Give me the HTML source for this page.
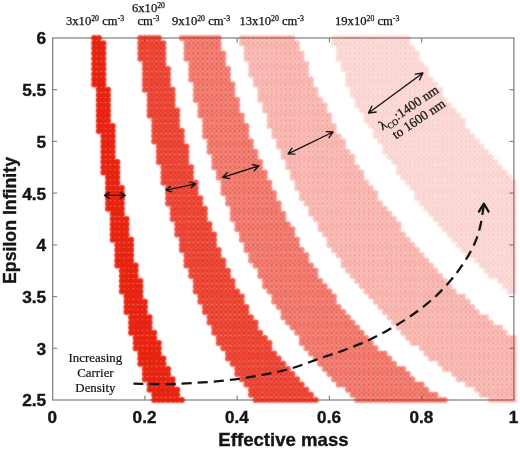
<!DOCTYPE html>
<html><head><meta charset="utf-8"><title>Effective mass vs Epsilon Infinity</title>
<style>html,body{margin:0;padding:0;background:#fff}svg{display:block}</style></head>
<body>
<svg width="520" height="449" viewBox="0 0 520 449">
<rect width="520" height="449" fill="#fff"/>
<rect x="52.7" y="38.0" width="461.2" height="362.0" fill="none" stroke="#7d7d7d" stroke-width="1.2"/>
<g stroke="#7d7d7d" stroke-width="1.1"><line x1="144.9" y1="400.0" x2="144.9" y2="395.5"/><line x1="144.9" y1="38.0" x2="144.9" y2="42.5"/><line x1="237.2" y1="400.0" x2="237.2" y2="395.5"/><line x1="237.2" y1="38.0" x2="237.2" y2="42.5"/><line x1="329.4" y1="400.0" x2="329.4" y2="395.5"/><line x1="329.4" y1="38.0" x2="329.4" y2="42.5"/><line x1="421.7" y1="400.0" x2="421.7" y2="395.5"/><line x1="421.7" y1="38.0" x2="421.7" y2="42.5"/><line x1="52.7" y1="348.3" x2="57.2" y2="348.3"/><line x1="513.9" y1="348.3" x2="509.4" y2="348.3"/><line x1="52.7" y1="296.6" x2="57.2" y2="296.6"/><line x1="513.9" y1="296.6" x2="509.4" y2="296.6"/><line x1="52.7" y1="244.9" x2="57.2" y2="244.9"/><line x1="513.9" y1="244.9" x2="509.4" y2="244.9"/><line x1="52.7" y1="193.1" x2="57.2" y2="193.1"/><line x1="513.9" y1="193.1" x2="509.4" y2="193.1"/><line x1="52.7" y1="141.4" x2="57.2" y2="141.4"/><line x1="513.9" y1="141.4" x2="509.4" y2="141.4"/><line x1="52.7" y1="89.7" x2="57.2" y2="89.7"/><line x1="513.9" y1="89.7" x2="509.4" y2="89.7"/></g>
<defs><filter id="bl" color-interpolation-filters="sRGB" x="-5%" y="-5%" width="110%" height="110%"><feGaussianBlur stdDeviation="0.9" result="b"/><feComposite in="SourceGraphic" in2="b" operator="arithmetic" k1="0" k2="0.45" k3="0.55" k4="0"/></filter></defs><g filter="url(#bl)"><g fill="#e61c08" fill-opacity="0.97"><circle cx="94.2" cy="84.5" r="3.0"/><circle cx="94.2" cy="79.4" r="3.0"/><circle cx="94.2" cy="74.2" r="3.0"/><circle cx="94.2" cy="69.0" r="3.0"/><circle cx="94.2" cy="63.9" r="3.0"/><circle cx="94.2" cy="58.7" r="3.0"/><circle cx="94.2" cy="53.5" r="3.0"/><circle cx="94.2" cy="48.3" r="3.0"/><circle cx="94.2" cy="43.2" r="3.0"/><circle cx="94.2" cy="38.0" r="3.0"/><circle cx="98.8" cy="131.1" r="3.0"/><circle cx="98.8" cy="125.9" r="3.0"/><circle cx="98.8" cy="120.7" r="3.0"/><circle cx="98.8" cy="115.6" r="3.0"/><circle cx="98.8" cy="110.4" r="3.0"/><circle cx="98.8" cy="105.2" r="3.0"/><circle cx="98.8" cy="100.1" r="3.0"/><circle cx="98.8" cy="94.9" r="3.0"/><circle cx="98.8" cy="89.7" r="3.0"/><circle cx="98.8" cy="84.5" r="3.0"/><circle cx="98.8" cy="79.4" r="3.0"/><circle cx="98.8" cy="74.2" r="3.0"/><circle cx="98.8" cy="69.0" r="3.0"/><circle cx="98.8" cy="63.9" r="3.0"/><circle cx="98.8" cy="58.7" r="3.0"/><circle cx="98.8" cy="53.5" r="3.0"/><circle cx="98.8" cy="48.3" r="3.0"/><circle cx="98.8" cy="43.2" r="3.0"/><circle cx="98.8" cy="38.0" r="3.0"/><circle cx="103.4" cy="172.5" r="3.0"/><circle cx="103.4" cy="167.3" r="3.0"/><circle cx="103.4" cy="162.1" r="3.0"/><circle cx="103.4" cy="156.9" r="3.0"/><circle cx="103.4" cy="151.8" r="3.0"/><circle cx="103.4" cy="146.6" r="3.0"/><circle cx="103.4" cy="141.4" r="3.0"/><circle cx="103.4" cy="136.3" r="3.0"/><circle cx="103.4" cy="131.1" r="3.0"/><circle cx="103.4" cy="125.9" r="3.0"/><circle cx="103.4" cy="120.7" r="3.0"/><circle cx="103.4" cy="115.6" r="3.0"/><circle cx="103.4" cy="110.4" r="3.0"/><circle cx="103.4" cy="105.2" r="3.0"/><circle cx="103.4" cy="100.1" r="3.0"/><circle cx="103.4" cy="94.9" r="3.0"/><circle cx="103.4" cy="89.7" r="3.0"/><circle cx="103.4" cy="84.5" r="3.0"/><circle cx="103.4" cy="79.4" r="3.0"/><circle cx="103.4" cy="74.2" r="3.0"/><circle cx="103.4" cy="69.0" r="3.0"/><circle cx="103.4" cy="63.9" r="3.0"/><circle cx="103.4" cy="58.7" r="3.0"/><circle cx="103.4" cy="53.5" r="3.0"/><circle cx="103.4" cy="48.3" r="3.0"/><circle cx="103.4" cy="43.2" r="3.0"/><circle cx="108.0" cy="208.7" r="3.0"/><circle cx="108.0" cy="203.5" r="3.0"/><circle cx="108.0" cy="198.3" r="3.0"/><circle cx="108.0" cy="193.1" r="3.0"/><circle cx="108.0" cy="188.0" r="3.0"/><circle cx="108.0" cy="182.8" r="3.0"/><circle cx="108.0" cy="177.6" r="3.0"/><circle cx="108.0" cy="172.5" r="3.0"/><circle cx="108.0" cy="167.3" r="3.0"/><circle cx="108.0" cy="162.1" r="3.0"/><circle cx="108.0" cy="156.9" r="3.0"/><circle cx="108.0" cy="151.8" r="3.0"/><circle cx="108.0" cy="146.6" r="3.0"/><circle cx="108.0" cy="141.4" r="3.0"/><circle cx="108.0" cy="136.3" r="3.0"/><circle cx="108.0" cy="131.1" r="3.0"/><circle cx="108.0" cy="125.9" r="3.0"/><circle cx="108.0" cy="120.7" r="3.0"/><circle cx="108.0" cy="115.6" r="3.0"/><circle cx="108.0" cy="110.4" r="3.0"/><circle cx="108.0" cy="105.2" r="3.0"/><circle cx="108.0" cy="100.1" r="3.0"/><circle cx="108.0" cy="94.9" r="3.0"/><circle cx="108.0" cy="89.7" r="3.0"/><circle cx="112.7" cy="239.7" r="3.0"/><circle cx="112.7" cy="234.5" r="3.0"/><circle cx="112.7" cy="229.3" r="3.0"/><circle cx="112.7" cy="224.2" r="3.0"/><circle cx="112.7" cy="219.0" r="3.0"/><circle cx="112.7" cy="213.8" r="3.0"/><circle cx="112.7" cy="208.7" r="3.0"/><circle cx="112.7" cy="203.5" r="3.0"/><circle cx="112.7" cy="198.3" r="3.0"/><circle cx="112.7" cy="193.1" r="3.0"/><circle cx="112.7" cy="188.0" r="3.0"/><circle cx="112.7" cy="182.8" r="3.0"/><circle cx="112.7" cy="177.6" r="3.0"/><circle cx="112.7" cy="172.5" r="3.0"/><circle cx="112.7" cy="167.3" r="3.0"/><circle cx="112.7" cy="162.1" r="3.0"/><circle cx="112.7" cy="156.9" r="3.0"/><circle cx="112.7" cy="151.8" r="3.0"/><circle cx="112.7" cy="146.6" r="3.0"/><circle cx="112.7" cy="141.4" r="3.0"/><circle cx="112.7" cy="136.3" r="3.0"/><circle cx="112.7" cy="131.1" r="3.0"/><circle cx="112.7" cy="125.9" r="3.0"/><circle cx="117.3" cy="265.5" r="3.0"/><circle cx="117.3" cy="260.4" r="3.0"/><circle cx="117.3" cy="255.2" r="3.0"/><circle cx="117.3" cy="250.0" r="3.0"/><circle cx="117.3" cy="244.9" r="3.0"/><circle cx="117.3" cy="239.7" r="3.0"/><circle cx="117.3" cy="234.5" r="3.0"/><circle cx="117.3" cy="229.3" r="3.0"/><circle cx="117.3" cy="224.2" r="3.0"/><circle cx="117.3" cy="219.0" r="3.0"/><circle cx="117.3" cy="213.8" r="3.0"/><circle cx="117.3" cy="208.7" r="3.0"/><circle cx="117.3" cy="203.5" r="3.0"/><circle cx="117.3" cy="198.3" r="3.0"/><circle cx="117.3" cy="193.1" r="3.0"/><circle cx="117.3" cy="188.0" r="3.0"/><circle cx="117.3" cy="182.8" r="3.0"/><circle cx="117.3" cy="177.6" r="3.0"/><circle cx="117.3" cy="172.5" r="3.0"/><circle cx="117.3" cy="167.3" r="3.0"/><circle cx="117.3" cy="162.1" r="3.0"/><circle cx="121.9" cy="291.4" r="3.0"/><circle cx="121.9" cy="286.2" r="3.0"/><circle cx="121.9" cy="281.1" r="3.0"/><circle cx="121.9" cy="275.9" r="3.0"/><circle cx="121.9" cy="270.7" r="3.0"/><circle cx="121.9" cy="265.5" r="3.0"/><circle cx="121.9" cy="260.4" r="3.0"/><circle cx="121.9" cy="255.2" r="3.0"/><circle cx="121.9" cy="250.0" r="3.0"/><circle cx="121.9" cy="244.9" r="3.0"/><circle cx="121.9" cy="239.7" r="3.0"/><circle cx="121.9" cy="234.5" r="3.0"/><circle cx="121.9" cy="229.3" r="3.0"/><circle cx="121.9" cy="224.2" r="3.0"/><circle cx="121.9" cy="219.0" r="3.0"/><circle cx="121.9" cy="213.8" r="3.0"/><circle cx="121.9" cy="208.7" r="3.0"/><circle cx="121.9" cy="203.5" r="3.0"/><circle cx="121.9" cy="198.3" r="3.0"/><circle cx="121.9" cy="193.1" r="3.0"/><circle cx="121.9" cy="188.0" r="3.0"/><circle cx="126.5" cy="312.1" r="3.0"/><circle cx="126.5" cy="306.9" r="3.0"/><circle cx="126.5" cy="301.7" r="3.0"/><circle cx="126.5" cy="296.6" r="3.0"/><circle cx="126.5" cy="291.4" r="3.0"/><circle cx="126.5" cy="286.2" r="3.0"/><circle cx="126.5" cy="281.1" r="3.0"/><circle cx="126.5" cy="275.9" r="3.0"/><circle cx="126.5" cy="270.7" r="3.0"/><circle cx="126.5" cy="265.5" r="3.0"/><circle cx="126.5" cy="260.4" r="3.0"/><circle cx="126.5" cy="255.2" r="3.0"/><circle cx="126.5" cy="250.0" r="3.0"/><circle cx="126.5" cy="244.9" r="3.0"/><circle cx="126.5" cy="239.7" r="3.0"/><circle cx="126.5" cy="234.5" r="3.0"/><circle cx="126.5" cy="229.3" r="3.0"/><circle cx="126.5" cy="224.2" r="3.0"/><circle cx="126.5" cy="219.0" r="3.0"/><circle cx="131.1" cy="332.8" r="3.0"/><circle cx="131.1" cy="327.6" r="3.0"/><circle cx="131.1" cy="322.4" r="3.0"/><circle cx="131.1" cy="317.3" r="3.0"/><circle cx="131.1" cy="312.1" r="3.0"/><circle cx="131.1" cy="306.9" r="3.0"/><circle cx="131.1" cy="301.7" r="3.0"/><circle cx="131.1" cy="296.6" r="3.0"/><circle cx="131.1" cy="291.4" r="3.0"/><circle cx="131.1" cy="286.2" r="3.0"/><circle cx="131.1" cy="281.1" r="3.0"/><circle cx="131.1" cy="275.9" r="3.0"/><circle cx="131.1" cy="270.7" r="3.0"/><circle cx="131.1" cy="265.5" r="3.0"/><circle cx="131.1" cy="260.4" r="3.0"/><circle cx="131.1" cy="255.2" r="3.0"/><circle cx="131.1" cy="250.0" r="3.0"/><circle cx="131.1" cy="244.9" r="3.0"/><circle cx="131.1" cy="239.7" r="3.0"/><circle cx="135.7" cy="348.3" r="3.0"/><circle cx="135.7" cy="343.1" r="3.0"/><circle cx="135.7" cy="337.9" r="3.0"/><circle cx="135.7" cy="332.8" r="3.0"/><circle cx="135.7" cy="327.6" r="3.0"/><circle cx="135.7" cy="322.4" r="3.0"/><circle cx="135.7" cy="317.3" r="3.0"/><circle cx="135.7" cy="312.1" r="3.0"/><circle cx="135.7" cy="306.9" r="3.0"/><circle cx="135.7" cy="301.7" r="3.0"/><circle cx="135.7" cy="296.6" r="3.0"/><circle cx="135.7" cy="291.4" r="3.0"/><circle cx="135.7" cy="286.2" r="3.0"/><circle cx="135.7" cy="281.1" r="3.0"/><circle cx="135.7" cy="275.9" r="3.0"/><circle cx="135.7" cy="270.7" r="3.0"/><circle cx="135.7" cy="265.5" r="3.0"/><circle cx="140.3" cy="363.8" r="3.0"/><circle cx="140.3" cy="358.6" r="3.0"/><circle cx="140.3" cy="353.5" r="3.0"/><circle cx="140.3" cy="348.3" r="3.0"/><circle cx="140.3" cy="343.1" r="3.0"/><circle cx="140.3" cy="337.9" r="3.0"/><circle cx="140.3" cy="332.8" r="3.0"/><circle cx="140.3" cy="327.6" r="3.0"/><circle cx="140.3" cy="322.4" r="3.0"/><circle cx="140.3" cy="317.3" r="3.0"/><circle cx="140.3" cy="312.1" r="3.0"/><circle cx="140.3" cy="306.9" r="3.0"/><circle cx="140.3" cy="301.7" r="3.0"/><circle cx="140.3" cy="296.6" r="3.0"/><circle cx="140.3" cy="291.4" r="3.0"/><circle cx="140.3" cy="286.2" r="3.0"/><circle cx="140.3" cy="281.1" r="3.0"/><circle cx="144.9" cy="379.3" r="3.0"/><circle cx="144.9" cy="374.1" r="3.0"/><circle cx="144.9" cy="369.0" r="3.0"/><circle cx="144.9" cy="363.8" r="3.0"/><circle cx="144.9" cy="358.6" r="3.0"/><circle cx="144.9" cy="353.5" r="3.0"/><circle cx="144.9" cy="348.3" r="3.0"/><circle cx="144.9" cy="343.1" r="3.0"/><circle cx="144.9" cy="337.9" r="3.0"/><circle cx="144.9" cy="332.8" r="3.0"/><circle cx="144.9" cy="327.6" r="3.0"/><circle cx="144.9" cy="322.4" r="3.0"/><circle cx="144.9" cy="317.3" r="3.0"/><circle cx="144.9" cy="312.1" r="3.0"/><circle cx="144.9" cy="306.9" r="3.0"/><circle cx="144.9" cy="301.7" r="3.0"/><circle cx="149.6" cy="389.7" r="3.0"/><circle cx="149.6" cy="384.5" r="3.0"/><circle cx="149.6" cy="379.3" r="3.0"/><circle cx="149.6" cy="374.1" r="3.0"/><circle cx="149.6" cy="369.0" r="3.0"/><circle cx="149.6" cy="363.8" r="3.0"/><circle cx="149.6" cy="358.6" r="3.0"/><circle cx="149.6" cy="353.5" r="3.0"/><circle cx="149.6" cy="348.3" r="3.0"/><circle cx="149.6" cy="343.1" r="3.0"/><circle cx="149.6" cy="337.9" r="3.0"/><circle cx="149.6" cy="332.8" r="3.0"/><circle cx="149.6" cy="327.6" r="3.0"/><circle cx="149.6" cy="322.4" r="3.0"/><circle cx="149.6" cy="317.3" r="3.0"/><circle cx="154.2" cy="400.0" r="3.0"/><circle cx="154.2" cy="394.8" r="3.0"/><circle cx="154.2" cy="389.7" r="3.0"/><circle cx="154.2" cy="384.5" r="3.0"/><circle cx="154.2" cy="379.3" r="3.0"/><circle cx="154.2" cy="374.1" r="3.0"/><circle cx="154.2" cy="369.0" r="3.0"/><circle cx="154.2" cy="363.8" r="3.0"/><circle cx="154.2" cy="358.6" r="3.0"/><circle cx="154.2" cy="353.5" r="3.0"/><circle cx="154.2" cy="348.3" r="3.0"/><circle cx="154.2" cy="343.1" r="3.0"/><circle cx="154.2" cy="337.9" r="3.0"/><circle cx="154.2" cy="332.8" r="3.0"/><circle cx="158.8" cy="400.0" r="3.0"/><circle cx="158.8" cy="394.8" r="3.0"/><circle cx="158.8" cy="389.7" r="3.0"/><circle cx="158.8" cy="384.5" r="3.0"/><circle cx="158.8" cy="379.3" r="3.0"/><circle cx="158.8" cy="374.1" r="3.0"/><circle cx="158.8" cy="369.0" r="3.0"/><circle cx="158.8" cy="363.8" r="3.0"/><circle cx="158.8" cy="358.6" r="3.0"/><circle cx="158.8" cy="353.5" r="3.0"/><circle cx="158.8" cy="348.3" r="3.0"/><circle cx="158.8" cy="343.1" r="3.0"/><circle cx="163.4" cy="400.0" r="3.0"/><circle cx="163.4" cy="394.8" r="3.0"/><circle cx="163.4" cy="389.7" r="3.0"/><circle cx="163.4" cy="384.5" r="3.0"/><circle cx="163.4" cy="379.3" r="3.0"/><circle cx="163.4" cy="374.1" r="3.0"/><circle cx="163.4" cy="369.0" r="3.0"/><circle cx="163.4" cy="363.8" r="3.0"/><circle cx="163.4" cy="358.6" r="3.0"/><circle cx="168.0" cy="400.0" r="3.0"/><circle cx="168.0" cy="394.8" r="3.0"/><circle cx="168.0" cy="389.7" r="3.0"/><circle cx="168.0" cy="384.5" r="3.0"/><circle cx="168.0" cy="379.3" r="3.0"/><circle cx="168.0" cy="374.1" r="3.0"/><circle cx="168.0" cy="369.0" r="3.0"/><circle cx="172.6" cy="400.0" r="3.0"/><circle cx="172.6" cy="394.8" r="3.0"/><circle cx="172.6" cy="389.7" r="3.0"/><circle cx="172.6" cy="384.5" r="3.0"/><circle cx="172.6" cy="379.3" r="3.0"/><circle cx="177.2" cy="400.0" r="3.0"/><circle cx="177.2" cy="394.8" r="3.0"/><circle cx="177.2" cy="389.7" r="3.0"/><circle cx="181.8" cy="400.0" r="3.0"/></g>
<g fill="#e61c08" fill-opacity="0.79"><circle cx="140.3" cy="58.7" r="3.0"/><circle cx="140.3" cy="53.5" r="3.0"/><circle cx="140.3" cy="48.3" r="3.0"/><circle cx="140.3" cy="43.2" r="3.0"/><circle cx="140.3" cy="38.0" r="3.0"/><circle cx="144.9" cy="89.7" r="3.0"/><circle cx="144.9" cy="84.5" r="3.0"/><circle cx="144.9" cy="79.4" r="3.0"/><circle cx="144.9" cy="74.2" r="3.0"/><circle cx="144.9" cy="69.0" r="3.0"/><circle cx="144.9" cy="63.9" r="3.0"/><circle cx="144.9" cy="58.7" r="3.0"/><circle cx="144.9" cy="53.5" r="3.0"/><circle cx="144.9" cy="48.3" r="3.0"/><circle cx="144.9" cy="43.2" r="3.0"/><circle cx="144.9" cy="38.0" r="3.0"/><circle cx="149.6" cy="115.6" r="3.0"/><circle cx="149.6" cy="110.4" r="3.0"/><circle cx="149.6" cy="105.2" r="3.0"/><circle cx="149.6" cy="100.1" r="3.0"/><circle cx="149.6" cy="94.9" r="3.0"/><circle cx="149.6" cy="89.7" r="3.0"/><circle cx="149.6" cy="84.5" r="3.0"/><circle cx="149.6" cy="79.4" r="3.0"/><circle cx="149.6" cy="74.2" r="3.0"/><circle cx="149.6" cy="69.0" r="3.0"/><circle cx="149.6" cy="63.9" r="3.0"/><circle cx="149.6" cy="58.7" r="3.0"/><circle cx="149.6" cy="53.5" r="3.0"/><circle cx="149.6" cy="48.3" r="3.0"/><circle cx="149.6" cy="43.2" r="3.0"/><circle cx="149.6" cy="38.0" r="3.0"/><circle cx="154.2" cy="141.4" r="3.0"/><circle cx="154.2" cy="136.3" r="3.0"/><circle cx="154.2" cy="131.1" r="3.0"/><circle cx="154.2" cy="125.9" r="3.0"/><circle cx="154.2" cy="120.7" r="3.0"/><circle cx="154.2" cy="115.6" r="3.0"/><circle cx="154.2" cy="110.4" r="3.0"/><circle cx="154.2" cy="105.2" r="3.0"/><circle cx="154.2" cy="100.1" r="3.0"/><circle cx="154.2" cy="94.9" r="3.0"/><circle cx="154.2" cy="89.7" r="3.0"/><circle cx="154.2" cy="84.5" r="3.0"/><circle cx="154.2" cy="79.4" r="3.0"/><circle cx="154.2" cy="74.2" r="3.0"/><circle cx="154.2" cy="69.0" r="3.0"/><circle cx="154.2" cy="63.9" r="3.0"/><circle cx="154.2" cy="58.7" r="3.0"/><circle cx="154.2" cy="53.5" r="3.0"/><circle cx="154.2" cy="48.3" r="3.0"/><circle cx="154.2" cy="43.2" r="3.0"/><circle cx="154.2" cy="38.0" r="3.0"/><circle cx="158.8" cy="162.1" r="3.0"/><circle cx="158.8" cy="156.9" r="3.0"/><circle cx="158.8" cy="151.8" r="3.0"/><circle cx="158.8" cy="146.6" r="3.0"/><circle cx="158.8" cy="141.4" r="3.0"/><circle cx="158.8" cy="136.3" r="3.0"/><circle cx="158.8" cy="131.1" r="3.0"/><circle cx="158.8" cy="125.9" r="3.0"/><circle cx="158.8" cy="120.7" r="3.0"/><circle cx="158.8" cy="115.6" r="3.0"/><circle cx="158.8" cy="110.4" r="3.0"/><circle cx="158.8" cy="105.2" r="3.0"/><circle cx="158.8" cy="100.1" r="3.0"/><circle cx="158.8" cy="94.9" r="3.0"/><circle cx="158.8" cy="89.7" r="3.0"/><circle cx="158.8" cy="84.5" r="3.0"/><circle cx="158.8" cy="79.4" r="3.0"/><circle cx="158.8" cy="74.2" r="3.0"/><circle cx="158.8" cy="69.0" r="3.0"/><circle cx="158.8" cy="63.9" r="3.0"/><circle cx="158.8" cy="58.7" r="3.0"/><circle cx="158.8" cy="53.5" r="3.0"/><circle cx="158.8" cy="48.3" r="3.0"/><circle cx="158.8" cy="43.2" r="3.0"/><circle cx="158.8" cy="38.0" r="3.0"/><circle cx="163.4" cy="182.8" r="3.0"/><circle cx="163.4" cy="177.6" r="3.0"/><circle cx="163.4" cy="172.5" r="3.0"/><circle cx="163.4" cy="167.3" r="3.0"/><circle cx="163.4" cy="162.1" r="3.0"/><circle cx="163.4" cy="156.9" r="3.0"/><circle cx="163.4" cy="151.8" r="3.0"/><circle cx="163.4" cy="146.6" r="3.0"/><circle cx="163.4" cy="141.4" r="3.0"/><circle cx="163.4" cy="136.3" r="3.0"/><circle cx="163.4" cy="131.1" r="3.0"/><circle cx="163.4" cy="125.9" r="3.0"/><circle cx="163.4" cy="120.7" r="3.0"/><circle cx="163.4" cy="115.6" r="3.0"/><circle cx="163.4" cy="110.4" r="3.0"/><circle cx="163.4" cy="105.2" r="3.0"/><circle cx="163.4" cy="100.1" r="3.0"/><circle cx="163.4" cy="94.9" r="3.0"/><circle cx="163.4" cy="89.7" r="3.0"/><circle cx="163.4" cy="84.5" r="3.0"/><circle cx="163.4" cy="79.4" r="3.0"/><circle cx="163.4" cy="74.2" r="3.0"/><circle cx="163.4" cy="69.0" r="3.0"/><circle cx="163.4" cy="63.9" r="3.0"/><circle cx="163.4" cy="58.7" r="3.0"/><circle cx="163.4" cy="53.5" r="3.0"/><circle cx="163.4" cy="48.3" r="3.0"/><circle cx="163.4" cy="43.2" r="3.0"/><circle cx="168.0" cy="203.5" r="3.0"/><circle cx="168.0" cy="198.3" r="3.0"/><circle cx="168.0" cy="193.1" r="3.0"/><circle cx="168.0" cy="188.0" r="3.0"/><circle cx="168.0" cy="182.8" r="3.0"/><circle cx="168.0" cy="177.6" r="3.0"/><circle cx="168.0" cy="172.5" r="3.0"/><circle cx="168.0" cy="167.3" r="3.0"/><circle cx="168.0" cy="162.1" r="3.0"/><circle cx="168.0" cy="156.9" r="3.0"/><circle cx="168.0" cy="151.8" r="3.0"/><circle cx="168.0" cy="146.6" r="3.0"/><circle cx="168.0" cy="141.4" r="3.0"/><circle cx="168.0" cy="136.3" r="3.0"/><circle cx="168.0" cy="131.1" r="3.0"/><circle cx="168.0" cy="125.9" r="3.0"/><circle cx="168.0" cy="120.7" r="3.0"/><circle cx="168.0" cy="115.6" r="3.0"/><circle cx="168.0" cy="110.4" r="3.0"/><circle cx="168.0" cy="105.2" r="3.0"/><circle cx="168.0" cy="100.1" r="3.0"/><circle cx="168.0" cy="94.9" r="3.0"/><circle cx="168.0" cy="89.7" r="3.0"/><circle cx="168.0" cy="84.5" r="3.0"/><circle cx="168.0" cy="79.4" r="3.0"/><circle cx="168.0" cy="74.2" r="3.0"/><circle cx="168.0" cy="69.0" r="3.0"/><circle cx="172.6" cy="219.0" r="3.0"/><circle cx="172.6" cy="213.8" r="3.0"/><circle cx="172.6" cy="208.7" r="3.0"/><circle cx="172.6" cy="203.5" r="3.0"/><circle cx="172.6" cy="198.3" r="3.0"/><circle cx="172.6" cy="193.1" r="3.0"/><circle cx="172.6" cy="188.0" r="3.0"/><circle cx="172.6" cy="182.8" r="3.0"/><circle cx="172.6" cy="177.6" r="3.0"/><circle cx="172.6" cy="172.5" r="3.0"/><circle cx="172.6" cy="167.3" r="3.0"/><circle cx="172.6" cy="162.1" r="3.0"/><circle cx="172.6" cy="156.9" r="3.0"/><circle cx="172.6" cy="151.8" r="3.0"/><circle cx="172.6" cy="146.6" r="3.0"/><circle cx="172.6" cy="141.4" r="3.0"/><circle cx="172.6" cy="136.3" r="3.0"/><circle cx="172.6" cy="131.1" r="3.0"/><circle cx="172.6" cy="125.9" r="3.0"/><circle cx="172.6" cy="120.7" r="3.0"/><circle cx="172.6" cy="115.6" r="3.0"/><circle cx="172.6" cy="110.4" r="3.0"/><circle cx="172.6" cy="105.2" r="3.0"/><circle cx="172.6" cy="100.1" r="3.0"/><circle cx="172.6" cy="94.9" r="3.0"/><circle cx="172.6" cy="89.7" r="3.0"/><circle cx="177.2" cy="234.5" r="3.0"/><circle cx="177.2" cy="229.3" r="3.0"/><circle cx="177.2" cy="224.2" r="3.0"/><circle cx="177.2" cy="219.0" r="3.0"/><circle cx="177.2" cy="213.8" r="3.0"/><circle cx="177.2" cy="208.7" r="3.0"/><circle cx="177.2" cy="203.5" r="3.0"/><circle cx="177.2" cy="198.3" r="3.0"/><circle cx="177.2" cy="193.1" r="3.0"/><circle cx="177.2" cy="188.0" r="3.0"/><circle cx="177.2" cy="182.8" r="3.0"/><circle cx="177.2" cy="177.6" r="3.0"/><circle cx="177.2" cy="172.5" r="3.0"/><circle cx="177.2" cy="167.3" r="3.0"/><circle cx="177.2" cy="162.1" r="3.0"/><circle cx="177.2" cy="156.9" r="3.0"/><circle cx="177.2" cy="151.8" r="3.0"/><circle cx="177.2" cy="146.6" r="3.0"/><circle cx="177.2" cy="141.4" r="3.0"/><circle cx="177.2" cy="136.3" r="3.0"/><circle cx="177.2" cy="131.1" r="3.0"/><circle cx="177.2" cy="125.9" r="3.0"/><circle cx="177.2" cy="120.7" r="3.0"/><circle cx="177.2" cy="115.6" r="3.0"/><circle cx="177.2" cy="110.4" r="3.0"/><circle cx="181.8" cy="250.0" r="3.0"/><circle cx="181.8" cy="244.9" r="3.0"/><circle cx="181.8" cy="239.7" r="3.0"/><circle cx="181.8" cy="234.5" r="3.0"/><circle cx="181.8" cy="229.3" r="3.0"/><circle cx="181.8" cy="224.2" r="3.0"/><circle cx="181.8" cy="219.0" r="3.0"/><circle cx="181.8" cy="213.8" r="3.0"/><circle cx="181.8" cy="208.7" r="3.0"/><circle cx="181.8" cy="203.5" r="3.0"/><circle cx="181.8" cy="198.3" r="3.0"/><circle cx="181.8" cy="193.1" r="3.0"/><circle cx="181.8" cy="188.0" r="3.0"/><circle cx="181.8" cy="182.8" r="3.0"/><circle cx="181.8" cy="177.6" r="3.0"/><circle cx="181.8" cy="172.5" r="3.0"/><circle cx="181.8" cy="167.3" r="3.0"/><circle cx="181.8" cy="162.1" r="3.0"/><circle cx="181.8" cy="156.9" r="3.0"/><circle cx="181.8" cy="151.8" r="3.0"/><circle cx="181.8" cy="146.6" r="3.0"/><circle cx="181.8" cy="141.4" r="3.0"/><circle cx="181.8" cy="136.3" r="3.0"/><circle cx="181.8" cy="131.1" r="3.0"/><circle cx="186.4" cy="265.5" r="3.0"/><circle cx="186.4" cy="260.4" r="3.0"/><circle cx="186.4" cy="255.2" r="3.0"/><circle cx="186.4" cy="250.0" r="3.0"/><circle cx="186.4" cy="244.9" r="3.0"/><circle cx="186.4" cy="239.7" r="3.0"/><circle cx="186.4" cy="234.5" r="3.0"/><circle cx="186.4" cy="229.3" r="3.0"/><circle cx="186.4" cy="224.2" r="3.0"/><circle cx="186.4" cy="219.0" r="3.0"/><circle cx="186.4" cy="213.8" r="3.0"/><circle cx="186.4" cy="208.7" r="3.0"/><circle cx="186.4" cy="203.5" r="3.0"/><circle cx="186.4" cy="198.3" r="3.0"/><circle cx="186.4" cy="193.1" r="3.0"/><circle cx="186.4" cy="188.0" r="3.0"/><circle cx="186.4" cy="182.8" r="3.0"/><circle cx="186.4" cy="177.6" r="3.0"/><circle cx="186.4" cy="172.5" r="3.0"/><circle cx="186.4" cy="167.3" r="3.0"/><circle cx="186.4" cy="162.1" r="3.0"/><circle cx="186.4" cy="156.9" r="3.0"/><circle cx="186.4" cy="151.8" r="3.0"/><circle cx="186.4" cy="146.6" r="3.0"/><circle cx="191.1" cy="275.9" r="3.0"/><circle cx="191.1" cy="270.7" r="3.0"/><circle cx="191.1" cy="265.5" r="3.0"/><circle cx="191.1" cy="260.4" r="3.0"/><circle cx="191.1" cy="255.2" r="3.0"/><circle cx="191.1" cy="250.0" r="3.0"/><circle cx="191.1" cy="244.9" r="3.0"/><circle cx="191.1" cy="239.7" r="3.0"/><circle cx="191.1" cy="234.5" r="3.0"/><circle cx="191.1" cy="229.3" r="3.0"/><circle cx="191.1" cy="224.2" r="3.0"/><circle cx="191.1" cy="219.0" r="3.0"/><circle cx="191.1" cy="213.8" r="3.0"/><circle cx="191.1" cy="208.7" r="3.0"/><circle cx="191.1" cy="203.5" r="3.0"/><circle cx="191.1" cy="198.3" r="3.0"/><circle cx="191.1" cy="193.1" r="3.0"/><circle cx="191.1" cy="188.0" r="3.0"/><circle cx="191.1" cy="182.8" r="3.0"/><circle cx="191.1" cy="177.6" r="3.0"/><circle cx="191.1" cy="172.5" r="3.0"/><circle cx="191.1" cy="167.3" r="3.0"/><circle cx="195.7" cy="291.4" r="3.0"/><circle cx="195.7" cy="286.2" r="3.0"/><circle cx="195.7" cy="281.1" r="3.0"/><circle cx="195.7" cy="275.9" r="3.0"/><circle cx="195.7" cy="270.7" r="3.0"/><circle cx="195.7" cy="265.5" r="3.0"/><circle cx="195.7" cy="260.4" r="3.0"/><circle cx="195.7" cy="255.2" r="3.0"/><circle cx="195.7" cy="250.0" r="3.0"/><circle cx="195.7" cy="244.9" r="3.0"/><circle cx="195.7" cy="239.7" r="3.0"/><circle cx="195.7" cy="234.5" r="3.0"/><circle cx="195.7" cy="229.3" r="3.0"/><circle cx="195.7" cy="224.2" r="3.0"/><circle cx="195.7" cy="219.0" r="3.0"/><circle cx="195.7" cy="213.8" r="3.0"/><circle cx="195.7" cy="208.7" r="3.0"/><circle cx="195.7" cy="203.5" r="3.0"/><circle cx="195.7" cy="198.3" r="3.0"/><circle cx="195.7" cy="193.1" r="3.0"/><circle cx="195.7" cy="188.0" r="3.0"/><circle cx="195.7" cy="182.8" r="3.0"/><circle cx="200.3" cy="301.7" r="3.0"/><circle cx="200.3" cy="296.6" r="3.0"/><circle cx="200.3" cy="291.4" r="3.0"/><circle cx="200.3" cy="286.2" r="3.0"/><circle cx="200.3" cy="281.1" r="3.0"/><circle cx="200.3" cy="275.9" r="3.0"/><circle cx="200.3" cy="270.7" r="3.0"/><circle cx="200.3" cy="265.5" r="3.0"/><circle cx="200.3" cy="260.4" r="3.0"/><circle cx="200.3" cy="255.2" r="3.0"/><circle cx="200.3" cy="250.0" r="3.0"/><circle cx="200.3" cy="244.9" r="3.0"/><circle cx="200.3" cy="239.7" r="3.0"/><circle cx="200.3" cy="234.5" r="3.0"/><circle cx="200.3" cy="229.3" r="3.0"/><circle cx="200.3" cy="224.2" r="3.0"/><circle cx="200.3" cy="219.0" r="3.0"/><circle cx="200.3" cy="213.8" r="3.0"/><circle cx="200.3" cy="208.7" r="3.0"/><circle cx="200.3" cy="203.5" r="3.0"/><circle cx="200.3" cy="198.3" r="3.0"/><circle cx="204.9" cy="312.1" r="3.0"/><circle cx="204.9" cy="306.9" r="3.0"/><circle cx="204.9" cy="301.7" r="3.0"/><circle cx="204.9" cy="296.6" r="3.0"/><circle cx="204.9" cy="291.4" r="3.0"/><circle cx="204.9" cy="286.2" r="3.0"/><circle cx="204.9" cy="281.1" r="3.0"/><circle cx="204.9" cy="275.9" r="3.0"/><circle cx="204.9" cy="270.7" r="3.0"/><circle cx="204.9" cy="265.5" r="3.0"/><circle cx="204.9" cy="260.4" r="3.0"/><circle cx="204.9" cy="255.2" r="3.0"/><circle cx="204.9" cy="250.0" r="3.0"/><circle cx="204.9" cy="244.9" r="3.0"/><circle cx="204.9" cy="239.7" r="3.0"/><circle cx="204.9" cy="234.5" r="3.0"/><circle cx="204.9" cy="229.3" r="3.0"/><circle cx="204.9" cy="224.2" r="3.0"/><circle cx="204.9" cy="219.0" r="3.0"/><circle cx="204.9" cy="213.8" r="3.0"/><circle cx="204.9" cy="208.7" r="3.0"/><circle cx="209.5" cy="322.4" r="3.0"/><circle cx="209.5" cy="317.3" r="3.0"/><circle cx="209.5" cy="312.1" r="3.0"/><circle cx="209.5" cy="306.9" r="3.0"/><circle cx="209.5" cy="301.7" r="3.0"/><circle cx="209.5" cy="296.6" r="3.0"/><circle cx="209.5" cy="291.4" r="3.0"/><circle cx="209.5" cy="286.2" r="3.0"/><circle cx="209.5" cy="281.1" r="3.0"/><circle cx="209.5" cy="275.9" r="3.0"/><circle cx="209.5" cy="270.7" r="3.0"/><circle cx="209.5" cy="265.5" r="3.0"/><circle cx="209.5" cy="260.4" r="3.0"/><circle cx="209.5" cy="255.2" r="3.0"/><circle cx="209.5" cy="250.0" r="3.0"/><circle cx="209.5" cy="244.9" r="3.0"/><circle cx="209.5" cy="239.7" r="3.0"/><circle cx="209.5" cy="234.5" r="3.0"/><circle cx="209.5" cy="229.3" r="3.0"/><circle cx="209.5" cy="224.2" r="3.0"/><circle cx="214.1" cy="332.8" r="3.0"/><circle cx="214.1" cy="327.6" r="3.0"/><circle cx="214.1" cy="322.4" r="3.0"/><circle cx="214.1" cy="317.3" r="3.0"/><circle cx="214.1" cy="312.1" r="3.0"/><circle cx="214.1" cy="306.9" r="3.0"/><circle cx="214.1" cy="301.7" r="3.0"/><circle cx="214.1" cy="296.6" r="3.0"/><circle cx="214.1" cy="291.4" r="3.0"/><circle cx="214.1" cy="286.2" r="3.0"/><circle cx="214.1" cy="281.1" r="3.0"/><circle cx="214.1" cy="275.9" r="3.0"/><circle cx="214.1" cy="270.7" r="3.0"/><circle cx="214.1" cy="265.5" r="3.0"/><circle cx="214.1" cy="260.4" r="3.0"/><circle cx="214.1" cy="255.2" r="3.0"/><circle cx="214.1" cy="250.0" r="3.0"/><circle cx="214.1" cy="244.9" r="3.0"/><circle cx="214.1" cy="239.7" r="3.0"/><circle cx="214.1" cy="234.5" r="3.0"/><circle cx="218.7" cy="343.1" r="3.0"/><circle cx="218.7" cy="337.9" r="3.0"/><circle cx="218.7" cy="332.8" r="3.0"/><circle cx="218.7" cy="327.6" r="3.0"/><circle cx="218.7" cy="322.4" r="3.0"/><circle cx="218.7" cy="317.3" r="3.0"/><circle cx="218.7" cy="312.1" r="3.0"/><circle cx="218.7" cy="306.9" r="3.0"/><circle cx="218.7" cy="301.7" r="3.0"/><circle cx="218.7" cy="296.6" r="3.0"/><circle cx="218.7" cy="291.4" r="3.0"/><circle cx="218.7" cy="286.2" r="3.0"/><circle cx="218.7" cy="281.1" r="3.0"/><circle cx="218.7" cy="275.9" r="3.0"/><circle cx="218.7" cy="270.7" r="3.0"/><circle cx="218.7" cy="265.5" r="3.0"/><circle cx="218.7" cy="260.4" r="3.0"/><circle cx="218.7" cy="255.2" r="3.0"/><circle cx="218.7" cy="250.0" r="3.0"/><circle cx="223.3" cy="348.3" r="3.0"/><circle cx="223.3" cy="343.1" r="3.0"/><circle cx="223.3" cy="337.9" r="3.0"/><circle cx="223.3" cy="332.8" r="3.0"/><circle cx="223.3" cy="327.6" r="3.0"/><circle cx="223.3" cy="322.4" r="3.0"/><circle cx="223.3" cy="317.3" r="3.0"/><circle cx="223.3" cy="312.1" r="3.0"/><circle cx="223.3" cy="306.9" r="3.0"/><circle cx="223.3" cy="301.7" r="3.0"/><circle cx="223.3" cy="296.6" r="3.0"/><circle cx="223.3" cy="291.4" r="3.0"/><circle cx="223.3" cy="286.2" r="3.0"/><circle cx="223.3" cy="281.1" r="3.0"/><circle cx="223.3" cy="275.9" r="3.0"/><circle cx="223.3" cy="270.7" r="3.0"/><circle cx="223.3" cy="265.5" r="3.0"/><circle cx="223.3" cy="260.4" r="3.0"/><circle cx="228.0" cy="358.6" r="3.0"/><circle cx="228.0" cy="353.5" r="3.0"/><circle cx="228.0" cy="348.3" r="3.0"/><circle cx="228.0" cy="343.1" r="3.0"/><circle cx="228.0" cy="337.9" r="3.0"/><circle cx="228.0" cy="332.8" r="3.0"/><circle cx="228.0" cy="327.6" r="3.0"/><circle cx="228.0" cy="322.4" r="3.0"/><circle cx="228.0" cy="317.3" r="3.0"/><circle cx="228.0" cy="312.1" r="3.0"/><circle cx="228.0" cy="306.9" r="3.0"/><circle cx="228.0" cy="301.7" r="3.0"/><circle cx="228.0" cy="296.6" r="3.0"/><circle cx="228.0" cy="291.4" r="3.0"/><circle cx="228.0" cy="286.2" r="3.0"/><circle cx="228.0" cy="281.1" r="3.0"/><circle cx="228.0" cy="275.9" r="3.0"/><circle cx="228.0" cy="270.7" r="3.0"/><circle cx="232.6" cy="363.8" r="3.0"/><circle cx="232.6" cy="358.6" r="3.0"/><circle cx="232.6" cy="353.5" r="3.0"/><circle cx="232.6" cy="348.3" r="3.0"/><circle cx="232.6" cy="343.1" r="3.0"/><circle cx="232.6" cy="337.9" r="3.0"/><circle cx="232.6" cy="332.8" r="3.0"/><circle cx="232.6" cy="327.6" r="3.0"/><circle cx="232.6" cy="322.4" r="3.0"/><circle cx="232.6" cy="317.3" r="3.0"/><circle cx="232.6" cy="312.1" r="3.0"/><circle cx="232.6" cy="306.9" r="3.0"/><circle cx="232.6" cy="301.7" r="3.0"/><circle cx="232.6" cy="296.6" r="3.0"/><circle cx="232.6" cy="291.4" r="3.0"/><circle cx="232.6" cy="286.2" r="3.0"/><circle cx="232.6" cy="281.1" r="3.0"/><circle cx="237.2" cy="374.1" r="3.0"/><circle cx="237.2" cy="369.0" r="3.0"/><circle cx="237.2" cy="363.8" r="3.0"/><circle cx="237.2" cy="358.6" r="3.0"/><circle cx="237.2" cy="353.5" r="3.0"/><circle cx="237.2" cy="348.3" r="3.0"/><circle cx="237.2" cy="343.1" r="3.0"/><circle cx="237.2" cy="337.9" r="3.0"/><circle cx="237.2" cy="332.8" r="3.0"/><circle cx="237.2" cy="327.6" r="3.0"/><circle cx="237.2" cy="322.4" r="3.0"/><circle cx="237.2" cy="317.3" r="3.0"/><circle cx="237.2" cy="312.1" r="3.0"/><circle cx="237.2" cy="306.9" r="3.0"/><circle cx="237.2" cy="301.7" r="3.0"/><circle cx="237.2" cy="296.6" r="3.0"/><circle cx="237.2" cy="291.4" r="3.0"/><circle cx="241.8" cy="379.3" r="3.0"/><circle cx="241.8" cy="374.1" r="3.0"/><circle cx="241.8" cy="369.0" r="3.0"/><circle cx="241.8" cy="363.8" r="3.0"/><circle cx="241.8" cy="358.6" r="3.0"/><circle cx="241.8" cy="353.5" r="3.0"/><circle cx="241.8" cy="348.3" r="3.0"/><circle cx="241.8" cy="343.1" r="3.0"/><circle cx="241.8" cy="337.9" r="3.0"/><circle cx="241.8" cy="332.8" r="3.0"/><circle cx="241.8" cy="327.6" r="3.0"/><circle cx="241.8" cy="322.4" r="3.0"/><circle cx="241.8" cy="317.3" r="3.0"/><circle cx="241.8" cy="312.1" r="3.0"/><circle cx="241.8" cy="306.9" r="3.0"/><circle cx="241.8" cy="301.7" r="3.0"/><circle cx="241.8" cy="296.6" r="3.0"/><circle cx="246.4" cy="384.5" r="3.0"/><circle cx="246.4" cy="379.3" r="3.0"/><circle cx="246.4" cy="374.1" r="3.0"/><circle cx="246.4" cy="369.0" r="3.0"/><circle cx="246.4" cy="363.8" r="3.0"/><circle cx="246.4" cy="358.6" r="3.0"/><circle cx="246.4" cy="353.5" r="3.0"/><circle cx="246.4" cy="348.3" r="3.0"/><circle cx="246.4" cy="343.1" r="3.0"/><circle cx="246.4" cy="337.9" r="3.0"/><circle cx="246.4" cy="332.8" r="3.0"/><circle cx="246.4" cy="327.6" r="3.0"/><circle cx="246.4" cy="322.4" r="3.0"/><circle cx="246.4" cy="317.3" r="3.0"/><circle cx="246.4" cy="312.1" r="3.0"/><circle cx="246.4" cy="306.9" r="3.0"/><circle cx="251.0" cy="394.8" r="3.0"/><circle cx="251.0" cy="389.7" r="3.0"/><circle cx="251.0" cy="384.5" r="3.0"/><circle cx="251.0" cy="379.3" r="3.0"/><circle cx="251.0" cy="374.1" r="3.0"/><circle cx="251.0" cy="369.0" r="3.0"/><circle cx="251.0" cy="363.8" r="3.0"/><circle cx="251.0" cy="358.6" r="3.0"/><circle cx="251.0" cy="353.5" r="3.0"/><circle cx="251.0" cy="348.3" r="3.0"/><circle cx="251.0" cy="343.1" r="3.0"/><circle cx="251.0" cy="337.9" r="3.0"/><circle cx="251.0" cy="332.8" r="3.0"/><circle cx="251.0" cy="327.6" r="3.0"/><circle cx="251.0" cy="322.4" r="3.0"/><circle cx="251.0" cy="317.3" r="3.0"/><circle cx="255.6" cy="400.0" r="3.0"/><circle cx="255.6" cy="394.8" r="3.0"/><circle cx="255.6" cy="389.7" r="3.0"/><circle cx="255.6" cy="384.5" r="3.0"/><circle cx="255.6" cy="379.3" r="3.0"/><circle cx="255.6" cy="374.1" r="3.0"/><circle cx="255.6" cy="369.0" r="3.0"/><circle cx="255.6" cy="363.8" r="3.0"/><circle cx="255.6" cy="358.6" r="3.0"/><circle cx="255.6" cy="353.5" r="3.0"/><circle cx="255.6" cy="348.3" r="3.0"/><circle cx="255.6" cy="343.1" r="3.0"/><circle cx="255.6" cy="337.9" r="3.0"/><circle cx="255.6" cy="332.8" r="3.0"/><circle cx="255.6" cy="327.6" r="3.0"/><circle cx="255.6" cy="322.4" r="3.0"/><circle cx="260.2" cy="400.0" r="3.0"/><circle cx="260.2" cy="394.8" r="3.0"/><circle cx="260.2" cy="389.7" r="3.0"/><circle cx="260.2" cy="384.5" r="3.0"/><circle cx="260.2" cy="379.3" r="3.0"/><circle cx="260.2" cy="374.1" r="3.0"/><circle cx="260.2" cy="369.0" r="3.0"/><circle cx="260.2" cy="363.8" r="3.0"/><circle cx="260.2" cy="358.6" r="3.0"/><circle cx="260.2" cy="353.5" r="3.0"/><circle cx="260.2" cy="348.3" r="3.0"/><circle cx="260.2" cy="343.1" r="3.0"/><circle cx="260.2" cy="337.9" r="3.0"/><circle cx="260.2" cy="332.8" r="3.0"/><circle cx="264.9" cy="400.0" r="3.0"/><circle cx="264.9" cy="394.8" r="3.0"/><circle cx="264.9" cy="389.7" r="3.0"/><circle cx="264.9" cy="384.5" r="3.0"/><circle cx="264.9" cy="379.3" r="3.0"/><circle cx="264.9" cy="374.1" r="3.0"/><circle cx="264.9" cy="369.0" r="3.0"/><circle cx="264.9" cy="363.8" r="3.0"/><circle cx="264.9" cy="358.6" r="3.0"/><circle cx="264.9" cy="353.5" r="3.0"/><circle cx="264.9" cy="348.3" r="3.0"/><circle cx="264.9" cy="343.1" r="3.0"/><circle cx="264.9" cy="337.9" r="3.0"/><circle cx="269.5" cy="400.0" r="3.0"/><circle cx="269.5" cy="394.8" r="3.0"/><circle cx="269.5" cy="389.7" r="3.0"/><circle cx="269.5" cy="384.5" r="3.0"/><circle cx="269.5" cy="379.3" r="3.0"/><circle cx="269.5" cy="374.1" r="3.0"/><circle cx="269.5" cy="369.0" r="3.0"/><circle cx="269.5" cy="363.8" r="3.0"/><circle cx="269.5" cy="358.6" r="3.0"/><circle cx="269.5" cy="353.5" r="3.0"/><circle cx="269.5" cy="348.3" r="3.0"/><circle cx="269.5" cy="343.1" r="3.0"/><circle cx="274.1" cy="400.0" r="3.0"/><circle cx="274.1" cy="394.8" r="3.0"/><circle cx="274.1" cy="389.7" r="3.0"/><circle cx="274.1" cy="384.5" r="3.0"/><circle cx="274.1" cy="379.3" r="3.0"/><circle cx="274.1" cy="374.1" r="3.0"/><circle cx="274.1" cy="369.0" r="3.0"/><circle cx="274.1" cy="363.8" r="3.0"/><circle cx="274.1" cy="358.6" r="3.0"/><circle cx="274.1" cy="353.5" r="3.0"/><circle cx="278.7" cy="400.0" r="3.0"/><circle cx="278.7" cy="394.8" r="3.0"/><circle cx="278.7" cy="389.7" r="3.0"/><circle cx="278.7" cy="384.5" r="3.0"/><circle cx="278.7" cy="379.3" r="3.0"/><circle cx="278.7" cy="374.1" r="3.0"/><circle cx="278.7" cy="369.0" r="3.0"/><circle cx="278.7" cy="363.8" r="3.0"/><circle cx="278.7" cy="358.6" r="3.0"/><circle cx="283.3" cy="400.0" r="3.0"/><circle cx="283.3" cy="394.8" r="3.0"/><circle cx="283.3" cy="389.7" r="3.0"/><circle cx="283.3" cy="384.5" r="3.0"/><circle cx="283.3" cy="379.3" r="3.0"/><circle cx="283.3" cy="374.1" r="3.0"/><circle cx="283.3" cy="369.0" r="3.0"/><circle cx="283.3" cy="363.8" r="3.0"/><circle cx="287.9" cy="400.0" r="3.0"/><circle cx="287.9" cy="394.8" r="3.0"/><circle cx="287.9" cy="389.7" r="3.0"/><circle cx="287.9" cy="384.5" r="3.0"/><circle cx="287.9" cy="379.3" r="3.0"/><circle cx="287.9" cy="374.1" r="3.0"/><circle cx="287.9" cy="369.0" r="3.0"/><circle cx="292.5" cy="400.0" r="3.0"/><circle cx="292.5" cy="394.8" r="3.0"/><circle cx="292.5" cy="389.7" r="3.0"/><circle cx="292.5" cy="384.5" r="3.0"/><circle cx="292.5" cy="379.3" r="3.0"/><circle cx="292.5" cy="374.1" r="3.0"/><circle cx="297.1" cy="400.0" r="3.0"/><circle cx="297.1" cy="394.8" r="3.0"/><circle cx="297.1" cy="389.7" r="3.0"/><circle cx="297.1" cy="384.5" r="3.0"/><circle cx="297.1" cy="379.3" r="3.0"/><circle cx="301.7" cy="400.0" r="3.0"/><circle cx="301.7" cy="394.8" r="3.0"/><circle cx="301.7" cy="389.7" r="3.0"/><circle cx="301.7" cy="384.5" r="3.0"/><circle cx="306.4" cy="400.0" r="3.0"/><circle cx="306.4" cy="394.8" r="3.0"/><circle cx="306.4" cy="389.7" r="3.0"/><circle cx="311.0" cy="400.0" r="3.0"/><circle cx="311.0" cy="394.8" r="3.0"/><circle cx="315.6" cy="400.0" r="3.0"/></g>
<g fill="#e61c08" fill-opacity="0.54"><circle cx="181.8" cy="38.0" r="3.0"/><circle cx="186.4" cy="58.7" r="3.0"/><circle cx="186.4" cy="53.5" r="3.0"/><circle cx="186.4" cy="48.3" r="3.0"/><circle cx="186.4" cy="43.2" r="3.0"/><circle cx="186.4" cy="38.0" r="3.0"/><circle cx="191.1" cy="79.4" r="3.0"/><circle cx="191.1" cy="74.2" r="3.0"/><circle cx="191.1" cy="69.0" r="3.0"/><circle cx="191.1" cy="63.9" r="3.0"/><circle cx="191.1" cy="58.7" r="3.0"/><circle cx="191.1" cy="53.5" r="3.0"/><circle cx="191.1" cy="48.3" r="3.0"/><circle cx="191.1" cy="43.2" r="3.0"/><circle cx="191.1" cy="38.0" r="3.0"/><circle cx="195.7" cy="100.1" r="3.0"/><circle cx="195.7" cy="94.9" r="3.0"/><circle cx="195.7" cy="89.7" r="3.0"/><circle cx="195.7" cy="84.5" r="3.0"/><circle cx="195.7" cy="79.4" r="3.0"/><circle cx="195.7" cy="74.2" r="3.0"/><circle cx="195.7" cy="69.0" r="3.0"/><circle cx="195.7" cy="63.9" r="3.0"/><circle cx="195.7" cy="58.7" r="3.0"/><circle cx="195.7" cy="53.5" r="3.0"/><circle cx="195.7" cy="48.3" r="3.0"/><circle cx="195.7" cy="43.2" r="3.0"/><circle cx="195.7" cy="38.0" r="3.0"/><circle cx="200.3" cy="115.6" r="3.0"/><circle cx="200.3" cy="110.4" r="3.0"/><circle cx="200.3" cy="105.2" r="3.0"/><circle cx="200.3" cy="100.1" r="3.0"/><circle cx="200.3" cy="94.9" r="3.0"/><circle cx="200.3" cy="89.7" r="3.0"/><circle cx="200.3" cy="84.5" r="3.0"/><circle cx="200.3" cy="79.4" r="3.0"/><circle cx="200.3" cy="74.2" r="3.0"/><circle cx="200.3" cy="69.0" r="3.0"/><circle cx="200.3" cy="63.9" r="3.0"/><circle cx="200.3" cy="58.7" r="3.0"/><circle cx="200.3" cy="53.5" r="3.0"/><circle cx="200.3" cy="48.3" r="3.0"/><circle cx="200.3" cy="43.2" r="3.0"/><circle cx="200.3" cy="38.0" r="3.0"/><circle cx="204.9" cy="136.3" r="3.0"/><circle cx="204.9" cy="131.1" r="3.0"/><circle cx="204.9" cy="125.9" r="3.0"/><circle cx="204.9" cy="120.7" r="3.0"/><circle cx="204.9" cy="115.6" r="3.0"/><circle cx="204.9" cy="110.4" r="3.0"/><circle cx="204.9" cy="105.2" r="3.0"/><circle cx="204.9" cy="100.1" r="3.0"/><circle cx="204.9" cy="94.9" r="3.0"/><circle cx="204.9" cy="89.7" r="3.0"/><circle cx="204.9" cy="84.5" r="3.0"/><circle cx="204.9" cy="79.4" r="3.0"/><circle cx="204.9" cy="74.2" r="3.0"/><circle cx="204.9" cy="69.0" r="3.0"/><circle cx="204.9" cy="63.9" r="3.0"/><circle cx="204.9" cy="58.7" r="3.0"/><circle cx="204.9" cy="53.5" r="3.0"/><circle cx="204.9" cy="48.3" r="3.0"/><circle cx="204.9" cy="43.2" r="3.0"/><circle cx="204.9" cy="38.0" r="3.0"/><circle cx="209.5" cy="151.8" r="3.0"/><circle cx="209.5" cy="146.6" r="3.0"/><circle cx="209.5" cy="141.4" r="3.0"/><circle cx="209.5" cy="136.3" r="3.0"/><circle cx="209.5" cy="131.1" r="3.0"/><circle cx="209.5" cy="125.9" r="3.0"/><circle cx="209.5" cy="120.7" r="3.0"/><circle cx="209.5" cy="115.6" r="3.0"/><circle cx="209.5" cy="110.4" r="3.0"/><circle cx="209.5" cy="105.2" r="3.0"/><circle cx="209.5" cy="100.1" r="3.0"/><circle cx="209.5" cy="94.9" r="3.0"/><circle cx="209.5" cy="89.7" r="3.0"/><circle cx="209.5" cy="84.5" r="3.0"/><circle cx="209.5" cy="79.4" r="3.0"/><circle cx="209.5" cy="74.2" r="3.0"/><circle cx="209.5" cy="69.0" r="3.0"/><circle cx="209.5" cy="63.9" r="3.0"/><circle cx="209.5" cy="58.7" r="3.0"/><circle cx="209.5" cy="53.5" r="3.0"/><circle cx="209.5" cy="48.3" r="3.0"/><circle cx="209.5" cy="43.2" r="3.0"/><circle cx="209.5" cy="38.0" r="3.0"/><circle cx="214.1" cy="167.3" r="3.0"/><circle cx="214.1" cy="162.1" r="3.0"/><circle cx="214.1" cy="156.9" r="3.0"/><circle cx="214.1" cy="151.8" r="3.0"/><circle cx="214.1" cy="146.6" r="3.0"/><circle cx="214.1" cy="141.4" r="3.0"/><circle cx="214.1" cy="136.3" r="3.0"/><circle cx="214.1" cy="131.1" r="3.0"/><circle cx="214.1" cy="125.9" r="3.0"/><circle cx="214.1" cy="120.7" r="3.0"/><circle cx="214.1" cy="115.6" r="3.0"/><circle cx="214.1" cy="110.4" r="3.0"/><circle cx="214.1" cy="105.2" r="3.0"/><circle cx="214.1" cy="100.1" r="3.0"/><circle cx="214.1" cy="94.9" r="3.0"/><circle cx="214.1" cy="89.7" r="3.0"/><circle cx="214.1" cy="84.5" r="3.0"/><circle cx="214.1" cy="79.4" r="3.0"/><circle cx="214.1" cy="74.2" r="3.0"/><circle cx="214.1" cy="69.0" r="3.0"/><circle cx="214.1" cy="63.9" r="3.0"/><circle cx="214.1" cy="58.7" r="3.0"/><circle cx="214.1" cy="53.5" r="3.0"/><circle cx="214.1" cy="48.3" r="3.0"/><circle cx="214.1" cy="43.2" r="3.0"/><circle cx="214.1" cy="38.0" r="3.0"/><circle cx="218.7" cy="177.6" r="3.0"/><circle cx="218.7" cy="172.5" r="3.0"/><circle cx="218.7" cy="167.3" r="3.0"/><circle cx="218.7" cy="162.1" r="3.0"/><circle cx="218.7" cy="156.9" r="3.0"/><circle cx="218.7" cy="151.8" r="3.0"/><circle cx="218.7" cy="146.6" r="3.0"/><circle cx="218.7" cy="141.4" r="3.0"/><circle cx="218.7" cy="136.3" r="3.0"/><circle cx="218.7" cy="131.1" r="3.0"/><circle cx="218.7" cy="125.9" r="3.0"/><circle cx="218.7" cy="120.7" r="3.0"/><circle cx="218.7" cy="115.6" r="3.0"/><circle cx="218.7" cy="110.4" r="3.0"/><circle cx="218.7" cy="105.2" r="3.0"/><circle cx="218.7" cy="100.1" r="3.0"/><circle cx="218.7" cy="94.9" r="3.0"/><circle cx="218.7" cy="89.7" r="3.0"/><circle cx="218.7" cy="84.5" r="3.0"/><circle cx="218.7" cy="79.4" r="3.0"/><circle cx="218.7" cy="74.2" r="3.0"/><circle cx="218.7" cy="69.0" r="3.0"/><circle cx="218.7" cy="63.9" r="3.0"/><circle cx="218.7" cy="58.7" r="3.0"/><circle cx="218.7" cy="53.5" r="3.0"/><circle cx="218.7" cy="48.3" r="3.0"/><circle cx="218.7" cy="43.2" r="3.0"/><circle cx="218.7" cy="38.0" r="3.0"/><circle cx="223.3" cy="193.1" r="3.0"/><circle cx="223.3" cy="188.0" r="3.0"/><circle cx="223.3" cy="182.8" r="3.0"/><circle cx="223.3" cy="177.6" r="3.0"/><circle cx="223.3" cy="172.5" r="3.0"/><circle cx="223.3" cy="167.3" r="3.0"/><circle cx="223.3" cy="162.1" r="3.0"/><circle cx="223.3" cy="156.9" r="3.0"/><circle cx="223.3" cy="151.8" r="3.0"/><circle cx="223.3" cy="146.6" r="3.0"/><circle cx="223.3" cy="141.4" r="3.0"/><circle cx="223.3" cy="136.3" r="3.0"/><circle cx="223.3" cy="131.1" r="3.0"/><circle cx="223.3" cy="125.9" r="3.0"/><circle cx="223.3" cy="120.7" r="3.0"/><circle cx="223.3" cy="115.6" r="3.0"/><circle cx="223.3" cy="110.4" r="3.0"/><circle cx="223.3" cy="105.2" r="3.0"/><circle cx="223.3" cy="100.1" r="3.0"/><circle cx="223.3" cy="94.9" r="3.0"/><circle cx="223.3" cy="89.7" r="3.0"/><circle cx="223.3" cy="84.5" r="3.0"/><circle cx="223.3" cy="79.4" r="3.0"/><circle cx="223.3" cy="74.2" r="3.0"/><circle cx="223.3" cy="69.0" r="3.0"/><circle cx="223.3" cy="63.9" r="3.0"/><circle cx="223.3" cy="58.7" r="3.0"/><circle cx="223.3" cy="53.5" r="3.0"/><circle cx="228.0" cy="203.5" r="3.0"/><circle cx="228.0" cy="198.3" r="3.0"/><circle cx="228.0" cy="193.1" r="3.0"/><circle cx="228.0" cy="188.0" r="3.0"/><circle cx="228.0" cy="182.8" r="3.0"/><circle cx="228.0" cy="177.6" r="3.0"/><circle cx="228.0" cy="172.5" r="3.0"/><circle cx="228.0" cy="167.3" r="3.0"/><circle cx="228.0" cy="162.1" r="3.0"/><circle cx="228.0" cy="156.9" r="3.0"/><circle cx="228.0" cy="151.8" r="3.0"/><circle cx="228.0" cy="146.6" r="3.0"/><circle cx="228.0" cy="141.4" r="3.0"/><circle cx="228.0" cy="136.3" r="3.0"/><circle cx="228.0" cy="131.1" r="3.0"/><circle cx="228.0" cy="125.9" r="3.0"/><circle cx="228.0" cy="120.7" r="3.0"/><circle cx="228.0" cy="115.6" r="3.0"/><circle cx="228.0" cy="110.4" r="3.0"/><circle cx="228.0" cy="105.2" r="3.0"/><circle cx="228.0" cy="100.1" r="3.0"/><circle cx="228.0" cy="94.9" r="3.0"/><circle cx="228.0" cy="89.7" r="3.0"/><circle cx="228.0" cy="84.5" r="3.0"/><circle cx="228.0" cy="79.4" r="3.0"/><circle cx="228.0" cy="74.2" r="3.0"/><circle cx="228.0" cy="69.0" r="3.0"/><circle cx="232.6" cy="219.0" r="3.0"/><circle cx="232.6" cy="213.8" r="3.0"/><circle cx="232.6" cy="208.7" r="3.0"/><circle cx="232.6" cy="203.5" r="3.0"/><circle cx="232.6" cy="198.3" r="3.0"/><circle cx="232.6" cy="193.1" r="3.0"/><circle cx="232.6" cy="188.0" r="3.0"/><circle cx="232.6" cy="182.8" r="3.0"/><circle cx="232.6" cy="177.6" r="3.0"/><circle cx="232.6" cy="172.5" r="3.0"/><circle cx="232.6" cy="167.3" r="3.0"/><circle cx="232.6" cy="162.1" r="3.0"/><circle cx="232.6" cy="156.9" r="3.0"/><circle cx="232.6" cy="151.8" r="3.0"/><circle cx="232.6" cy="146.6" r="3.0"/><circle cx="232.6" cy="141.4" r="3.0"/><circle cx="232.6" cy="136.3" r="3.0"/><circle cx="232.6" cy="131.1" r="3.0"/><circle cx="232.6" cy="125.9" r="3.0"/><circle cx="232.6" cy="120.7" r="3.0"/><circle cx="232.6" cy="115.6" r="3.0"/><circle cx="232.6" cy="110.4" r="3.0"/><circle cx="232.6" cy="105.2" r="3.0"/><circle cx="232.6" cy="100.1" r="3.0"/><circle cx="232.6" cy="94.9" r="3.0"/><circle cx="232.6" cy="89.7" r="3.0"/><circle cx="232.6" cy="84.5" r="3.0"/><circle cx="237.2" cy="229.3" r="3.0"/><circle cx="237.2" cy="224.2" r="3.0"/><circle cx="237.2" cy="219.0" r="3.0"/><circle cx="237.2" cy="213.8" r="3.0"/><circle cx="237.2" cy="208.7" r="3.0"/><circle cx="237.2" cy="203.5" r="3.0"/><circle cx="237.2" cy="198.3" r="3.0"/><circle cx="237.2" cy="193.1" r="3.0"/><circle cx="237.2" cy="188.0" r="3.0"/><circle cx="237.2" cy="182.8" r="3.0"/><circle cx="237.2" cy="177.6" r="3.0"/><circle cx="237.2" cy="172.5" r="3.0"/><circle cx="237.2" cy="167.3" r="3.0"/><circle cx="237.2" cy="162.1" r="3.0"/><circle cx="237.2" cy="156.9" r="3.0"/><circle cx="237.2" cy="151.8" r="3.0"/><circle cx="237.2" cy="146.6" r="3.0"/><circle cx="237.2" cy="141.4" r="3.0"/><circle cx="237.2" cy="136.3" r="3.0"/><circle cx="237.2" cy="131.1" r="3.0"/><circle cx="237.2" cy="125.9" r="3.0"/><circle cx="237.2" cy="120.7" r="3.0"/><circle cx="237.2" cy="115.6" r="3.0"/><circle cx="237.2" cy="110.4" r="3.0"/><circle cx="237.2" cy="105.2" r="3.0"/><circle cx="237.2" cy="100.1" r="3.0"/><circle cx="241.8" cy="239.7" r="3.0"/><circle cx="241.8" cy="234.5" r="3.0"/><circle cx="241.8" cy="229.3" r="3.0"/><circle cx="241.8" cy="224.2" r="3.0"/><circle cx="241.8" cy="219.0" r="3.0"/><circle cx="241.8" cy="213.8" r="3.0"/><circle cx="241.8" cy="208.7" r="3.0"/><circle cx="241.8" cy="203.5" r="3.0"/><circle cx="241.8" cy="198.3" r="3.0"/><circle cx="241.8" cy="193.1" r="3.0"/><circle cx="241.8" cy="188.0" r="3.0"/><circle cx="241.8" cy="182.8" r="3.0"/><circle cx="241.8" cy="177.6" r="3.0"/><circle cx="241.8" cy="172.5" r="3.0"/><circle cx="241.8" cy="167.3" r="3.0"/><circle cx="241.8" cy="162.1" r="3.0"/><circle cx="241.8" cy="156.9" r="3.0"/><circle cx="241.8" cy="151.8" r="3.0"/><circle cx="241.8" cy="146.6" r="3.0"/><circle cx="241.8" cy="141.4" r="3.0"/><circle cx="241.8" cy="136.3" r="3.0"/><circle cx="241.8" cy="131.1" r="3.0"/><circle cx="241.8" cy="125.9" r="3.0"/><circle cx="241.8" cy="120.7" r="3.0"/><circle cx="241.8" cy="115.6" r="3.0"/><circle cx="246.4" cy="250.0" r="3.0"/><circle cx="246.4" cy="244.9" r="3.0"/><circle cx="246.4" cy="239.7" r="3.0"/><circle cx="246.4" cy="234.5" r="3.0"/><circle cx="246.4" cy="229.3" r="3.0"/><circle cx="246.4" cy="224.2" r="3.0"/><circle cx="246.4" cy="219.0" r="3.0"/><circle cx="246.4" cy="213.8" r="3.0"/><circle cx="246.4" cy="208.7" r="3.0"/><circle cx="246.4" cy="203.5" r="3.0"/><circle cx="246.4" cy="198.3" r="3.0"/><circle cx="246.4" cy="193.1" r="3.0"/><circle cx="246.4" cy="188.0" r="3.0"/><circle cx="246.4" cy="182.8" r="3.0"/><circle cx="246.4" cy="177.6" r="3.0"/><circle cx="246.4" cy="172.5" r="3.0"/><circle cx="246.4" cy="167.3" r="3.0"/><circle cx="246.4" cy="162.1" r="3.0"/><circle cx="246.4" cy="156.9" r="3.0"/><circle cx="246.4" cy="151.8" r="3.0"/><circle cx="246.4" cy="146.6" r="3.0"/><circle cx="246.4" cy="141.4" r="3.0"/><circle cx="246.4" cy="136.3" r="3.0"/><circle cx="246.4" cy="131.1" r="3.0"/><circle cx="246.4" cy="125.9" r="3.0"/><circle cx="251.0" cy="260.4" r="3.0"/><circle cx="251.0" cy="255.2" r="3.0"/><circle cx="251.0" cy="250.0" r="3.0"/><circle cx="251.0" cy="244.9" r="3.0"/><circle cx="251.0" cy="239.7" r="3.0"/><circle cx="251.0" cy="234.5" r="3.0"/><circle cx="251.0" cy="229.3" r="3.0"/><circle cx="251.0" cy="224.2" r="3.0"/><circle cx="251.0" cy="219.0" r="3.0"/><circle cx="251.0" cy="213.8" r="3.0"/><circle cx="251.0" cy="208.7" r="3.0"/><circle cx="251.0" cy="203.5" r="3.0"/><circle cx="251.0" cy="198.3" r="3.0"/><circle cx="251.0" cy="193.1" r="3.0"/><circle cx="251.0" cy="188.0" r="3.0"/><circle cx="251.0" cy="182.8" r="3.0"/><circle cx="251.0" cy="177.6" r="3.0"/><circle cx="251.0" cy="172.5" r="3.0"/><circle cx="251.0" cy="167.3" r="3.0"/><circle cx="251.0" cy="162.1" r="3.0"/><circle cx="251.0" cy="156.9" r="3.0"/><circle cx="251.0" cy="151.8" r="3.0"/><circle cx="251.0" cy="146.6" r="3.0"/><circle cx="251.0" cy="141.4" r="3.0"/><circle cx="255.6" cy="265.5" r="3.0"/><circle cx="255.6" cy="260.4" r="3.0"/><circle cx="255.6" cy="255.2" r="3.0"/><circle cx="255.6" cy="250.0" r="3.0"/><circle cx="255.6" cy="244.9" r="3.0"/><circle cx="255.6" cy="239.7" r="3.0"/><circle cx="255.6" cy="234.5" r="3.0"/><circle cx="255.6" cy="229.3" r="3.0"/><circle cx="255.6" cy="224.2" r="3.0"/><circle cx="255.6" cy="219.0" r="3.0"/><circle cx="255.6" cy="213.8" r="3.0"/><circle cx="255.6" cy="208.7" r="3.0"/><circle cx="255.6" cy="203.5" r="3.0"/><circle cx="255.6" cy="198.3" r="3.0"/><circle cx="255.6" cy="193.1" r="3.0"/><circle cx="255.6" cy="188.0" r="3.0"/><circle cx="255.6" cy="182.8" r="3.0"/><circle cx="255.6" cy="177.6" r="3.0"/><circle cx="255.6" cy="172.5" r="3.0"/><circle cx="255.6" cy="167.3" r="3.0"/><circle cx="255.6" cy="162.1" r="3.0"/><circle cx="255.6" cy="156.9" r="3.0"/><circle cx="255.6" cy="151.8" r="3.0"/><circle cx="260.2" cy="275.9" r="3.0"/><circle cx="260.2" cy="270.7" r="3.0"/><circle cx="260.2" cy="265.5" r="3.0"/><circle cx="260.2" cy="260.4" r="3.0"/><circle cx="260.2" cy="255.2" r="3.0"/><circle cx="260.2" cy="250.0" r="3.0"/><circle cx="260.2" cy="244.9" r="3.0"/><circle cx="260.2" cy="239.7" r="3.0"/><circle cx="260.2" cy="234.5" r="3.0"/><circle cx="260.2" cy="229.3" r="3.0"/><circle cx="260.2" cy="224.2" r="3.0"/><circle cx="260.2" cy="219.0" r="3.0"/><circle cx="260.2" cy="213.8" r="3.0"/><circle cx="260.2" cy="208.7" r="3.0"/><circle cx="260.2" cy="203.5" r="3.0"/><circle cx="260.2" cy="198.3" r="3.0"/><circle cx="260.2" cy="193.1" r="3.0"/><circle cx="260.2" cy="188.0" r="3.0"/><circle cx="260.2" cy="182.8" r="3.0"/><circle cx="260.2" cy="177.6" r="3.0"/><circle cx="260.2" cy="172.5" r="3.0"/><circle cx="260.2" cy="167.3" r="3.0"/><circle cx="260.2" cy="162.1" r="3.0"/><circle cx="264.9" cy="286.2" r="3.0"/><circle cx="264.9" cy="281.1" r="3.0"/><circle cx="264.9" cy="275.9" r="3.0"/><circle cx="264.9" cy="270.7" r="3.0"/><circle cx="264.9" cy="265.5" r="3.0"/><circle cx="264.9" cy="260.4" r="3.0"/><circle cx="264.9" cy="255.2" r="3.0"/><circle cx="264.9" cy="250.0" r="3.0"/><circle cx="264.9" cy="244.9" r="3.0"/><circle cx="264.9" cy="239.7" r="3.0"/><circle cx="264.9" cy="234.5" r="3.0"/><circle cx="264.9" cy="229.3" r="3.0"/><circle cx="264.9" cy="224.2" r="3.0"/><circle cx="264.9" cy="219.0" r="3.0"/><circle cx="264.9" cy="213.8" r="3.0"/><circle cx="264.9" cy="208.7" r="3.0"/><circle cx="264.9" cy="203.5" r="3.0"/><circle cx="264.9" cy="198.3" r="3.0"/><circle cx="264.9" cy="193.1" r="3.0"/><circle cx="264.9" cy="188.0" r="3.0"/><circle cx="264.9" cy="182.8" r="3.0"/><circle cx="264.9" cy="177.6" r="3.0"/><circle cx="264.9" cy="172.5" r="3.0"/><circle cx="269.5" cy="291.4" r="3.0"/><circle cx="269.5" cy="286.2" r="3.0"/><circle cx="269.5" cy="281.1" r="3.0"/><circle cx="269.5" cy="275.9" r="3.0"/><circle cx="269.5" cy="270.7" r="3.0"/><circle cx="269.5" cy="265.5" r="3.0"/><circle cx="269.5" cy="260.4" r="3.0"/><circle cx="269.5" cy="255.2" r="3.0"/><circle cx="269.5" cy="250.0" r="3.0"/><circle cx="269.5" cy="244.9" r="3.0"/><circle cx="269.5" cy="239.7" r="3.0"/><circle cx="269.5" cy="234.5" r="3.0"/><circle cx="269.5" cy="229.3" r="3.0"/><circle cx="269.5" cy="224.2" r="3.0"/><circle cx="269.5" cy="219.0" r="3.0"/><circle cx="269.5" cy="213.8" r="3.0"/><circle cx="269.5" cy="208.7" r="3.0"/><circle cx="269.5" cy="203.5" r="3.0"/><circle cx="269.5" cy="198.3" r="3.0"/><circle cx="269.5" cy="193.1" r="3.0"/><circle cx="269.5" cy="188.0" r="3.0"/><circle cx="269.5" cy="182.8" r="3.0"/><circle cx="274.1" cy="301.7" r="3.0"/><circle cx="274.1" cy="296.6" r="3.0"/><circle cx="274.1" cy="291.4" r="3.0"/><circle cx="274.1" cy="286.2" r="3.0"/><circle cx="274.1" cy="281.1" r="3.0"/><circle cx="274.1" cy="275.9" r="3.0"/><circle cx="274.1" cy="270.7" r="3.0"/><circle cx="274.1" cy="265.5" r="3.0"/><circle cx="274.1" cy="260.4" r="3.0"/><circle cx="274.1" cy="255.2" r="3.0"/><circle cx="274.1" cy="250.0" r="3.0"/><circle cx="274.1" cy="244.9" r="3.0"/><circle cx="274.1" cy="239.7" r="3.0"/><circle cx="274.1" cy="234.5" r="3.0"/><circle cx="274.1" cy="229.3" r="3.0"/><circle cx="274.1" cy="224.2" r="3.0"/><circle cx="274.1" cy="219.0" r="3.0"/><circle cx="274.1" cy="213.8" r="3.0"/><circle cx="274.1" cy="208.7" r="3.0"/><circle cx="274.1" cy="203.5" r="3.0"/><circle cx="274.1" cy="198.3" r="3.0"/><circle cx="274.1" cy="193.1" r="3.0"/><circle cx="278.7" cy="306.9" r="3.0"/><circle cx="278.7" cy="301.7" r="3.0"/><circle cx="278.7" cy="296.6" r="3.0"/><circle cx="278.7" cy="291.4" r="3.0"/><circle cx="278.7" cy="286.2" r="3.0"/><circle cx="278.7" cy="281.1" r="3.0"/><circle cx="278.7" cy="275.9" r="3.0"/><circle cx="278.7" cy="270.7" r="3.0"/><circle cx="278.7" cy="265.5" r="3.0"/><circle cx="278.7" cy="260.4" r="3.0"/><circle cx="278.7" cy="255.2" r="3.0"/><circle cx="278.7" cy="250.0" r="3.0"/><circle cx="278.7" cy="244.9" r="3.0"/><circle cx="278.7" cy="239.7" r="3.0"/><circle cx="278.7" cy="234.5" r="3.0"/><circle cx="278.7" cy="229.3" r="3.0"/><circle cx="278.7" cy="224.2" r="3.0"/><circle cx="278.7" cy="219.0" r="3.0"/><circle cx="278.7" cy="213.8" r="3.0"/><circle cx="278.7" cy="208.7" r="3.0"/><circle cx="278.7" cy="203.5" r="3.0"/><circle cx="283.3" cy="317.3" r="3.0"/><circle cx="283.3" cy="312.1" r="3.0"/><circle cx="283.3" cy="306.9" r="3.0"/><circle cx="283.3" cy="301.7" r="3.0"/><circle cx="283.3" cy="296.6" r="3.0"/><circle cx="283.3" cy="291.4" r="3.0"/><circle cx="283.3" cy="286.2" r="3.0"/><circle cx="283.3" cy="281.1" r="3.0"/><circle cx="283.3" cy="275.9" r="3.0"/><circle cx="283.3" cy="270.7" r="3.0"/><circle cx="283.3" cy="265.5" r="3.0"/><circle cx="283.3" cy="260.4" r="3.0"/><circle cx="283.3" cy="255.2" r="3.0"/><circle cx="283.3" cy="250.0" r="3.0"/><circle cx="283.3" cy="244.9" r="3.0"/><circle cx="283.3" cy="239.7" r="3.0"/><circle cx="283.3" cy="234.5" r="3.0"/><circle cx="283.3" cy="229.3" r="3.0"/><circle cx="283.3" cy="224.2" r="3.0"/><circle cx="283.3" cy="219.0" r="3.0"/><circle cx="283.3" cy="213.8" r="3.0"/><circle cx="287.9" cy="322.4" r="3.0"/><circle cx="287.9" cy="317.3" r="3.0"/><circle cx="287.9" cy="312.1" r="3.0"/><circle cx="287.9" cy="306.9" r="3.0"/><circle cx="287.9" cy="301.7" r="3.0"/><circle cx="287.9" cy="296.6" r="3.0"/><circle cx="287.9" cy="291.4" r="3.0"/><circle cx="287.9" cy="286.2" r="3.0"/><circle cx="287.9" cy="281.1" r="3.0"/><circle cx="287.9" cy="275.9" r="3.0"/><circle cx="287.9" cy="270.7" r="3.0"/><circle cx="287.9" cy="265.5" r="3.0"/><circle cx="287.9" cy="260.4" r="3.0"/><circle cx="287.9" cy="255.2" r="3.0"/><circle cx="287.9" cy="250.0" r="3.0"/><circle cx="287.9" cy="244.9" r="3.0"/><circle cx="287.9" cy="239.7" r="3.0"/><circle cx="287.9" cy="234.5" r="3.0"/><circle cx="287.9" cy="229.3" r="3.0"/><circle cx="287.9" cy="224.2" r="3.0"/><circle cx="292.5" cy="327.6" r="3.0"/><circle cx="292.5" cy="322.4" r="3.0"/><circle cx="292.5" cy="317.3" r="3.0"/><circle cx="292.5" cy="312.1" r="3.0"/><circle cx="292.5" cy="306.9" r="3.0"/><circle cx="292.5" cy="301.7" r="3.0"/><circle cx="292.5" cy="296.6" r="3.0"/><circle cx="292.5" cy="291.4" r="3.0"/><circle cx="292.5" cy="286.2" r="3.0"/><circle cx="292.5" cy="281.1" r="3.0"/><circle cx="292.5" cy="275.9" r="3.0"/><circle cx="292.5" cy="270.7" r="3.0"/><circle cx="292.5" cy="265.5" r="3.0"/><circle cx="292.5" cy="260.4" r="3.0"/><circle cx="292.5" cy="255.2" r="3.0"/><circle cx="292.5" cy="250.0" r="3.0"/><circle cx="292.5" cy="244.9" r="3.0"/><circle cx="292.5" cy="239.7" r="3.0"/><circle cx="292.5" cy="234.5" r="3.0"/><circle cx="292.5" cy="229.3" r="3.0"/><circle cx="297.1" cy="332.8" r="3.0"/><circle cx="297.1" cy="327.6" r="3.0"/><circle cx="297.1" cy="322.4" r="3.0"/><circle cx="297.1" cy="317.3" r="3.0"/><circle cx="297.1" cy="312.1" r="3.0"/><circle cx="297.1" cy="306.9" r="3.0"/><circle cx="297.1" cy="301.7" r="3.0"/><circle cx="297.1" cy="296.6" r="3.0"/><circle cx="297.1" cy="291.4" r="3.0"/><circle cx="297.1" cy="286.2" r="3.0"/><circle cx="297.1" cy="281.1" r="3.0"/><circle cx="297.1" cy="275.9" r="3.0"/><circle cx="297.1" cy="270.7" r="3.0"/><circle cx="297.1" cy="265.5" r="3.0"/><circle cx="297.1" cy="260.4" r="3.0"/><circle cx="297.1" cy="255.2" r="3.0"/><circle cx="297.1" cy="250.0" r="3.0"/><circle cx="297.1" cy="244.9" r="3.0"/><circle cx="297.1" cy="239.7" r="3.0"/><circle cx="301.7" cy="343.1" r="3.0"/><circle cx="301.7" cy="337.9" r="3.0"/><circle cx="301.7" cy="332.8" r="3.0"/><circle cx="301.7" cy="327.6" r="3.0"/><circle cx="301.7" cy="322.4" r="3.0"/><circle cx="301.7" cy="317.3" r="3.0"/><circle cx="301.7" cy="312.1" r="3.0"/><circle cx="301.7" cy="306.9" r="3.0"/><circle cx="301.7" cy="301.7" r="3.0"/><circle cx="301.7" cy="296.6" r="3.0"/><circle cx="301.7" cy="291.4" r="3.0"/><circle cx="301.7" cy="286.2" r="3.0"/><circle cx="301.7" cy="281.1" r="3.0"/><circle cx="301.7" cy="275.9" r="3.0"/><circle cx="301.7" cy="270.7" r="3.0"/><circle cx="301.7" cy="265.5" r="3.0"/><circle cx="301.7" cy="260.4" r="3.0"/><circle cx="301.7" cy="255.2" r="3.0"/><circle cx="301.7" cy="250.0" r="3.0"/><circle cx="306.4" cy="348.3" r="3.0"/><circle cx="306.4" cy="343.1" r="3.0"/><circle cx="306.4" cy="337.9" r="3.0"/><circle cx="306.4" cy="332.8" r="3.0"/><circle cx="306.4" cy="327.6" r="3.0"/><circle cx="306.4" cy="322.4" r="3.0"/><circle cx="306.4" cy="317.3" r="3.0"/><circle cx="306.4" cy="312.1" r="3.0"/><circle cx="306.4" cy="306.9" r="3.0"/><circle cx="306.4" cy="301.7" r="3.0"/><circle cx="306.4" cy="296.6" r="3.0"/><circle cx="306.4" cy="291.4" r="3.0"/><circle cx="306.4" cy="286.2" r="3.0"/><circle cx="306.4" cy="281.1" r="3.0"/><circle cx="306.4" cy="275.9" r="3.0"/><circle cx="306.4" cy="270.7" r="3.0"/><circle cx="306.4" cy="265.5" r="3.0"/><circle cx="306.4" cy="260.4" r="3.0"/><circle cx="306.4" cy="255.2" r="3.0"/><circle cx="311.0" cy="353.5" r="3.0"/><circle cx="311.0" cy="348.3" r="3.0"/><circle cx="311.0" cy="343.1" r="3.0"/><circle cx="311.0" cy="337.9" r="3.0"/><circle cx="311.0" cy="332.8" r="3.0"/><circle cx="311.0" cy="327.6" r="3.0"/><circle cx="311.0" cy="322.4" r="3.0"/><circle cx="311.0" cy="317.3" r="3.0"/><circle cx="311.0" cy="312.1" r="3.0"/><circle cx="311.0" cy="306.9" r="3.0"/><circle cx="311.0" cy="301.7" r="3.0"/><circle cx="311.0" cy="296.6" r="3.0"/><circle cx="311.0" cy="291.4" r="3.0"/><circle cx="311.0" cy="286.2" r="3.0"/><circle cx="311.0" cy="281.1" r="3.0"/><circle cx="311.0" cy="275.9" r="3.0"/><circle cx="311.0" cy="270.7" r="3.0"/><circle cx="311.0" cy="265.5" r="3.0"/><circle cx="315.6" cy="358.6" r="3.0"/><circle cx="315.6" cy="353.5" r="3.0"/><circle cx="315.6" cy="348.3" r="3.0"/><circle cx="315.6" cy="343.1" r="3.0"/><circle cx="315.6" cy="337.9" r="3.0"/><circle cx="315.6" cy="332.8" r="3.0"/><circle cx="315.6" cy="327.6" r="3.0"/><circle cx="315.6" cy="322.4" r="3.0"/><circle cx="315.6" cy="317.3" r="3.0"/><circle cx="315.6" cy="312.1" r="3.0"/><circle cx="315.6" cy="306.9" r="3.0"/><circle cx="315.6" cy="301.7" r="3.0"/><circle cx="315.6" cy="296.6" r="3.0"/><circle cx="315.6" cy="291.4" r="3.0"/><circle cx="315.6" cy="286.2" r="3.0"/><circle cx="315.6" cy="281.1" r="3.0"/><circle cx="315.6" cy="275.9" r="3.0"/><circle cx="315.6" cy="270.7" r="3.0"/><circle cx="320.2" cy="363.8" r="3.0"/><circle cx="320.2" cy="358.6" r="3.0"/><circle cx="320.2" cy="353.5" r="3.0"/><circle cx="320.2" cy="348.3" r="3.0"/><circle cx="320.2" cy="343.1" r="3.0"/><circle cx="320.2" cy="337.9" r="3.0"/><circle cx="320.2" cy="332.8" r="3.0"/><circle cx="320.2" cy="327.6" r="3.0"/><circle cx="320.2" cy="322.4" r="3.0"/><circle cx="320.2" cy="317.3" r="3.0"/><circle cx="320.2" cy="312.1" r="3.0"/><circle cx="320.2" cy="306.9" r="3.0"/><circle cx="320.2" cy="301.7" r="3.0"/><circle cx="320.2" cy="296.6" r="3.0"/><circle cx="320.2" cy="291.4" r="3.0"/><circle cx="320.2" cy="286.2" r="3.0"/><circle cx="320.2" cy="281.1" r="3.0"/><circle cx="324.8" cy="369.0" r="3.0"/><circle cx="324.8" cy="363.8" r="3.0"/><circle cx="324.8" cy="358.6" r="3.0"/><circle cx="324.8" cy="353.5" r="3.0"/><circle cx="324.8" cy="348.3" r="3.0"/><circle cx="324.8" cy="343.1" r="3.0"/><circle cx="324.8" cy="337.9" r="3.0"/><circle cx="324.8" cy="332.8" r="3.0"/><circle cx="324.8" cy="327.6" r="3.0"/><circle cx="324.8" cy="322.4" r="3.0"/><circle cx="324.8" cy="317.3" r="3.0"/><circle cx="324.8" cy="312.1" r="3.0"/><circle cx="324.8" cy="306.9" r="3.0"/><circle cx="324.8" cy="301.7" r="3.0"/><circle cx="324.8" cy="296.6" r="3.0"/><circle cx="324.8" cy="291.4" r="3.0"/><circle cx="324.8" cy="286.2" r="3.0"/><circle cx="329.4" cy="374.1" r="3.0"/><circle cx="329.4" cy="369.0" r="3.0"/><circle cx="329.4" cy="363.8" r="3.0"/><circle cx="329.4" cy="358.6" r="3.0"/><circle cx="329.4" cy="353.5" r="3.0"/><circle cx="329.4" cy="348.3" r="3.0"/><circle cx="329.4" cy="343.1" r="3.0"/><circle cx="329.4" cy="337.9" r="3.0"/><circle cx="329.4" cy="332.8" r="3.0"/><circle cx="329.4" cy="327.6" r="3.0"/><circle cx="329.4" cy="322.4" r="3.0"/><circle cx="329.4" cy="317.3" r="3.0"/><circle cx="329.4" cy="312.1" r="3.0"/><circle cx="329.4" cy="306.9" r="3.0"/><circle cx="329.4" cy="301.7" r="3.0"/><circle cx="329.4" cy="296.6" r="3.0"/><circle cx="329.4" cy="291.4" r="3.0"/><circle cx="334.0" cy="379.3" r="3.0"/><circle cx="334.0" cy="374.1" r="3.0"/><circle cx="334.0" cy="369.0" r="3.0"/><circle cx="334.0" cy="363.8" r="3.0"/><circle cx="334.0" cy="358.6" r="3.0"/><circle cx="334.0" cy="353.5" r="3.0"/><circle cx="334.0" cy="348.3" r="3.0"/><circle cx="334.0" cy="343.1" r="3.0"/><circle cx="334.0" cy="337.9" r="3.0"/><circle cx="334.0" cy="332.8" r="3.0"/><circle cx="334.0" cy="327.6" r="3.0"/><circle cx="334.0" cy="322.4" r="3.0"/><circle cx="334.0" cy="317.3" r="3.0"/><circle cx="334.0" cy="312.1" r="3.0"/><circle cx="334.0" cy="306.9" r="3.0"/><circle cx="334.0" cy="301.7" r="3.0"/><circle cx="334.0" cy="296.6" r="3.0"/><circle cx="338.6" cy="384.5" r="3.0"/><circle cx="338.6" cy="379.3" r="3.0"/><circle cx="338.6" cy="374.1" r="3.0"/><circle cx="338.6" cy="369.0" r="3.0"/><circle cx="338.6" cy="363.8" r="3.0"/><circle cx="338.6" cy="358.6" r="3.0"/><circle cx="338.6" cy="353.5" r="3.0"/><circle cx="338.6" cy="348.3" r="3.0"/><circle cx="338.6" cy="343.1" r="3.0"/><circle cx="338.6" cy="337.9" r="3.0"/><circle cx="338.6" cy="332.8" r="3.0"/><circle cx="338.6" cy="327.6" r="3.0"/><circle cx="338.6" cy="322.4" r="3.0"/><circle cx="338.6" cy="317.3" r="3.0"/><circle cx="338.6" cy="312.1" r="3.0"/><circle cx="338.6" cy="306.9" r="3.0"/><circle cx="343.3" cy="384.5" r="3.0"/><circle cx="343.3" cy="379.3" r="3.0"/><circle cx="343.3" cy="374.1" r="3.0"/><circle cx="343.3" cy="369.0" r="3.0"/><circle cx="343.3" cy="363.8" r="3.0"/><circle cx="343.3" cy="358.6" r="3.0"/><circle cx="343.3" cy="353.5" r="3.0"/><circle cx="343.3" cy="348.3" r="3.0"/><circle cx="343.3" cy="343.1" r="3.0"/><circle cx="343.3" cy="337.9" r="3.0"/><circle cx="343.3" cy="332.8" r="3.0"/><circle cx="343.3" cy="327.6" r="3.0"/><circle cx="343.3" cy="322.4" r="3.0"/><circle cx="343.3" cy="317.3" r="3.0"/><circle cx="343.3" cy="312.1" r="3.0"/><circle cx="347.9" cy="389.7" r="3.0"/><circle cx="347.9" cy="384.5" r="3.0"/><circle cx="347.9" cy="379.3" r="3.0"/><circle cx="347.9" cy="374.1" r="3.0"/><circle cx="347.9" cy="369.0" r="3.0"/><circle cx="347.9" cy="363.8" r="3.0"/><circle cx="347.9" cy="358.6" r="3.0"/><circle cx="347.9" cy="353.5" r="3.0"/><circle cx="347.9" cy="348.3" r="3.0"/><circle cx="347.9" cy="343.1" r="3.0"/><circle cx="347.9" cy="337.9" r="3.0"/><circle cx="347.9" cy="332.8" r="3.0"/><circle cx="347.9" cy="327.6" r="3.0"/><circle cx="347.9" cy="322.4" r="3.0"/><circle cx="347.9" cy="317.3" r="3.0"/><circle cx="352.5" cy="394.8" r="3.0"/><circle cx="352.5" cy="389.7" r="3.0"/><circle cx="352.5" cy="384.5" r="3.0"/><circle cx="352.5" cy="379.3" r="3.0"/><circle cx="352.5" cy="374.1" r="3.0"/><circle cx="352.5" cy="369.0" r="3.0"/><circle cx="352.5" cy="363.8" r="3.0"/><circle cx="352.5" cy="358.6" r="3.0"/><circle cx="352.5" cy="353.5" r="3.0"/><circle cx="352.5" cy="348.3" r="3.0"/><circle cx="352.5" cy="343.1" r="3.0"/><circle cx="352.5" cy="337.9" r="3.0"/><circle cx="352.5" cy="332.8" r="3.0"/><circle cx="352.5" cy="327.6" r="3.0"/><circle cx="352.5" cy="322.4" r="3.0"/><circle cx="357.1" cy="400.0" r="3.0"/><circle cx="357.1" cy="394.8" r="3.0"/><circle cx="357.1" cy="389.7" r="3.0"/><circle cx="357.1" cy="384.5" r="3.0"/><circle cx="357.1" cy="379.3" r="3.0"/><circle cx="357.1" cy="374.1" r="3.0"/><circle cx="357.1" cy="369.0" r="3.0"/><circle cx="357.1" cy="363.8" r="3.0"/><circle cx="357.1" cy="358.6" r="3.0"/><circle cx="357.1" cy="353.5" r="3.0"/><circle cx="357.1" cy="348.3" r="3.0"/><circle cx="357.1" cy="343.1" r="3.0"/><circle cx="357.1" cy="337.9" r="3.0"/><circle cx="357.1" cy="332.8" r="3.0"/><circle cx="357.1" cy="327.6" r="3.0"/><circle cx="361.7" cy="400.0" r="3.0"/><circle cx="361.7" cy="394.8" r="3.0"/><circle cx="361.7" cy="389.7" r="3.0"/><circle cx="361.7" cy="384.5" r="3.0"/><circle cx="361.7" cy="379.3" r="3.0"/><circle cx="361.7" cy="374.1" r="3.0"/><circle cx="361.7" cy="369.0" r="3.0"/><circle cx="361.7" cy="363.8" r="3.0"/><circle cx="361.7" cy="358.6" r="3.0"/><circle cx="361.7" cy="353.5" r="3.0"/><circle cx="361.7" cy="348.3" r="3.0"/><circle cx="361.7" cy="343.1" r="3.0"/><circle cx="361.7" cy="337.9" r="3.0"/><circle cx="361.7" cy="332.8" r="3.0"/><circle cx="366.3" cy="400.0" r="3.0"/><circle cx="366.3" cy="394.8" r="3.0"/><circle cx="366.3" cy="389.7" r="3.0"/><circle cx="366.3" cy="384.5" r="3.0"/><circle cx="366.3" cy="379.3" r="3.0"/><circle cx="366.3" cy="374.1" r="3.0"/><circle cx="366.3" cy="369.0" r="3.0"/><circle cx="366.3" cy="363.8" r="3.0"/><circle cx="366.3" cy="358.6" r="3.0"/><circle cx="366.3" cy="353.5" r="3.0"/><circle cx="366.3" cy="348.3" r="3.0"/><circle cx="366.3" cy="343.1" r="3.0"/><circle cx="366.3" cy="337.9" r="3.0"/><circle cx="370.9" cy="400.0" r="3.0"/><circle cx="370.9" cy="394.8" r="3.0"/><circle cx="370.9" cy="389.7" r="3.0"/><circle cx="370.9" cy="384.5" r="3.0"/><circle cx="370.9" cy="379.3" r="3.0"/><circle cx="370.9" cy="374.1" r="3.0"/><circle cx="370.9" cy="369.0" r="3.0"/><circle cx="370.9" cy="363.8" r="3.0"/><circle cx="370.9" cy="358.6" r="3.0"/><circle cx="370.9" cy="353.5" r="3.0"/><circle cx="370.9" cy="348.3" r="3.0"/><circle cx="370.9" cy="343.1" r="3.0"/><circle cx="375.5" cy="400.0" r="3.0"/><circle cx="375.5" cy="394.8" r="3.0"/><circle cx="375.5" cy="389.7" r="3.0"/><circle cx="375.5" cy="384.5" r="3.0"/><circle cx="375.5" cy="379.3" r="3.0"/><circle cx="375.5" cy="374.1" r="3.0"/><circle cx="375.5" cy="369.0" r="3.0"/><circle cx="375.5" cy="363.8" r="3.0"/><circle cx="375.5" cy="358.6" r="3.0"/><circle cx="375.5" cy="353.5" r="3.0"/><circle cx="375.5" cy="348.3" r="3.0"/><circle cx="380.2" cy="400.0" r="3.0"/><circle cx="380.2" cy="394.8" r="3.0"/><circle cx="380.2" cy="389.7" r="3.0"/><circle cx="380.2" cy="384.5" r="3.0"/><circle cx="380.2" cy="379.3" r="3.0"/><circle cx="380.2" cy="374.1" r="3.0"/><circle cx="380.2" cy="369.0" r="3.0"/><circle cx="380.2" cy="363.8" r="3.0"/><circle cx="380.2" cy="358.6" r="3.0"/><circle cx="380.2" cy="353.5" r="3.0"/><circle cx="384.8" cy="400.0" r="3.0"/><circle cx="384.8" cy="394.8" r="3.0"/><circle cx="384.8" cy="389.7" r="3.0"/><circle cx="384.8" cy="384.5" r="3.0"/><circle cx="384.8" cy="379.3" r="3.0"/><circle cx="384.8" cy="374.1" r="3.0"/><circle cx="384.8" cy="369.0" r="3.0"/><circle cx="384.8" cy="363.8" r="3.0"/><circle cx="384.8" cy="358.6" r="3.0"/><circle cx="384.8" cy="353.5" r="3.0"/><circle cx="389.4" cy="400.0" r="3.0"/><circle cx="389.4" cy="394.8" r="3.0"/><circle cx="389.4" cy="389.7" r="3.0"/><circle cx="389.4" cy="384.5" r="3.0"/><circle cx="389.4" cy="379.3" r="3.0"/><circle cx="389.4" cy="374.1" r="3.0"/><circle cx="389.4" cy="369.0" r="3.0"/><circle cx="389.4" cy="363.8" r="3.0"/><circle cx="389.4" cy="358.6" r="3.0"/><circle cx="394.0" cy="400.0" r="3.0"/><circle cx="394.0" cy="394.8" r="3.0"/><circle cx="394.0" cy="389.7" r="3.0"/><circle cx="394.0" cy="384.5" r="3.0"/><circle cx="394.0" cy="379.3" r="3.0"/><circle cx="394.0" cy="374.1" r="3.0"/><circle cx="394.0" cy="369.0" r="3.0"/><circle cx="394.0" cy="363.8" r="3.0"/><circle cx="398.6" cy="400.0" r="3.0"/><circle cx="398.6" cy="394.8" r="3.0"/><circle cx="398.6" cy="389.7" r="3.0"/><circle cx="398.6" cy="384.5" r="3.0"/><circle cx="398.6" cy="379.3" r="3.0"/><circle cx="398.6" cy="374.1" r="3.0"/><circle cx="398.6" cy="369.0" r="3.0"/><circle cx="403.2" cy="400.0" r="3.0"/><circle cx="403.2" cy="394.8" r="3.0"/><circle cx="403.2" cy="389.7" r="3.0"/><circle cx="403.2" cy="384.5" r="3.0"/><circle cx="403.2" cy="379.3" r="3.0"/><circle cx="403.2" cy="374.1" r="3.0"/><circle cx="403.2" cy="369.0" r="3.0"/><circle cx="407.8" cy="400.0" r="3.0"/><circle cx="407.8" cy="394.8" r="3.0"/><circle cx="407.8" cy="389.7" r="3.0"/><circle cx="407.8" cy="384.5" r="3.0"/><circle cx="407.8" cy="379.3" r="3.0"/><circle cx="407.8" cy="374.1" r="3.0"/><circle cx="412.4" cy="400.0" r="3.0"/><circle cx="412.4" cy="394.8" r="3.0"/><circle cx="412.4" cy="389.7" r="3.0"/><circle cx="412.4" cy="384.5" r="3.0"/><circle cx="412.4" cy="379.3" r="3.0"/><circle cx="417.0" cy="400.0" r="3.0"/><circle cx="417.0" cy="394.8" r="3.0"/><circle cx="417.0" cy="389.7" r="3.0"/><circle cx="417.0" cy="384.5" r="3.0"/><circle cx="421.7" cy="400.0" r="3.0"/><circle cx="421.7" cy="394.8" r="3.0"/><circle cx="421.7" cy="389.7" r="3.0"/><circle cx="421.7" cy="384.5" r="3.0"/><circle cx="426.3" cy="400.0" r="3.0"/><circle cx="426.3" cy="394.8" r="3.0"/><circle cx="426.3" cy="389.7" r="3.0"/><circle cx="430.9" cy="400.0" r="3.0"/><circle cx="430.9" cy="394.8" r="3.0"/><circle cx="435.5" cy="400.0" r="3.0"/><circle cx="435.5" cy="394.8" r="3.0"/><circle cx="440.1" cy="400.0" r="3.0"/><circle cx="444.7" cy="400.0" r="3.0"/></g>
<g fill="#e61c08" fill-opacity="0.28"><circle cx="241.8" cy="43.2" r="3.0"/><circle cx="241.8" cy="38.0" r="3.0"/><circle cx="246.4" cy="58.7" r="3.0"/><circle cx="246.4" cy="53.5" r="3.0"/><circle cx="246.4" cy="48.3" r="3.0"/><circle cx="246.4" cy="43.2" r="3.0"/><circle cx="246.4" cy="38.0" r="3.0"/><circle cx="251.0" cy="74.2" r="3.0"/><circle cx="251.0" cy="69.0" r="3.0"/><circle cx="251.0" cy="63.9" r="3.0"/><circle cx="251.0" cy="58.7" r="3.0"/><circle cx="251.0" cy="53.5" r="3.0"/><circle cx="251.0" cy="48.3" r="3.0"/><circle cx="251.0" cy="43.2" r="3.0"/><circle cx="251.0" cy="38.0" r="3.0"/><circle cx="255.6" cy="84.5" r="3.0"/><circle cx="255.6" cy="79.4" r="3.0"/><circle cx="255.6" cy="74.2" r="3.0"/><circle cx="255.6" cy="69.0" r="3.0"/><circle cx="255.6" cy="63.9" r="3.0"/><circle cx="255.6" cy="58.7" r="3.0"/><circle cx="255.6" cy="53.5" r="3.0"/><circle cx="255.6" cy="48.3" r="3.0"/><circle cx="255.6" cy="43.2" r="3.0"/><circle cx="255.6" cy="38.0" r="3.0"/><circle cx="260.2" cy="100.1" r="3.0"/><circle cx="260.2" cy="94.9" r="3.0"/><circle cx="260.2" cy="89.7" r="3.0"/><circle cx="260.2" cy="84.5" r="3.0"/><circle cx="260.2" cy="79.4" r="3.0"/><circle cx="260.2" cy="74.2" r="3.0"/><circle cx="260.2" cy="69.0" r="3.0"/><circle cx="260.2" cy="63.9" r="3.0"/><circle cx="260.2" cy="58.7" r="3.0"/><circle cx="260.2" cy="53.5" r="3.0"/><circle cx="260.2" cy="48.3" r="3.0"/><circle cx="260.2" cy="43.2" r="3.0"/><circle cx="260.2" cy="38.0" r="3.0"/><circle cx="264.9" cy="110.4" r="3.0"/><circle cx="264.9" cy="105.2" r="3.0"/><circle cx="264.9" cy="100.1" r="3.0"/><circle cx="264.9" cy="94.9" r="3.0"/><circle cx="264.9" cy="89.7" r="3.0"/><circle cx="264.9" cy="84.5" r="3.0"/><circle cx="264.9" cy="79.4" r="3.0"/><circle cx="264.9" cy="74.2" r="3.0"/><circle cx="264.9" cy="69.0" r="3.0"/><circle cx="264.9" cy="63.9" r="3.0"/><circle cx="264.9" cy="58.7" r="3.0"/><circle cx="264.9" cy="53.5" r="3.0"/><circle cx="264.9" cy="48.3" r="3.0"/><circle cx="264.9" cy="43.2" r="3.0"/><circle cx="264.9" cy="38.0" r="3.0"/><circle cx="269.5" cy="125.9" r="3.0"/><circle cx="269.5" cy="120.7" r="3.0"/><circle cx="269.5" cy="115.6" r="3.0"/><circle cx="269.5" cy="110.4" r="3.0"/><circle cx="269.5" cy="105.2" r="3.0"/><circle cx="269.5" cy="100.1" r="3.0"/><circle cx="269.5" cy="94.9" r="3.0"/><circle cx="269.5" cy="89.7" r="3.0"/><circle cx="269.5" cy="84.5" r="3.0"/><circle cx="269.5" cy="79.4" r="3.0"/><circle cx="269.5" cy="74.2" r="3.0"/><circle cx="269.5" cy="69.0" r="3.0"/><circle cx="269.5" cy="63.9" r="3.0"/><circle cx="269.5" cy="58.7" r="3.0"/><circle cx="269.5" cy="53.5" r="3.0"/><circle cx="269.5" cy="48.3" r="3.0"/><circle cx="269.5" cy="43.2" r="3.0"/><circle cx="269.5" cy="38.0" r="3.0"/><circle cx="274.1" cy="136.3" r="3.0"/><circle cx="274.1" cy="131.1" r="3.0"/><circle cx="274.1" cy="125.9" r="3.0"/><circle cx="274.1" cy="120.7" r="3.0"/><circle cx="274.1" cy="115.6" r="3.0"/><circle cx="274.1" cy="110.4" r="3.0"/><circle cx="274.1" cy="105.2" r="3.0"/><circle cx="274.1" cy="100.1" r="3.0"/><circle cx="274.1" cy="94.9" r="3.0"/><circle cx="274.1" cy="89.7" r="3.0"/><circle cx="274.1" cy="84.5" r="3.0"/><circle cx="274.1" cy="79.4" r="3.0"/><circle cx="274.1" cy="74.2" r="3.0"/><circle cx="274.1" cy="69.0" r="3.0"/><circle cx="274.1" cy="63.9" r="3.0"/><circle cx="274.1" cy="58.7" r="3.0"/><circle cx="274.1" cy="53.5" r="3.0"/><circle cx="274.1" cy="48.3" r="3.0"/><circle cx="274.1" cy="43.2" r="3.0"/><circle cx="274.1" cy="38.0" r="3.0"/><circle cx="278.7" cy="146.6" r="3.0"/><circle cx="278.7" cy="141.4" r="3.0"/><circle cx="278.7" cy="136.3" r="3.0"/><circle cx="278.7" cy="131.1" r="3.0"/><circle cx="278.7" cy="125.9" r="3.0"/><circle cx="278.7" cy="120.7" r="3.0"/><circle cx="278.7" cy="115.6" r="3.0"/><circle cx="278.7" cy="110.4" r="3.0"/><circle cx="278.7" cy="105.2" r="3.0"/><circle cx="278.7" cy="100.1" r="3.0"/><circle cx="278.7" cy="94.9" r="3.0"/><circle cx="278.7" cy="89.7" r="3.0"/><circle cx="278.7" cy="84.5" r="3.0"/><circle cx="278.7" cy="79.4" r="3.0"/><circle cx="278.7" cy="74.2" r="3.0"/><circle cx="278.7" cy="69.0" r="3.0"/><circle cx="278.7" cy="63.9" r="3.0"/><circle cx="278.7" cy="58.7" r="3.0"/><circle cx="278.7" cy="53.5" r="3.0"/><circle cx="278.7" cy="48.3" r="3.0"/><circle cx="278.7" cy="43.2" r="3.0"/><circle cx="278.7" cy="38.0" r="3.0"/><circle cx="283.3" cy="156.9" r="3.0"/><circle cx="283.3" cy="151.8" r="3.0"/><circle cx="283.3" cy="146.6" r="3.0"/><circle cx="283.3" cy="141.4" r="3.0"/><circle cx="283.3" cy="136.3" r="3.0"/><circle cx="283.3" cy="131.1" r="3.0"/><circle cx="283.3" cy="125.9" r="3.0"/><circle cx="283.3" cy="120.7" r="3.0"/><circle cx="283.3" cy="115.6" r="3.0"/><circle cx="283.3" cy="110.4" r="3.0"/><circle cx="283.3" cy="105.2" r="3.0"/><circle cx="283.3" cy="100.1" r="3.0"/><circle cx="283.3" cy="94.9" r="3.0"/><circle cx="283.3" cy="89.7" r="3.0"/><circle cx="283.3" cy="84.5" r="3.0"/><circle cx="283.3" cy="79.4" r="3.0"/><circle cx="283.3" cy="74.2" r="3.0"/><circle cx="283.3" cy="69.0" r="3.0"/><circle cx="283.3" cy="63.9" r="3.0"/><circle cx="283.3" cy="58.7" r="3.0"/><circle cx="283.3" cy="53.5" r="3.0"/><circle cx="283.3" cy="48.3" r="3.0"/><circle cx="283.3" cy="43.2" r="3.0"/><circle cx="283.3" cy="38.0" r="3.0"/><circle cx="287.9" cy="167.3" r="3.0"/><circle cx="287.9" cy="162.1" r="3.0"/><circle cx="287.9" cy="156.9" r="3.0"/><circle cx="287.9" cy="151.8" r="3.0"/><circle cx="287.9" cy="146.6" r="3.0"/><circle cx="287.9" cy="141.4" r="3.0"/><circle cx="287.9" cy="136.3" r="3.0"/><circle cx="287.9" cy="131.1" r="3.0"/><circle cx="287.9" cy="125.9" r="3.0"/><circle cx="287.9" cy="120.7" r="3.0"/><circle cx="287.9" cy="115.6" r="3.0"/><circle cx="287.9" cy="110.4" r="3.0"/><circle cx="287.9" cy="105.2" r="3.0"/><circle cx="287.9" cy="100.1" r="3.0"/><circle cx="287.9" cy="94.9" r="3.0"/><circle cx="287.9" cy="89.7" r="3.0"/><circle cx="287.9" cy="84.5" r="3.0"/><circle cx="287.9" cy="79.4" r="3.0"/><circle cx="287.9" cy="74.2" r="3.0"/><circle cx="287.9" cy="69.0" r="3.0"/><circle cx="287.9" cy="63.9" r="3.0"/><circle cx="287.9" cy="58.7" r="3.0"/><circle cx="287.9" cy="53.5" r="3.0"/><circle cx="287.9" cy="48.3" r="3.0"/><circle cx="287.9" cy="43.2" r="3.0"/><circle cx="287.9" cy="38.0" r="3.0"/><circle cx="292.5" cy="177.6" r="3.0"/><circle cx="292.5" cy="172.5" r="3.0"/><circle cx="292.5" cy="167.3" r="3.0"/><circle cx="292.5" cy="162.1" r="3.0"/><circle cx="292.5" cy="156.9" r="3.0"/><circle cx="292.5" cy="151.8" r="3.0"/><circle cx="292.5" cy="146.6" r="3.0"/><circle cx="292.5" cy="141.4" r="3.0"/><circle cx="292.5" cy="136.3" r="3.0"/><circle cx="292.5" cy="131.1" r="3.0"/><circle cx="292.5" cy="125.9" r="3.0"/><circle cx="292.5" cy="120.7" r="3.0"/><circle cx="292.5" cy="115.6" r="3.0"/><circle cx="292.5" cy="110.4" r="3.0"/><circle cx="292.5" cy="105.2" r="3.0"/><circle cx="292.5" cy="100.1" r="3.0"/><circle cx="292.5" cy="94.9" r="3.0"/><circle cx="292.5" cy="89.7" r="3.0"/><circle cx="292.5" cy="84.5" r="3.0"/><circle cx="292.5" cy="79.4" r="3.0"/><circle cx="292.5" cy="74.2" r="3.0"/><circle cx="292.5" cy="69.0" r="3.0"/><circle cx="292.5" cy="63.9" r="3.0"/><circle cx="292.5" cy="58.7" r="3.0"/><circle cx="292.5" cy="53.5" r="3.0"/><circle cx="292.5" cy="48.3" r="3.0"/><circle cx="292.5" cy="43.2" r="3.0"/><circle cx="292.5" cy="38.0" r="3.0"/><circle cx="297.1" cy="188.0" r="3.0"/><circle cx="297.1" cy="182.8" r="3.0"/><circle cx="297.1" cy="177.6" r="3.0"/><circle cx="297.1" cy="172.5" r="3.0"/><circle cx="297.1" cy="167.3" r="3.0"/><circle cx="297.1" cy="162.1" r="3.0"/><circle cx="297.1" cy="156.9" r="3.0"/><circle cx="297.1" cy="151.8" r="3.0"/><circle cx="297.1" cy="146.6" r="3.0"/><circle cx="297.1" cy="141.4" r="3.0"/><circle cx="297.1" cy="136.3" r="3.0"/><circle cx="297.1" cy="131.1" r="3.0"/><circle cx="297.1" cy="125.9" r="3.0"/><circle cx="297.1" cy="120.7" r="3.0"/><circle cx="297.1" cy="115.6" r="3.0"/><circle cx="297.1" cy="110.4" r="3.0"/><circle cx="297.1" cy="105.2" r="3.0"/><circle cx="297.1" cy="100.1" r="3.0"/><circle cx="297.1" cy="94.9" r="3.0"/><circle cx="297.1" cy="89.7" r="3.0"/><circle cx="297.1" cy="84.5" r="3.0"/><circle cx="297.1" cy="79.4" r="3.0"/><circle cx="297.1" cy="74.2" r="3.0"/><circle cx="297.1" cy="69.0" r="3.0"/><circle cx="297.1" cy="63.9" r="3.0"/><circle cx="297.1" cy="58.7" r="3.0"/><circle cx="297.1" cy="53.5" r="3.0"/><circle cx="297.1" cy="48.3" r="3.0"/><circle cx="297.1" cy="43.2" r="3.0"/><circle cx="301.7" cy="198.3" r="3.0"/><circle cx="301.7" cy="193.1" r="3.0"/><circle cx="301.7" cy="188.0" r="3.0"/><circle cx="301.7" cy="182.8" r="3.0"/><circle cx="301.7" cy="177.6" r="3.0"/><circle cx="301.7" cy="172.5" r="3.0"/><circle cx="301.7" cy="167.3" r="3.0"/><circle cx="301.7" cy="162.1" r="3.0"/><circle cx="301.7" cy="156.9" r="3.0"/><circle cx="301.7" cy="151.8" r="3.0"/><circle cx="301.7" cy="146.6" r="3.0"/><circle cx="301.7" cy="141.4" r="3.0"/><circle cx="301.7" cy="136.3" r="3.0"/><circle cx="301.7" cy="131.1" r="3.0"/><circle cx="301.7" cy="125.9" r="3.0"/><circle cx="301.7" cy="120.7" r="3.0"/><circle cx="301.7" cy="115.6" r="3.0"/><circle cx="301.7" cy="110.4" r="3.0"/><circle cx="301.7" cy="105.2" r="3.0"/><circle cx="301.7" cy="100.1" r="3.0"/><circle cx="301.7" cy="94.9" r="3.0"/><circle cx="301.7" cy="89.7" r="3.0"/><circle cx="301.7" cy="84.5" r="3.0"/><circle cx="301.7" cy="79.4" r="3.0"/><circle cx="301.7" cy="74.2" r="3.0"/><circle cx="301.7" cy="69.0" r="3.0"/><circle cx="301.7" cy="63.9" r="3.0"/><circle cx="301.7" cy="58.7" r="3.0"/><circle cx="301.7" cy="53.5" r="3.0"/><circle cx="306.4" cy="203.5" r="3.0"/><circle cx="306.4" cy="198.3" r="3.0"/><circle cx="306.4" cy="193.1" r="3.0"/><circle cx="306.4" cy="188.0" r="3.0"/><circle cx="306.4" cy="182.8" r="3.0"/><circle cx="306.4" cy="177.6" r="3.0"/><circle cx="306.4" cy="172.5" r="3.0"/><circle cx="306.4" cy="167.3" r="3.0"/><circle cx="306.4" cy="162.1" r="3.0"/><circle cx="306.4" cy="156.9" r="3.0"/><circle cx="306.4" cy="151.8" r="3.0"/><circle cx="306.4" cy="146.6" r="3.0"/><circle cx="306.4" cy="141.4" r="3.0"/><circle cx="306.4" cy="136.3" r="3.0"/><circle cx="306.4" cy="131.1" r="3.0"/><circle cx="306.4" cy="125.9" r="3.0"/><circle cx="306.4" cy="120.7" r="3.0"/><circle cx="306.4" cy="115.6" r="3.0"/><circle cx="306.4" cy="110.4" r="3.0"/><circle cx="306.4" cy="105.2" r="3.0"/><circle cx="306.4" cy="100.1" r="3.0"/><circle cx="306.4" cy="94.9" r="3.0"/><circle cx="306.4" cy="89.7" r="3.0"/><circle cx="306.4" cy="84.5" r="3.0"/><circle cx="306.4" cy="79.4" r="3.0"/><circle cx="306.4" cy="74.2" r="3.0"/><circle cx="306.4" cy="69.0" r="3.0"/><circle cx="306.4" cy="63.9" r="3.0"/><circle cx="311.0" cy="213.8" r="3.0"/><circle cx="311.0" cy="208.7" r="3.0"/><circle cx="311.0" cy="203.5" r="3.0"/><circle cx="311.0" cy="198.3" r="3.0"/><circle cx="311.0" cy="193.1" r="3.0"/><circle cx="311.0" cy="188.0" r="3.0"/><circle cx="311.0" cy="182.8" r="3.0"/><circle cx="311.0" cy="177.6" r="3.0"/><circle cx="311.0" cy="172.5" r="3.0"/><circle cx="311.0" cy="167.3" r="3.0"/><circle cx="311.0" cy="162.1" r="3.0"/><circle cx="311.0" cy="156.9" r="3.0"/><circle cx="311.0" cy="151.8" r="3.0"/><circle cx="311.0" cy="146.6" r="3.0"/><circle cx="311.0" cy="141.4" r="3.0"/><circle cx="311.0" cy="136.3" r="3.0"/><circle cx="311.0" cy="131.1" r="3.0"/><circle cx="311.0" cy="125.9" r="3.0"/><circle cx="311.0" cy="120.7" r="3.0"/><circle cx="311.0" cy="115.6" r="3.0"/><circle cx="311.0" cy="110.4" r="3.0"/><circle cx="311.0" cy="105.2" r="3.0"/><circle cx="311.0" cy="100.1" r="3.0"/><circle cx="311.0" cy="94.9" r="3.0"/><circle cx="311.0" cy="89.7" r="3.0"/><circle cx="311.0" cy="84.5" r="3.0"/><circle cx="311.0" cy="79.4" r="3.0"/><circle cx="315.6" cy="219.0" r="3.0"/><circle cx="315.6" cy="213.8" r="3.0"/><circle cx="315.6" cy="208.7" r="3.0"/><circle cx="315.6" cy="203.5" r="3.0"/><circle cx="315.6" cy="198.3" r="3.0"/><circle cx="315.6" cy="193.1" r="3.0"/><circle cx="315.6" cy="188.0" r="3.0"/><circle cx="315.6" cy="182.8" r="3.0"/><circle cx="315.6" cy="177.6" r="3.0"/><circle cx="315.6" cy="172.5" r="3.0"/><circle cx="315.6" cy="167.3" r="3.0"/><circle cx="315.6" cy="162.1" r="3.0"/><circle cx="315.6" cy="156.9" r="3.0"/><circle cx="315.6" cy="151.8" r="3.0"/><circle cx="315.6" cy="146.6" r="3.0"/><circle cx="315.6" cy="141.4" r="3.0"/><circle cx="315.6" cy="136.3" r="3.0"/><circle cx="315.6" cy="131.1" r="3.0"/><circle cx="315.6" cy="125.9" r="3.0"/><circle cx="315.6" cy="120.7" r="3.0"/><circle cx="315.6" cy="115.6" r="3.0"/><circle cx="315.6" cy="110.4" r="3.0"/><circle cx="315.6" cy="105.2" r="3.0"/><circle cx="315.6" cy="100.1" r="3.0"/><circle cx="315.6" cy="94.9" r="3.0"/><circle cx="315.6" cy="89.7" r="3.0"/><circle cx="320.2" cy="229.3" r="3.0"/><circle cx="320.2" cy="224.2" r="3.0"/><circle cx="320.2" cy="219.0" r="3.0"/><circle cx="320.2" cy="213.8" r="3.0"/><circle cx="320.2" cy="208.7" r="3.0"/><circle cx="320.2" cy="203.5" r="3.0"/><circle cx="320.2" cy="198.3" r="3.0"/><circle cx="320.2" cy="193.1" r="3.0"/><circle cx="320.2" cy="188.0" r="3.0"/><circle cx="320.2" cy="182.8" r="3.0"/><circle cx="320.2" cy="177.6" r="3.0"/><circle cx="320.2" cy="172.5" r="3.0"/><circle cx="320.2" cy="167.3" r="3.0"/><circle cx="320.2" cy="162.1" r="3.0"/><circle cx="320.2" cy="156.9" r="3.0"/><circle cx="320.2" cy="151.8" r="3.0"/><circle cx="320.2" cy="146.6" r="3.0"/><circle cx="320.2" cy="141.4" r="3.0"/><circle cx="320.2" cy="136.3" r="3.0"/><circle cx="320.2" cy="131.1" r="3.0"/><circle cx="320.2" cy="125.9" r="3.0"/><circle cx="320.2" cy="120.7" r="3.0"/><circle cx="320.2" cy="115.6" r="3.0"/><circle cx="320.2" cy="110.4" r="3.0"/><circle cx="320.2" cy="105.2" r="3.0"/><circle cx="320.2" cy="100.1" r="3.0"/><circle cx="324.8" cy="234.5" r="3.0"/><circle cx="324.8" cy="229.3" r="3.0"/><circle cx="324.8" cy="224.2" r="3.0"/><circle cx="324.8" cy="219.0" r="3.0"/><circle cx="324.8" cy="213.8" r="3.0"/><circle cx="324.8" cy="208.7" r="3.0"/><circle cx="324.8" cy="203.5" r="3.0"/><circle cx="324.8" cy="198.3" r="3.0"/><circle cx="324.8" cy="193.1" r="3.0"/><circle cx="324.8" cy="188.0" r="3.0"/><circle cx="324.8" cy="182.8" r="3.0"/><circle cx="324.8" cy="177.6" r="3.0"/><circle cx="324.8" cy="172.5" r="3.0"/><circle cx="324.8" cy="167.3" r="3.0"/><circle cx="324.8" cy="162.1" r="3.0"/><circle cx="324.8" cy="156.9" r="3.0"/><circle cx="324.8" cy="151.8" r="3.0"/><circle cx="324.8" cy="146.6" r="3.0"/><circle cx="324.8" cy="141.4" r="3.0"/><circle cx="324.8" cy="136.3" r="3.0"/><circle cx="324.8" cy="131.1" r="3.0"/><circle cx="324.8" cy="125.9" r="3.0"/><circle cx="324.8" cy="120.7" r="3.0"/><circle cx="324.8" cy="115.6" r="3.0"/><circle cx="324.8" cy="110.4" r="3.0"/><circle cx="324.8" cy="105.2" r="3.0"/><circle cx="329.4" cy="244.9" r="3.0"/><circle cx="329.4" cy="239.7" r="3.0"/><circle cx="329.4" cy="234.5" r="3.0"/><circle cx="329.4" cy="229.3" r="3.0"/><circle cx="329.4" cy="224.2" r="3.0"/><circle cx="329.4" cy="219.0" r="3.0"/><circle cx="329.4" cy="213.8" r="3.0"/><circle cx="329.4" cy="208.7" r="3.0"/><circle cx="329.4" cy="203.5" r="3.0"/><circle cx="329.4" cy="198.3" r="3.0"/><circle cx="329.4" cy="193.1" r="3.0"/><circle cx="329.4" cy="188.0" r="3.0"/><circle cx="329.4" cy="182.8" r="3.0"/><circle cx="329.4" cy="177.6" r="3.0"/><circle cx="329.4" cy="172.5" r="3.0"/><circle cx="329.4" cy="167.3" r="3.0"/><circle cx="329.4" cy="162.1" r="3.0"/><circle cx="329.4" cy="156.9" r="3.0"/><circle cx="329.4" cy="151.8" r="3.0"/><circle cx="329.4" cy="146.6" r="3.0"/><circle cx="329.4" cy="141.4" r="3.0"/><circle cx="329.4" cy="136.3" r="3.0"/><circle cx="329.4" cy="131.1" r="3.0"/><circle cx="329.4" cy="125.9" r="3.0"/><circle cx="329.4" cy="120.7" r="3.0"/><circle cx="329.4" cy="115.6" r="3.0"/><circle cx="334.0" cy="250.0" r="3.0"/><circle cx="334.0" cy="244.9" r="3.0"/><circle cx="334.0" cy="239.7" r="3.0"/><circle cx="334.0" cy="234.5" r="3.0"/><circle cx="334.0" cy="229.3" r="3.0"/><circle cx="334.0" cy="224.2" r="3.0"/><circle cx="334.0" cy="219.0" r="3.0"/><circle cx="334.0" cy="213.8" r="3.0"/><circle cx="334.0" cy="208.7" r="3.0"/><circle cx="334.0" cy="203.5" r="3.0"/><circle cx="334.0" cy="198.3" r="3.0"/><circle cx="334.0" cy="193.1" r="3.0"/><circle cx="334.0" cy="188.0" r="3.0"/><circle cx="334.0" cy="182.8" r="3.0"/><circle cx="334.0" cy="177.6" r="3.0"/><circle cx="334.0" cy="172.5" r="3.0"/><circle cx="334.0" cy="167.3" r="3.0"/><circle cx="334.0" cy="162.1" r="3.0"/><circle cx="334.0" cy="156.9" r="3.0"/><circle cx="334.0" cy="151.8" r="3.0"/><circle cx="334.0" cy="146.6" r="3.0"/><circle cx="334.0" cy="141.4" r="3.0"/><circle cx="334.0" cy="136.3" r="3.0"/><circle cx="334.0" cy="131.1" r="3.0"/><circle cx="334.0" cy="125.9" r="3.0"/><circle cx="338.6" cy="255.2" r="3.0"/><circle cx="338.6" cy="250.0" r="3.0"/><circle cx="338.6" cy="244.9" r="3.0"/><circle cx="338.6" cy="239.7" r="3.0"/><circle cx="338.6" cy="234.5" r="3.0"/><circle cx="338.6" cy="229.3" r="3.0"/><circle cx="338.6" cy="224.2" r="3.0"/><circle cx="338.6" cy="219.0" r="3.0"/><circle cx="338.6" cy="213.8" r="3.0"/><circle cx="338.6" cy="208.7" r="3.0"/><circle cx="338.6" cy="203.5" r="3.0"/><circle cx="338.6" cy="198.3" r="3.0"/><circle cx="338.6" cy="193.1" r="3.0"/><circle cx="338.6" cy="188.0" r="3.0"/><circle cx="338.6" cy="182.8" r="3.0"/><circle cx="338.6" cy="177.6" r="3.0"/><circle cx="338.6" cy="172.5" r="3.0"/><circle cx="338.6" cy="167.3" r="3.0"/><circle cx="338.6" cy="162.1" r="3.0"/><circle cx="338.6" cy="156.9" r="3.0"/><circle cx="338.6" cy="151.8" r="3.0"/><circle cx="338.6" cy="146.6" r="3.0"/><circle cx="338.6" cy="141.4" r="3.0"/><circle cx="338.6" cy="136.3" r="3.0"/><circle cx="343.3" cy="265.5" r="3.0"/><circle cx="343.3" cy="260.4" r="3.0"/><circle cx="343.3" cy="255.2" r="3.0"/><circle cx="343.3" cy="250.0" r="3.0"/><circle cx="343.3" cy="244.9" r="3.0"/><circle cx="343.3" cy="239.7" r="3.0"/><circle cx="343.3" cy="234.5" r="3.0"/><circle cx="343.3" cy="229.3" r="3.0"/><circle cx="343.3" cy="224.2" r="3.0"/><circle cx="343.3" cy="219.0" r="3.0"/><circle cx="343.3" cy="213.8" r="3.0"/><circle cx="343.3" cy="208.7" r="3.0"/><circle cx="343.3" cy="203.5" r="3.0"/><circle cx="343.3" cy="198.3" r="3.0"/><circle cx="343.3" cy="193.1" r="3.0"/><circle cx="343.3" cy="188.0" r="3.0"/><circle cx="343.3" cy="182.8" r="3.0"/><circle cx="343.3" cy="177.6" r="3.0"/><circle cx="343.3" cy="172.5" r="3.0"/><circle cx="343.3" cy="167.3" r="3.0"/><circle cx="343.3" cy="162.1" r="3.0"/><circle cx="343.3" cy="156.9" r="3.0"/><circle cx="343.3" cy="151.8" r="3.0"/><circle cx="343.3" cy="146.6" r="3.0"/><circle cx="343.3" cy="141.4" r="3.0"/><circle cx="347.9" cy="270.7" r="3.0"/><circle cx="347.9" cy="265.5" r="3.0"/><circle cx="347.9" cy="260.4" r="3.0"/><circle cx="347.9" cy="255.2" r="3.0"/><circle cx="347.9" cy="250.0" r="3.0"/><circle cx="347.9" cy="244.9" r="3.0"/><circle cx="347.9" cy="239.7" r="3.0"/><circle cx="347.9" cy="234.5" r="3.0"/><circle cx="347.9" cy="229.3" r="3.0"/><circle cx="347.9" cy="224.2" r="3.0"/><circle cx="347.9" cy="219.0" r="3.0"/><circle cx="347.9" cy="213.8" r="3.0"/><circle cx="347.9" cy="208.7" r="3.0"/><circle cx="347.9" cy="203.5" r="3.0"/><circle cx="347.9" cy="198.3" r="3.0"/><circle cx="347.9" cy="193.1" r="3.0"/><circle cx="347.9" cy="188.0" r="3.0"/><circle cx="347.9" cy="182.8" r="3.0"/><circle cx="347.9" cy="177.6" r="3.0"/><circle cx="347.9" cy="172.5" r="3.0"/><circle cx="347.9" cy="167.3" r="3.0"/><circle cx="347.9" cy="162.1" r="3.0"/><circle cx="347.9" cy="156.9" r="3.0"/><circle cx="347.9" cy="151.8" r="3.0"/><circle cx="352.5" cy="275.9" r="3.0"/><circle cx="352.5" cy="270.7" r="3.0"/><circle cx="352.5" cy="265.5" r="3.0"/><circle cx="352.5" cy="260.4" r="3.0"/><circle cx="352.5" cy="255.2" r="3.0"/><circle cx="352.5" cy="250.0" r="3.0"/><circle cx="352.5" cy="244.9" r="3.0"/><circle cx="352.5" cy="239.7" r="3.0"/><circle cx="352.5" cy="234.5" r="3.0"/><circle cx="352.5" cy="229.3" r="3.0"/><circle cx="352.5" cy="224.2" r="3.0"/><circle cx="352.5" cy="219.0" r="3.0"/><circle cx="352.5" cy="213.8" r="3.0"/><circle cx="352.5" cy="208.7" r="3.0"/><circle cx="352.5" cy="203.5" r="3.0"/><circle cx="352.5" cy="198.3" r="3.0"/><circle cx="352.5" cy="193.1" r="3.0"/><circle cx="352.5" cy="188.0" r="3.0"/><circle cx="352.5" cy="182.8" r="3.0"/><circle cx="352.5" cy="177.6" r="3.0"/><circle cx="352.5" cy="172.5" r="3.0"/><circle cx="352.5" cy="167.3" r="3.0"/><circle cx="352.5" cy="162.1" r="3.0"/><circle cx="352.5" cy="156.9" r="3.0"/><circle cx="357.1" cy="281.1" r="3.0"/><circle cx="357.1" cy="275.9" r="3.0"/><circle cx="357.1" cy="270.7" r="3.0"/><circle cx="357.1" cy="265.5" r="3.0"/><circle cx="357.1" cy="260.4" r="3.0"/><circle cx="357.1" cy="255.2" r="3.0"/><circle cx="357.1" cy="250.0" r="3.0"/><circle cx="357.1" cy="244.9" r="3.0"/><circle cx="357.1" cy="239.7" r="3.0"/><circle cx="357.1" cy="234.5" r="3.0"/><circle cx="357.1" cy="229.3" r="3.0"/><circle cx="357.1" cy="224.2" r="3.0"/><circle cx="357.1" cy="219.0" r="3.0"/><circle cx="357.1" cy="213.8" r="3.0"/><circle cx="357.1" cy="208.7" r="3.0"/><circle cx="357.1" cy="203.5" r="3.0"/><circle cx="357.1" cy="198.3" r="3.0"/><circle cx="357.1" cy="193.1" r="3.0"/><circle cx="357.1" cy="188.0" r="3.0"/><circle cx="357.1" cy="182.8" r="3.0"/><circle cx="357.1" cy="177.6" r="3.0"/><circle cx="357.1" cy="172.5" r="3.0"/><circle cx="357.1" cy="167.3" r="3.0"/><circle cx="361.7" cy="286.2" r="3.0"/><circle cx="361.7" cy="281.1" r="3.0"/><circle cx="361.7" cy="275.9" r="3.0"/><circle cx="361.7" cy="270.7" r="3.0"/><circle cx="361.7" cy="265.5" r="3.0"/><circle cx="361.7" cy="260.4" r="3.0"/><circle cx="361.7" cy="255.2" r="3.0"/><circle cx="361.7" cy="250.0" r="3.0"/><circle cx="361.7" cy="244.9" r="3.0"/><circle cx="361.7" cy="239.7" r="3.0"/><circle cx="361.7" cy="234.5" r="3.0"/><circle cx="361.7" cy="229.3" r="3.0"/><circle cx="361.7" cy="224.2" r="3.0"/><circle cx="361.7" cy="219.0" r="3.0"/><circle cx="361.7" cy="213.8" r="3.0"/><circle cx="361.7" cy="208.7" r="3.0"/><circle cx="361.7" cy="203.5" r="3.0"/><circle cx="361.7" cy="198.3" r="3.0"/><circle cx="361.7" cy="193.1" r="3.0"/><circle cx="361.7" cy="188.0" r="3.0"/><circle cx="361.7" cy="182.8" r="3.0"/><circle cx="361.7" cy="177.6" r="3.0"/><circle cx="361.7" cy="172.5" r="3.0"/><circle cx="366.3" cy="291.4" r="3.0"/><circle cx="366.3" cy="286.2" r="3.0"/><circle cx="366.3" cy="281.1" r="3.0"/><circle cx="366.3" cy="275.9" r="3.0"/><circle cx="366.3" cy="270.7" r="3.0"/><circle cx="366.3" cy="265.5" r="3.0"/><circle cx="366.3" cy="260.4" r="3.0"/><circle cx="366.3" cy="255.2" r="3.0"/><circle cx="366.3" cy="250.0" r="3.0"/><circle cx="366.3" cy="244.9" r="3.0"/><circle cx="366.3" cy="239.7" r="3.0"/><circle cx="366.3" cy="234.5" r="3.0"/><circle cx="366.3" cy="229.3" r="3.0"/><circle cx="366.3" cy="224.2" r="3.0"/><circle cx="366.3" cy="219.0" r="3.0"/><circle cx="366.3" cy="213.8" r="3.0"/><circle cx="366.3" cy="208.7" r="3.0"/><circle cx="366.3" cy="203.5" r="3.0"/><circle cx="366.3" cy="198.3" r="3.0"/><circle cx="366.3" cy="193.1" r="3.0"/><circle cx="366.3" cy="188.0" r="3.0"/><circle cx="366.3" cy="182.8" r="3.0"/><circle cx="370.9" cy="296.6" r="3.0"/><circle cx="370.9" cy="291.4" r="3.0"/><circle cx="370.9" cy="286.2" r="3.0"/><circle cx="370.9" cy="281.1" r="3.0"/><circle cx="370.9" cy="275.9" r="3.0"/><circle cx="370.9" cy="270.7" r="3.0"/><circle cx="370.9" cy="265.5" r="3.0"/><circle cx="370.9" cy="260.4" r="3.0"/><circle cx="370.9" cy="255.2" r="3.0"/><circle cx="370.9" cy="250.0" r="3.0"/><circle cx="370.9" cy="244.9" r="3.0"/><circle cx="370.9" cy="239.7" r="3.0"/><circle cx="370.9" cy="234.5" r="3.0"/><circle cx="370.9" cy="229.3" r="3.0"/><circle cx="370.9" cy="224.2" r="3.0"/><circle cx="370.9" cy="219.0" r="3.0"/><circle cx="370.9" cy="213.8" r="3.0"/><circle cx="370.9" cy="208.7" r="3.0"/><circle cx="370.9" cy="203.5" r="3.0"/><circle cx="370.9" cy="198.3" r="3.0"/><circle cx="370.9" cy="193.1" r="3.0"/><circle cx="370.9" cy="188.0" r="3.0"/><circle cx="375.5" cy="301.7" r="3.0"/><circle cx="375.5" cy="296.6" r="3.0"/><circle cx="375.5" cy="291.4" r="3.0"/><circle cx="375.5" cy="286.2" r="3.0"/><circle cx="375.5" cy="281.1" r="3.0"/><circle cx="375.5" cy="275.9" r="3.0"/><circle cx="375.5" cy="270.7" r="3.0"/><circle cx="375.5" cy="265.5" r="3.0"/><circle cx="375.5" cy="260.4" r="3.0"/><circle cx="375.5" cy="255.2" r="3.0"/><circle cx="375.5" cy="250.0" r="3.0"/><circle cx="375.5" cy="244.9" r="3.0"/><circle cx="375.5" cy="239.7" r="3.0"/><circle cx="375.5" cy="234.5" r="3.0"/><circle cx="375.5" cy="229.3" r="3.0"/><circle cx="375.5" cy="224.2" r="3.0"/><circle cx="375.5" cy="219.0" r="3.0"/><circle cx="375.5" cy="213.8" r="3.0"/><circle cx="375.5" cy="208.7" r="3.0"/><circle cx="375.5" cy="203.5" r="3.0"/><circle cx="375.5" cy="198.3" r="3.0"/><circle cx="375.5" cy="193.1" r="3.0"/><circle cx="380.2" cy="306.9" r="3.0"/><circle cx="380.2" cy="301.7" r="3.0"/><circle cx="380.2" cy="296.6" r="3.0"/><circle cx="380.2" cy="291.4" r="3.0"/><circle cx="380.2" cy="286.2" r="3.0"/><circle cx="380.2" cy="281.1" r="3.0"/><circle cx="380.2" cy="275.9" r="3.0"/><circle cx="380.2" cy="270.7" r="3.0"/><circle cx="380.2" cy="265.5" r="3.0"/><circle cx="380.2" cy="260.4" r="3.0"/><circle cx="380.2" cy="255.2" r="3.0"/><circle cx="380.2" cy="250.0" r="3.0"/><circle cx="380.2" cy="244.9" r="3.0"/><circle cx="380.2" cy="239.7" r="3.0"/><circle cx="380.2" cy="234.5" r="3.0"/><circle cx="380.2" cy="229.3" r="3.0"/><circle cx="380.2" cy="224.2" r="3.0"/><circle cx="380.2" cy="219.0" r="3.0"/><circle cx="380.2" cy="213.8" r="3.0"/><circle cx="380.2" cy="208.7" r="3.0"/><circle cx="380.2" cy="203.5" r="3.0"/><circle cx="384.8" cy="312.1" r="3.0"/><circle cx="384.8" cy="306.9" r="3.0"/><circle cx="384.8" cy="301.7" r="3.0"/><circle cx="384.8" cy="296.6" r="3.0"/><circle cx="384.8" cy="291.4" r="3.0"/><circle cx="384.8" cy="286.2" r="3.0"/><circle cx="384.8" cy="281.1" r="3.0"/><circle cx="384.8" cy="275.9" r="3.0"/><circle cx="384.8" cy="270.7" r="3.0"/><circle cx="384.8" cy="265.5" r="3.0"/><circle cx="384.8" cy="260.4" r="3.0"/><circle cx="384.8" cy="255.2" r="3.0"/><circle cx="384.8" cy="250.0" r="3.0"/><circle cx="384.8" cy="244.9" r="3.0"/><circle cx="384.8" cy="239.7" r="3.0"/><circle cx="384.8" cy="234.5" r="3.0"/><circle cx="384.8" cy="229.3" r="3.0"/><circle cx="384.8" cy="224.2" r="3.0"/><circle cx="384.8" cy="219.0" r="3.0"/><circle cx="384.8" cy="213.8" r="3.0"/><circle cx="384.8" cy="208.7" r="3.0"/><circle cx="389.4" cy="317.3" r="3.0"/><circle cx="389.4" cy="312.1" r="3.0"/><circle cx="389.4" cy="306.9" r="3.0"/><circle cx="389.4" cy="301.7" r="3.0"/><circle cx="389.4" cy="296.6" r="3.0"/><circle cx="389.4" cy="291.4" r="3.0"/><circle cx="389.4" cy="286.2" r="3.0"/><circle cx="389.4" cy="281.1" r="3.0"/><circle cx="389.4" cy="275.9" r="3.0"/><circle cx="389.4" cy="270.7" r="3.0"/><circle cx="389.4" cy="265.5" r="3.0"/><circle cx="389.4" cy="260.4" r="3.0"/><circle cx="389.4" cy="255.2" r="3.0"/><circle cx="389.4" cy="250.0" r="3.0"/><circle cx="389.4" cy="244.9" r="3.0"/><circle cx="389.4" cy="239.7" r="3.0"/><circle cx="389.4" cy="234.5" r="3.0"/><circle cx="389.4" cy="229.3" r="3.0"/><circle cx="389.4" cy="224.2" r="3.0"/><circle cx="389.4" cy="219.0" r="3.0"/><circle cx="389.4" cy="213.8" r="3.0"/><circle cx="394.0" cy="322.4" r="3.0"/><circle cx="394.0" cy="317.3" r="3.0"/><circle cx="394.0" cy="312.1" r="3.0"/><circle cx="394.0" cy="306.9" r="3.0"/><circle cx="394.0" cy="301.7" r="3.0"/><circle cx="394.0" cy="296.6" r="3.0"/><circle cx="394.0" cy="291.4" r="3.0"/><circle cx="394.0" cy="286.2" r="3.0"/><circle cx="394.0" cy="281.1" r="3.0"/><circle cx="394.0" cy="275.9" r="3.0"/><circle cx="394.0" cy="270.7" r="3.0"/><circle cx="394.0" cy="265.5" r="3.0"/><circle cx="394.0" cy="260.4" r="3.0"/><circle cx="394.0" cy="255.2" r="3.0"/><circle cx="394.0" cy="250.0" r="3.0"/><circle cx="394.0" cy="244.9" r="3.0"/><circle cx="394.0" cy="239.7" r="3.0"/><circle cx="394.0" cy="234.5" r="3.0"/><circle cx="394.0" cy="229.3" r="3.0"/><circle cx="394.0" cy="224.2" r="3.0"/><circle cx="394.0" cy="219.0" r="3.0"/><circle cx="398.6" cy="327.6" r="3.0"/><circle cx="398.6" cy="322.4" r="3.0"/><circle cx="398.6" cy="317.3" r="3.0"/><circle cx="398.6" cy="312.1" r="3.0"/><circle cx="398.6" cy="306.9" r="3.0"/><circle cx="398.6" cy="301.7" r="3.0"/><circle cx="398.6" cy="296.6" r="3.0"/><circle cx="398.6" cy="291.4" r="3.0"/><circle cx="398.6" cy="286.2" r="3.0"/><circle cx="398.6" cy="281.1" r="3.0"/><circle cx="398.6" cy="275.9" r="3.0"/><circle cx="398.6" cy="270.7" r="3.0"/><circle cx="398.6" cy="265.5" r="3.0"/><circle cx="398.6" cy="260.4" r="3.0"/><circle cx="398.6" cy="255.2" r="3.0"/><circle cx="398.6" cy="250.0" r="3.0"/><circle cx="398.6" cy="244.9" r="3.0"/><circle cx="398.6" cy="239.7" r="3.0"/><circle cx="398.6" cy="234.5" r="3.0"/><circle cx="398.6" cy="229.3" r="3.0"/><circle cx="398.6" cy="224.2" r="3.0"/><circle cx="403.2" cy="332.8" r="3.0"/><circle cx="403.2" cy="327.6" r="3.0"/><circle cx="403.2" cy="322.4" r="3.0"/><circle cx="403.2" cy="317.3" r="3.0"/><circle cx="403.2" cy="312.1" r="3.0"/><circle cx="403.2" cy="306.9" r="3.0"/><circle cx="403.2" cy="301.7" r="3.0"/><circle cx="403.2" cy="296.6" r="3.0"/><circle cx="403.2" cy="291.4" r="3.0"/><circle cx="403.2" cy="286.2" r="3.0"/><circle cx="403.2" cy="281.1" r="3.0"/><circle cx="403.2" cy="275.9" r="3.0"/><circle cx="403.2" cy="270.7" r="3.0"/><circle cx="403.2" cy="265.5" r="3.0"/><circle cx="403.2" cy="260.4" r="3.0"/><circle cx="403.2" cy="255.2" r="3.0"/><circle cx="403.2" cy="250.0" r="3.0"/><circle cx="403.2" cy="244.9" r="3.0"/><circle cx="403.2" cy="239.7" r="3.0"/><circle cx="403.2" cy="234.5" r="3.0"/><circle cx="407.8" cy="337.9" r="3.0"/><circle cx="407.8" cy="332.8" r="3.0"/><circle cx="407.8" cy="327.6" r="3.0"/><circle cx="407.8" cy="322.4" r="3.0"/><circle cx="407.8" cy="317.3" r="3.0"/><circle cx="407.8" cy="312.1" r="3.0"/><circle cx="407.8" cy="306.9" r="3.0"/><circle cx="407.8" cy="301.7" r="3.0"/><circle cx="407.8" cy="296.6" r="3.0"/><circle cx="407.8" cy="291.4" r="3.0"/><circle cx="407.8" cy="286.2" r="3.0"/><circle cx="407.8" cy="281.1" r="3.0"/><circle cx="407.8" cy="275.9" r="3.0"/><circle cx="407.8" cy="270.7" r="3.0"/><circle cx="407.8" cy="265.5" r="3.0"/><circle cx="407.8" cy="260.4" r="3.0"/><circle cx="407.8" cy="255.2" r="3.0"/><circle cx="407.8" cy="250.0" r="3.0"/><circle cx="407.8" cy="244.9" r="3.0"/><circle cx="407.8" cy="239.7" r="3.0"/><circle cx="412.4" cy="343.1" r="3.0"/><circle cx="412.4" cy="337.9" r="3.0"/><circle cx="412.4" cy="332.8" r="3.0"/><circle cx="412.4" cy="327.6" r="3.0"/><circle cx="412.4" cy="322.4" r="3.0"/><circle cx="412.4" cy="317.3" r="3.0"/><circle cx="412.4" cy="312.1" r="3.0"/><circle cx="412.4" cy="306.9" r="3.0"/><circle cx="412.4" cy="301.7" r="3.0"/><circle cx="412.4" cy="296.6" r="3.0"/><circle cx="412.4" cy="291.4" r="3.0"/><circle cx="412.4" cy="286.2" r="3.0"/><circle cx="412.4" cy="281.1" r="3.0"/><circle cx="412.4" cy="275.9" r="3.0"/><circle cx="412.4" cy="270.7" r="3.0"/><circle cx="412.4" cy="265.5" r="3.0"/><circle cx="412.4" cy="260.4" r="3.0"/><circle cx="412.4" cy="255.2" r="3.0"/><circle cx="412.4" cy="250.0" r="3.0"/><circle cx="412.4" cy="244.9" r="3.0"/><circle cx="417.0" cy="343.1" r="3.0"/><circle cx="417.0" cy="337.9" r="3.0"/><circle cx="417.0" cy="332.8" r="3.0"/><circle cx="417.0" cy="327.6" r="3.0"/><circle cx="417.0" cy="322.4" r="3.0"/><circle cx="417.0" cy="317.3" r="3.0"/><circle cx="417.0" cy="312.1" r="3.0"/><circle cx="417.0" cy="306.9" r="3.0"/><circle cx="417.0" cy="301.7" r="3.0"/><circle cx="417.0" cy="296.6" r="3.0"/><circle cx="417.0" cy="291.4" r="3.0"/><circle cx="417.0" cy="286.2" r="3.0"/><circle cx="417.0" cy="281.1" r="3.0"/><circle cx="417.0" cy="275.9" r="3.0"/><circle cx="417.0" cy="270.7" r="3.0"/><circle cx="417.0" cy="265.5" r="3.0"/><circle cx="417.0" cy="260.4" r="3.0"/><circle cx="417.0" cy="255.2" r="3.0"/><circle cx="417.0" cy="250.0" r="3.0"/><circle cx="421.7" cy="348.3" r="3.0"/><circle cx="421.7" cy="343.1" r="3.0"/><circle cx="421.7" cy="337.9" r="3.0"/><circle cx="421.7" cy="332.8" r="3.0"/><circle cx="421.7" cy="327.6" r="3.0"/><circle cx="421.7" cy="322.4" r="3.0"/><circle cx="421.7" cy="317.3" r="3.0"/><circle cx="421.7" cy="312.1" r="3.0"/><circle cx="421.7" cy="306.9" r="3.0"/><circle cx="421.7" cy="301.7" r="3.0"/><circle cx="421.7" cy="296.6" r="3.0"/><circle cx="421.7" cy="291.4" r="3.0"/><circle cx="421.7" cy="286.2" r="3.0"/><circle cx="421.7" cy="281.1" r="3.0"/><circle cx="421.7" cy="275.9" r="3.0"/><circle cx="421.7" cy="270.7" r="3.0"/><circle cx="421.7" cy="265.5" r="3.0"/><circle cx="421.7" cy="260.4" r="3.0"/><circle cx="421.7" cy="255.2" r="3.0"/><circle cx="426.3" cy="353.5" r="3.0"/><circle cx="426.3" cy="348.3" r="3.0"/><circle cx="426.3" cy="343.1" r="3.0"/><circle cx="426.3" cy="337.9" r="3.0"/><circle cx="426.3" cy="332.8" r="3.0"/><circle cx="426.3" cy="327.6" r="3.0"/><circle cx="426.3" cy="322.4" r="3.0"/><circle cx="426.3" cy="317.3" r="3.0"/><circle cx="426.3" cy="312.1" r="3.0"/><circle cx="426.3" cy="306.9" r="3.0"/><circle cx="426.3" cy="301.7" r="3.0"/><circle cx="426.3" cy="296.6" r="3.0"/><circle cx="426.3" cy="291.4" r="3.0"/><circle cx="426.3" cy="286.2" r="3.0"/><circle cx="426.3" cy="281.1" r="3.0"/><circle cx="426.3" cy="275.9" r="3.0"/><circle cx="426.3" cy="270.7" r="3.0"/><circle cx="426.3" cy="265.5" r="3.0"/><circle cx="426.3" cy="260.4" r="3.0"/><circle cx="430.9" cy="358.6" r="3.0"/><circle cx="430.9" cy="353.5" r="3.0"/><circle cx="430.9" cy="348.3" r="3.0"/><circle cx="430.9" cy="343.1" r="3.0"/><circle cx="430.9" cy="337.9" r="3.0"/><circle cx="430.9" cy="332.8" r="3.0"/><circle cx="430.9" cy="327.6" r="3.0"/><circle cx="430.9" cy="322.4" r="3.0"/><circle cx="430.9" cy="317.3" r="3.0"/><circle cx="430.9" cy="312.1" r="3.0"/><circle cx="430.9" cy="306.9" r="3.0"/><circle cx="430.9" cy="301.7" r="3.0"/><circle cx="430.9" cy="296.6" r="3.0"/><circle cx="430.9" cy="291.4" r="3.0"/><circle cx="430.9" cy="286.2" r="3.0"/><circle cx="430.9" cy="281.1" r="3.0"/><circle cx="430.9" cy="275.9" r="3.0"/><circle cx="430.9" cy="270.7" r="3.0"/><circle cx="430.9" cy="265.5" r="3.0"/><circle cx="435.5" cy="358.6" r="3.0"/><circle cx="435.5" cy="353.5" r="3.0"/><circle cx="435.5" cy="348.3" r="3.0"/><circle cx="435.5" cy="343.1" r="3.0"/><circle cx="435.5" cy="337.9" r="3.0"/><circle cx="435.5" cy="332.8" r="3.0"/><circle cx="435.5" cy="327.6" r="3.0"/><circle cx="435.5" cy="322.4" r="3.0"/><circle cx="435.5" cy="317.3" r="3.0"/><circle cx="435.5" cy="312.1" r="3.0"/><circle cx="435.5" cy="306.9" r="3.0"/><circle cx="435.5" cy="301.7" r="3.0"/><circle cx="435.5" cy="296.6" r="3.0"/><circle cx="435.5" cy="291.4" r="3.0"/><circle cx="435.5" cy="286.2" r="3.0"/><circle cx="435.5" cy="281.1" r="3.0"/><circle cx="435.5" cy="275.9" r="3.0"/><circle cx="435.5" cy="270.7" r="3.0"/><circle cx="440.1" cy="363.8" r="3.0"/><circle cx="440.1" cy="358.6" r="3.0"/><circle cx="440.1" cy="353.5" r="3.0"/><circle cx="440.1" cy="348.3" r="3.0"/><circle cx="440.1" cy="343.1" r="3.0"/><circle cx="440.1" cy="337.9" r="3.0"/><circle cx="440.1" cy="332.8" r="3.0"/><circle cx="440.1" cy="327.6" r="3.0"/><circle cx="440.1" cy="322.4" r="3.0"/><circle cx="440.1" cy="317.3" r="3.0"/><circle cx="440.1" cy="312.1" r="3.0"/><circle cx="440.1" cy="306.9" r="3.0"/><circle cx="440.1" cy="301.7" r="3.0"/><circle cx="440.1" cy="296.6" r="3.0"/><circle cx="440.1" cy="291.4" r="3.0"/><circle cx="440.1" cy="286.2" r="3.0"/><circle cx="440.1" cy="281.1" r="3.0"/><circle cx="440.1" cy="275.9" r="3.0"/><circle cx="444.7" cy="369.0" r="3.0"/><circle cx="444.7" cy="363.8" r="3.0"/><circle cx="444.7" cy="358.6" r="3.0"/><circle cx="444.7" cy="353.5" r="3.0"/><circle cx="444.7" cy="348.3" r="3.0"/><circle cx="444.7" cy="343.1" r="3.0"/><circle cx="444.7" cy="337.9" r="3.0"/><circle cx="444.7" cy="332.8" r="3.0"/><circle cx="444.7" cy="327.6" r="3.0"/><circle cx="444.7" cy="322.4" r="3.0"/><circle cx="444.7" cy="317.3" r="3.0"/><circle cx="444.7" cy="312.1" r="3.0"/><circle cx="444.7" cy="306.9" r="3.0"/><circle cx="444.7" cy="301.7" r="3.0"/><circle cx="444.7" cy="296.6" r="3.0"/><circle cx="444.7" cy="291.4" r="3.0"/><circle cx="444.7" cy="286.2" r="3.0"/><circle cx="444.7" cy="281.1" r="3.0"/><circle cx="449.3" cy="369.0" r="3.0"/><circle cx="449.3" cy="363.8" r="3.0"/><circle cx="449.3" cy="358.6" r="3.0"/><circle cx="449.3" cy="353.5" r="3.0"/><circle cx="449.3" cy="348.3" r="3.0"/><circle cx="449.3" cy="343.1" r="3.0"/><circle cx="449.3" cy="337.9" r="3.0"/><circle cx="449.3" cy="332.8" r="3.0"/><circle cx="449.3" cy="327.6" r="3.0"/><circle cx="449.3" cy="322.4" r="3.0"/><circle cx="449.3" cy="317.3" r="3.0"/><circle cx="449.3" cy="312.1" r="3.0"/><circle cx="449.3" cy="306.9" r="3.0"/><circle cx="449.3" cy="301.7" r="3.0"/><circle cx="449.3" cy="296.6" r="3.0"/><circle cx="449.3" cy="291.4" r="3.0"/><circle cx="449.3" cy="286.2" r="3.0"/><circle cx="453.9" cy="374.1" r="3.0"/><circle cx="453.9" cy="369.0" r="3.0"/><circle cx="453.9" cy="363.8" r="3.0"/><circle cx="453.9" cy="358.6" r="3.0"/><circle cx="453.9" cy="353.5" r="3.0"/><circle cx="453.9" cy="348.3" r="3.0"/><circle cx="453.9" cy="343.1" r="3.0"/><circle cx="453.9" cy="337.9" r="3.0"/><circle cx="453.9" cy="332.8" r="3.0"/><circle cx="453.9" cy="327.6" r="3.0"/><circle cx="453.9" cy="322.4" r="3.0"/><circle cx="453.9" cy="317.3" r="3.0"/><circle cx="453.9" cy="312.1" r="3.0"/><circle cx="453.9" cy="306.9" r="3.0"/><circle cx="453.9" cy="301.7" r="3.0"/><circle cx="453.9" cy="296.6" r="3.0"/><circle cx="453.9" cy="291.4" r="3.0"/><circle cx="458.6" cy="379.3" r="3.0"/><circle cx="458.6" cy="374.1" r="3.0"/><circle cx="458.6" cy="369.0" r="3.0"/><circle cx="458.6" cy="363.8" r="3.0"/><circle cx="458.6" cy="358.6" r="3.0"/><circle cx="458.6" cy="353.5" r="3.0"/><circle cx="458.6" cy="348.3" r="3.0"/><circle cx="458.6" cy="343.1" r="3.0"/><circle cx="458.6" cy="337.9" r="3.0"/><circle cx="458.6" cy="332.8" r="3.0"/><circle cx="458.6" cy="327.6" r="3.0"/><circle cx="458.6" cy="322.4" r="3.0"/><circle cx="458.6" cy="317.3" r="3.0"/><circle cx="458.6" cy="312.1" r="3.0"/><circle cx="458.6" cy="306.9" r="3.0"/><circle cx="458.6" cy="301.7" r="3.0"/><circle cx="458.6" cy="296.6" r="3.0"/><circle cx="463.2" cy="379.3" r="3.0"/><circle cx="463.2" cy="374.1" r="3.0"/><circle cx="463.2" cy="369.0" r="3.0"/><circle cx="463.2" cy="363.8" r="3.0"/><circle cx="463.2" cy="358.6" r="3.0"/><circle cx="463.2" cy="353.5" r="3.0"/><circle cx="463.2" cy="348.3" r="3.0"/><circle cx="463.2" cy="343.1" r="3.0"/><circle cx="463.2" cy="337.9" r="3.0"/><circle cx="463.2" cy="332.8" r="3.0"/><circle cx="463.2" cy="327.6" r="3.0"/><circle cx="463.2" cy="322.4" r="3.0"/><circle cx="463.2" cy="317.3" r="3.0"/><circle cx="463.2" cy="312.1" r="3.0"/><circle cx="463.2" cy="306.9" r="3.0"/><circle cx="463.2" cy="301.7" r="3.0"/><circle cx="463.2" cy="296.6" r="3.0"/><circle cx="467.8" cy="384.5" r="3.0"/><circle cx="467.8" cy="379.3" r="3.0"/><circle cx="467.8" cy="374.1" r="3.0"/><circle cx="467.8" cy="369.0" r="3.0"/><circle cx="467.8" cy="363.8" r="3.0"/><circle cx="467.8" cy="358.6" r="3.0"/><circle cx="467.8" cy="353.5" r="3.0"/><circle cx="467.8" cy="348.3" r="3.0"/><circle cx="467.8" cy="343.1" r="3.0"/><circle cx="467.8" cy="337.9" r="3.0"/><circle cx="467.8" cy="332.8" r="3.0"/><circle cx="467.8" cy="327.6" r="3.0"/><circle cx="467.8" cy="322.4" r="3.0"/><circle cx="467.8" cy="317.3" r="3.0"/><circle cx="467.8" cy="312.1" r="3.0"/><circle cx="467.8" cy="306.9" r="3.0"/><circle cx="467.8" cy="301.7" r="3.0"/><circle cx="472.4" cy="384.5" r="3.0"/><circle cx="472.4" cy="379.3" r="3.0"/><circle cx="472.4" cy="374.1" r="3.0"/><circle cx="472.4" cy="369.0" r="3.0"/><circle cx="472.4" cy="363.8" r="3.0"/><circle cx="472.4" cy="358.6" r="3.0"/><circle cx="472.4" cy="353.5" r="3.0"/><circle cx="472.4" cy="348.3" r="3.0"/><circle cx="472.4" cy="343.1" r="3.0"/><circle cx="472.4" cy="337.9" r="3.0"/><circle cx="472.4" cy="332.8" r="3.0"/><circle cx="472.4" cy="327.6" r="3.0"/><circle cx="472.4" cy="322.4" r="3.0"/><circle cx="472.4" cy="317.3" r="3.0"/><circle cx="472.4" cy="312.1" r="3.0"/><circle cx="472.4" cy="306.9" r="3.0"/><circle cx="477.0" cy="389.7" r="3.0"/><circle cx="477.0" cy="384.5" r="3.0"/><circle cx="477.0" cy="379.3" r="3.0"/><circle cx="477.0" cy="374.1" r="3.0"/><circle cx="477.0" cy="369.0" r="3.0"/><circle cx="477.0" cy="363.8" r="3.0"/><circle cx="477.0" cy="358.6" r="3.0"/><circle cx="477.0" cy="353.5" r="3.0"/><circle cx="477.0" cy="348.3" r="3.0"/><circle cx="477.0" cy="343.1" r="3.0"/><circle cx="477.0" cy="337.9" r="3.0"/><circle cx="477.0" cy="332.8" r="3.0"/><circle cx="477.0" cy="327.6" r="3.0"/><circle cx="477.0" cy="322.4" r="3.0"/><circle cx="477.0" cy="317.3" r="3.0"/><circle cx="477.0" cy="312.1" r="3.0"/><circle cx="481.6" cy="394.8" r="3.0"/><circle cx="481.6" cy="389.7" r="3.0"/><circle cx="481.6" cy="384.5" r="3.0"/><circle cx="481.6" cy="379.3" r="3.0"/><circle cx="481.6" cy="374.1" r="3.0"/><circle cx="481.6" cy="369.0" r="3.0"/><circle cx="481.6" cy="363.8" r="3.0"/><circle cx="481.6" cy="358.6" r="3.0"/><circle cx="481.6" cy="353.5" r="3.0"/><circle cx="481.6" cy="348.3" r="3.0"/><circle cx="481.6" cy="343.1" r="3.0"/><circle cx="481.6" cy="337.9" r="3.0"/><circle cx="481.6" cy="332.8" r="3.0"/><circle cx="481.6" cy="327.6" r="3.0"/><circle cx="481.6" cy="322.4" r="3.0"/><circle cx="481.6" cy="317.3" r="3.0"/><circle cx="486.2" cy="394.8" r="3.0"/><circle cx="486.2" cy="389.7" r="3.0"/><circle cx="486.2" cy="384.5" r="3.0"/><circle cx="486.2" cy="379.3" r="3.0"/><circle cx="486.2" cy="374.1" r="3.0"/><circle cx="486.2" cy="369.0" r="3.0"/><circle cx="486.2" cy="363.8" r="3.0"/><circle cx="486.2" cy="358.6" r="3.0"/><circle cx="486.2" cy="353.5" r="3.0"/><circle cx="486.2" cy="348.3" r="3.0"/><circle cx="486.2" cy="343.1" r="3.0"/><circle cx="486.2" cy="337.9" r="3.0"/><circle cx="486.2" cy="332.8" r="3.0"/><circle cx="486.2" cy="327.6" r="3.0"/><circle cx="486.2" cy="322.4" r="3.0"/><circle cx="486.2" cy="317.3" r="3.0"/><circle cx="490.8" cy="400.0" r="3.0"/><circle cx="490.8" cy="394.8" r="3.0"/><circle cx="490.8" cy="389.7" r="3.0"/><circle cx="490.8" cy="384.5" r="3.0"/><circle cx="490.8" cy="379.3" r="3.0"/><circle cx="490.8" cy="374.1" r="3.0"/><circle cx="490.8" cy="369.0" r="3.0"/><circle cx="490.8" cy="363.8" r="3.0"/><circle cx="490.8" cy="358.6" r="3.0"/><circle cx="490.8" cy="353.5" r="3.0"/><circle cx="490.8" cy="348.3" r="3.0"/><circle cx="490.8" cy="343.1" r="3.0"/><circle cx="490.8" cy="337.9" r="3.0"/><circle cx="490.8" cy="332.8" r="3.0"/><circle cx="490.8" cy="327.6" r="3.0"/><circle cx="490.8" cy="322.4" r="3.0"/><circle cx="495.5" cy="400.0" r="3.0"/><circle cx="495.5" cy="394.8" r="3.0"/><circle cx="495.5" cy="389.7" r="3.0"/><circle cx="495.5" cy="384.5" r="3.0"/><circle cx="495.5" cy="379.3" r="3.0"/><circle cx="495.5" cy="374.1" r="3.0"/><circle cx="495.5" cy="369.0" r="3.0"/><circle cx="495.5" cy="363.8" r="3.0"/><circle cx="495.5" cy="358.6" r="3.0"/><circle cx="495.5" cy="353.5" r="3.0"/><circle cx="495.5" cy="348.3" r="3.0"/><circle cx="495.5" cy="343.1" r="3.0"/><circle cx="495.5" cy="337.9" r="3.0"/><circle cx="495.5" cy="332.8" r="3.0"/><circle cx="495.5" cy="327.6" r="3.0"/><circle cx="500.1" cy="400.0" r="3.0"/><circle cx="500.1" cy="394.8" r="3.0"/><circle cx="500.1" cy="389.7" r="3.0"/><circle cx="500.1" cy="384.5" r="3.0"/><circle cx="500.1" cy="379.3" r="3.0"/><circle cx="500.1" cy="374.1" r="3.0"/><circle cx="500.1" cy="369.0" r="3.0"/><circle cx="500.1" cy="363.8" r="3.0"/><circle cx="500.1" cy="358.6" r="3.0"/><circle cx="500.1" cy="353.5" r="3.0"/><circle cx="500.1" cy="348.3" r="3.0"/><circle cx="500.1" cy="343.1" r="3.0"/><circle cx="500.1" cy="337.9" r="3.0"/><circle cx="500.1" cy="332.8" r="3.0"/><circle cx="500.1" cy="327.6" r="3.0"/><circle cx="504.7" cy="400.0" r="3.0"/><circle cx="504.7" cy="394.8" r="3.0"/><circle cx="504.7" cy="389.7" r="3.0"/><circle cx="504.7" cy="384.5" r="3.0"/><circle cx="504.7" cy="379.3" r="3.0"/><circle cx="504.7" cy="374.1" r="3.0"/><circle cx="504.7" cy="369.0" r="3.0"/><circle cx="504.7" cy="363.8" r="3.0"/><circle cx="504.7" cy="358.6" r="3.0"/><circle cx="504.7" cy="353.5" r="3.0"/><circle cx="504.7" cy="348.3" r="3.0"/><circle cx="504.7" cy="343.1" r="3.0"/><circle cx="504.7" cy="337.9" r="3.0"/><circle cx="504.7" cy="332.8" r="3.0"/><circle cx="509.3" cy="400.0" r="3.0"/><circle cx="509.3" cy="394.8" r="3.0"/><circle cx="509.3" cy="389.7" r="3.0"/><circle cx="509.3" cy="384.5" r="3.0"/><circle cx="509.3" cy="379.3" r="3.0"/><circle cx="509.3" cy="374.1" r="3.0"/><circle cx="509.3" cy="369.0" r="3.0"/><circle cx="509.3" cy="363.8" r="3.0"/><circle cx="509.3" cy="358.6" r="3.0"/><circle cx="509.3" cy="353.5" r="3.0"/><circle cx="509.3" cy="348.3" r="3.0"/><circle cx="509.3" cy="343.1" r="3.0"/><circle cx="509.3" cy="337.9" r="3.0"/><circle cx="513.9" cy="400.0" r="3.0"/><circle cx="513.9" cy="394.8" r="3.0"/><circle cx="513.9" cy="389.7" r="3.0"/><circle cx="513.9" cy="384.5" r="3.0"/><circle cx="513.9" cy="379.3" r="3.0"/><circle cx="513.9" cy="374.1" r="3.0"/><circle cx="513.9" cy="369.0" r="3.0"/><circle cx="513.9" cy="363.8" r="3.0"/><circle cx="513.9" cy="358.6" r="3.0"/><circle cx="513.9" cy="353.5" r="3.0"/><circle cx="513.9" cy="348.3" r="3.0"/><circle cx="513.9" cy="343.1" r="3.0"/><circle cx="513.9" cy="337.9" r="3.0"/></g>
<g fill="#e61c08" fill-opacity="0.15"><circle cx="334.0" cy="43.2" r="3.0"/><circle cx="334.0" cy="38.0" r="3.0"/><circle cx="338.6" cy="58.7" r="3.0"/><circle cx="338.6" cy="53.5" r="3.0"/><circle cx="338.6" cy="48.3" r="3.0"/><circle cx="338.6" cy="43.2" r="3.0"/><circle cx="338.6" cy="38.0" r="3.0"/><circle cx="343.3" cy="69.0" r="3.0"/><circle cx="343.3" cy="63.9" r="3.0"/><circle cx="343.3" cy="58.7" r="3.0"/><circle cx="343.3" cy="53.5" r="3.0"/><circle cx="343.3" cy="48.3" r="3.0"/><circle cx="343.3" cy="43.2" r="3.0"/><circle cx="343.3" cy="38.0" r="3.0"/><circle cx="347.9" cy="84.5" r="3.0"/><circle cx="347.9" cy="79.4" r="3.0"/><circle cx="347.9" cy="74.2" r="3.0"/><circle cx="347.9" cy="69.0" r="3.0"/><circle cx="347.9" cy="63.9" r="3.0"/><circle cx="347.9" cy="58.7" r="3.0"/><circle cx="347.9" cy="53.5" r="3.0"/><circle cx="347.9" cy="48.3" r="3.0"/><circle cx="347.9" cy="43.2" r="3.0"/><circle cx="347.9" cy="38.0" r="3.0"/><circle cx="352.5" cy="94.9" r="3.0"/><circle cx="352.5" cy="89.7" r="3.0"/><circle cx="352.5" cy="84.5" r="3.0"/><circle cx="352.5" cy="79.4" r="3.0"/><circle cx="352.5" cy="74.2" r="3.0"/><circle cx="352.5" cy="69.0" r="3.0"/><circle cx="352.5" cy="63.9" r="3.0"/><circle cx="352.5" cy="58.7" r="3.0"/><circle cx="352.5" cy="53.5" r="3.0"/><circle cx="352.5" cy="48.3" r="3.0"/><circle cx="352.5" cy="43.2" r="3.0"/><circle cx="352.5" cy="38.0" r="3.0"/><circle cx="357.1" cy="105.2" r="3.0"/><circle cx="357.1" cy="100.1" r="3.0"/><circle cx="357.1" cy="94.9" r="3.0"/><circle cx="357.1" cy="89.7" r="3.0"/><circle cx="357.1" cy="84.5" r="3.0"/><circle cx="357.1" cy="79.4" r="3.0"/><circle cx="357.1" cy="74.2" r="3.0"/><circle cx="357.1" cy="69.0" r="3.0"/><circle cx="357.1" cy="63.9" r="3.0"/><circle cx="357.1" cy="58.7" r="3.0"/><circle cx="357.1" cy="53.5" r="3.0"/><circle cx="357.1" cy="48.3" r="3.0"/><circle cx="357.1" cy="43.2" r="3.0"/><circle cx="357.1" cy="38.0" r="3.0"/><circle cx="361.7" cy="110.4" r="3.0"/><circle cx="361.7" cy="105.2" r="3.0"/><circle cx="361.7" cy="100.1" r="3.0"/><circle cx="361.7" cy="94.9" r="3.0"/><circle cx="361.7" cy="89.7" r="3.0"/><circle cx="361.7" cy="84.5" r="3.0"/><circle cx="361.7" cy="79.4" r="3.0"/><circle cx="361.7" cy="74.2" r="3.0"/><circle cx="361.7" cy="69.0" r="3.0"/><circle cx="361.7" cy="63.9" r="3.0"/><circle cx="361.7" cy="58.7" r="3.0"/><circle cx="361.7" cy="53.5" r="3.0"/><circle cx="361.7" cy="48.3" r="3.0"/><circle cx="361.7" cy="43.2" r="3.0"/><circle cx="361.7" cy="38.0" r="3.0"/><circle cx="366.3" cy="120.7" r="3.0"/><circle cx="366.3" cy="115.6" r="3.0"/><circle cx="366.3" cy="110.4" r="3.0"/><circle cx="366.3" cy="105.2" r="3.0"/><circle cx="366.3" cy="100.1" r="3.0"/><circle cx="366.3" cy="94.9" r="3.0"/><circle cx="366.3" cy="89.7" r="3.0"/><circle cx="366.3" cy="84.5" r="3.0"/><circle cx="366.3" cy="79.4" r="3.0"/><circle cx="366.3" cy="74.2" r="3.0"/><circle cx="366.3" cy="69.0" r="3.0"/><circle cx="366.3" cy="63.9" r="3.0"/><circle cx="366.3" cy="58.7" r="3.0"/><circle cx="366.3" cy="53.5" r="3.0"/><circle cx="366.3" cy="48.3" r="3.0"/><circle cx="366.3" cy="43.2" r="3.0"/><circle cx="366.3" cy="38.0" r="3.0"/><circle cx="370.9" cy="125.9" r="3.0"/><circle cx="370.9" cy="120.7" r="3.0"/><circle cx="370.9" cy="115.6" r="3.0"/><circle cx="370.9" cy="110.4" r="3.0"/><circle cx="370.9" cy="105.2" r="3.0"/><circle cx="370.9" cy="100.1" r="3.0"/><circle cx="370.9" cy="94.9" r="3.0"/><circle cx="370.9" cy="89.7" r="3.0"/><circle cx="370.9" cy="84.5" r="3.0"/><circle cx="370.9" cy="79.4" r="3.0"/><circle cx="370.9" cy="74.2" r="3.0"/><circle cx="370.9" cy="69.0" r="3.0"/><circle cx="370.9" cy="63.9" r="3.0"/><circle cx="370.9" cy="58.7" r="3.0"/><circle cx="370.9" cy="53.5" r="3.0"/><circle cx="370.9" cy="48.3" r="3.0"/><circle cx="370.9" cy="43.2" r="3.0"/><circle cx="370.9" cy="38.0" r="3.0"/><circle cx="375.5" cy="136.3" r="3.0"/><circle cx="375.5" cy="131.1" r="3.0"/><circle cx="375.5" cy="125.9" r="3.0"/><circle cx="375.5" cy="120.7" r="3.0"/><circle cx="375.5" cy="115.6" r="3.0"/><circle cx="375.5" cy="110.4" r="3.0"/><circle cx="375.5" cy="105.2" r="3.0"/><circle cx="375.5" cy="100.1" r="3.0"/><circle cx="375.5" cy="94.9" r="3.0"/><circle cx="375.5" cy="89.7" r="3.0"/><circle cx="375.5" cy="84.5" r="3.0"/><circle cx="375.5" cy="79.4" r="3.0"/><circle cx="375.5" cy="74.2" r="3.0"/><circle cx="375.5" cy="69.0" r="3.0"/><circle cx="375.5" cy="63.9" r="3.0"/><circle cx="375.5" cy="58.7" r="3.0"/><circle cx="375.5" cy="53.5" r="3.0"/><circle cx="375.5" cy="48.3" r="3.0"/><circle cx="375.5" cy="43.2" r="3.0"/><circle cx="375.5" cy="38.0" r="3.0"/><circle cx="380.2" cy="141.4" r="3.0"/><circle cx="380.2" cy="136.3" r="3.0"/><circle cx="380.2" cy="131.1" r="3.0"/><circle cx="380.2" cy="125.9" r="3.0"/><circle cx="380.2" cy="120.7" r="3.0"/><circle cx="380.2" cy="115.6" r="3.0"/><circle cx="380.2" cy="110.4" r="3.0"/><circle cx="380.2" cy="105.2" r="3.0"/><circle cx="380.2" cy="100.1" r="3.0"/><circle cx="380.2" cy="94.9" r="3.0"/><circle cx="380.2" cy="89.7" r="3.0"/><circle cx="380.2" cy="84.5" r="3.0"/><circle cx="380.2" cy="79.4" r="3.0"/><circle cx="380.2" cy="74.2" r="3.0"/><circle cx="380.2" cy="69.0" r="3.0"/><circle cx="380.2" cy="63.9" r="3.0"/><circle cx="380.2" cy="58.7" r="3.0"/><circle cx="380.2" cy="53.5" r="3.0"/><circle cx="380.2" cy="48.3" r="3.0"/><circle cx="380.2" cy="43.2" r="3.0"/><circle cx="380.2" cy="38.0" r="3.0"/><circle cx="384.8" cy="151.8" r="3.0"/><circle cx="384.8" cy="146.6" r="3.0"/><circle cx="384.8" cy="141.4" r="3.0"/><circle cx="384.8" cy="136.3" r="3.0"/><circle cx="384.8" cy="131.1" r="3.0"/><circle cx="384.8" cy="125.9" r="3.0"/><circle cx="384.8" cy="120.7" r="3.0"/><circle cx="384.8" cy="115.6" r="3.0"/><circle cx="384.8" cy="110.4" r="3.0"/><circle cx="384.8" cy="105.2" r="3.0"/><circle cx="384.8" cy="100.1" r="3.0"/><circle cx="384.8" cy="94.9" r="3.0"/><circle cx="384.8" cy="89.7" r="3.0"/><circle cx="384.8" cy="84.5" r="3.0"/><circle cx="384.8" cy="79.4" r="3.0"/><circle cx="384.8" cy="74.2" r="3.0"/><circle cx="384.8" cy="69.0" r="3.0"/><circle cx="384.8" cy="63.9" r="3.0"/><circle cx="384.8" cy="58.7" r="3.0"/><circle cx="384.8" cy="53.5" r="3.0"/><circle cx="384.8" cy="48.3" r="3.0"/><circle cx="384.8" cy="43.2" r="3.0"/><circle cx="384.8" cy="38.0" r="3.0"/><circle cx="389.4" cy="156.9" r="3.0"/><circle cx="389.4" cy="151.8" r="3.0"/><circle cx="389.4" cy="146.6" r="3.0"/><circle cx="389.4" cy="141.4" r="3.0"/><circle cx="389.4" cy="136.3" r="3.0"/><circle cx="389.4" cy="131.1" r="3.0"/><circle cx="389.4" cy="125.9" r="3.0"/><circle cx="389.4" cy="120.7" r="3.0"/><circle cx="389.4" cy="115.6" r="3.0"/><circle cx="389.4" cy="110.4" r="3.0"/><circle cx="389.4" cy="105.2" r="3.0"/><circle cx="389.4" cy="100.1" r="3.0"/><circle cx="389.4" cy="94.9" r="3.0"/><circle cx="389.4" cy="89.7" r="3.0"/><circle cx="389.4" cy="84.5" r="3.0"/><circle cx="389.4" cy="79.4" r="3.0"/><circle cx="389.4" cy="74.2" r="3.0"/><circle cx="389.4" cy="69.0" r="3.0"/><circle cx="389.4" cy="63.9" r="3.0"/><circle cx="389.4" cy="58.7" r="3.0"/><circle cx="389.4" cy="53.5" r="3.0"/><circle cx="389.4" cy="48.3" r="3.0"/><circle cx="389.4" cy="43.2" r="3.0"/><circle cx="389.4" cy="38.0" r="3.0"/><circle cx="394.0" cy="162.1" r="3.0"/><circle cx="394.0" cy="156.9" r="3.0"/><circle cx="394.0" cy="151.8" r="3.0"/><circle cx="394.0" cy="146.6" r="3.0"/><circle cx="394.0" cy="141.4" r="3.0"/><circle cx="394.0" cy="136.3" r="3.0"/><circle cx="394.0" cy="131.1" r="3.0"/><circle cx="394.0" cy="125.9" r="3.0"/><circle cx="394.0" cy="120.7" r="3.0"/><circle cx="394.0" cy="115.6" r="3.0"/><circle cx="394.0" cy="110.4" r="3.0"/><circle cx="394.0" cy="105.2" r="3.0"/><circle cx="394.0" cy="100.1" r="3.0"/><circle cx="394.0" cy="94.9" r="3.0"/><circle cx="394.0" cy="89.7" r="3.0"/><circle cx="394.0" cy="84.5" r="3.0"/><circle cx="394.0" cy="79.4" r="3.0"/><circle cx="394.0" cy="74.2" r="3.0"/><circle cx="394.0" cy="69.0" r="3.0"/><circle cx="394.0" cy="63.9" r="3.0"/><circle cx="394.0" cy="58.7" r="3.0"/><circle cx="394.0" cy="53.5" r="3.0"/><circle cx="394.0" cy="48.3" r="3.0"/><circle cx="394.0" cy="43.2" r="3.0"/><circle cx="394.0" cy="38.0" r="3.0"/><circle cx="398.6" cy="172.5" r="3.0"/><circle cx="398.6" cy="167.3" r="3.0"/><circle cx="398.6" cy="162.1" r="3.0"/><circle cx="398.6" cy="156.9" r="3.0"/><circle cx="398.6" cy="151.8" r="3.0"/><circle cx="398.6" cy="146.6" r="3.0"/><circle cx="398.6" cy="141.4" r="3.0"/><circle cx="398.6" cy="136.3" r="3.0"/><circle cx="398.6" cy="131.1" r="3.0"/><circle cx="398.6" cy="125.9" r="3.0"/><circle cx="398.6" cy="120.7" r="3.0"/><circle cx="398.6" cy="115.6" r="3.0"/><circle cx="398.6" cy="110.4" r="3.0"/><circle cx="398.6" cy="105.2" r="3.0"/><circle cx="398.6" cy="100.1" r="3.0"/><circle cx="398.6" cy="94.9" r="3.0"/><circle cx="398.6" cy="89.7" r="3.0"/><circle cx="398.6" cy="84.5" r="3.0"/><circle cx="398.6" cy="79.4" r="3.0"/><circle cx="398.6" cy="74.2" r="3.0"/><circle cx="398.6" cy="69.0" r="3.0"/><circle cx="398.6" cy="63.9" r="3.0"/><circle cx="398.6" cy="58.7" r="3.0"/><circle cx="398.6" cy="53.5" r="3.0"/><circle cx="398.6" cy="48.3" r="3.0"/><circle cx="398.6" cy="43.2" r="3.0"/><circle cx="398.6" cy="38.0" r="3.0"/><circle cx="403.2" cy="177.6" r="3.0"/><circle cx="403.2" cy="172.5" r="3.0"/><circle cx="403.2" cy="167.3" r="3.0"/><circle cx="403.2" cy="162.1" r="3.0"/><circle cx="403.2" cy="156.9" r="3.0"/><circle cx="403.2" cy="151.8" r="3.0"/><circle cx="403.2" cy="146.6" r="3.0"/><circle cx="403.2" cy="141.4" r="3.0"/><circle cx="403.2" cy="136.3" r="3.0"/><circle cx="403.2" cy="131.1" r="3.0"/><circle cx="403.2" cy="125.9" r="3.0"/><circle cx="403.2" cy="120.7" r="3.0"/><circle cx="403.2" cy="115.6" r="3.0"/><circle cx="403.2" cy="110.4" r="3.0"/><circle cx="403.2" cy="105.2" r="3.0"/><circle cx="403.2" cy="100.1" r="3.0"/><circle cx="403.2" cy="94.9" r="3.0"/><circle cx="403.2" cy="89.7" r="3.0"/><circle cx="403.2" cy="84.5" r="3.0"/><circle cx="403.2" cy="79.4" r="3.0"/><circle cx="403.2" cy="74.2" r="3.0"/><circle cx="403.2" cy="69.0" r="3.0"/><circle cx="403.2" cy="63.9" r="3.0"/><circle cx="403.2" cy="58.7" r="3.0"/><circle cx="403.2" cy="53.5" r="3.0"/><circle cx="403.2" cy="48.3" r="3.0"/><circle cx="403.2" cy="43.2" r="3.0"/><circle cx="403.2" cy="38.0" r="3.0"/><circle cx="407.8" cy="182.8" r="3.0"/><circle cx="407.8" cy="177.6" r="3.0"/><circle cx="407.8" cy="172.5" r="3.0"/><circle cx="407.8" cy="167.3" r="3.0"/><circle cx="407.8" cy="162.1" r="3.0"/><circle cx="407.8" cy="156.9" r="3.0"/><circle cx="407.8" cy="151.8" r="3.0"/><circle cx="407.8" cy="146.6" r="3.0"/><circle cx="407.8" cy="141.4" r="3.0"/><circle cx="407.8" cy="136.3" r="3.0"/><circle cx="407.8" cy="131.1" r="3.0"/><circle cx="407.8" cy="125.9" r="3.0"/><circle cx="407.8" cy="120.7" r="3.0"/><circle cx="407.8" cy="115.6" r="3.0"/><circle cx="407.8" cy="110.4" r="3.0"/><circle cx="407.8" cy="105.2" r="3.0"/><circle cx="407.8" cy="100.1" r="3.0"/><circle cx="407.8" cy="94.9" r="3.0"/><circle cx="407.8" cy="89.7" r="3.0"/><circle cx="407.8" cy="84.5" r="3.0"/><circle cx="407.8" cy="79.4" r="3.0"/><circle cx="407.8" cy="74.2" r="3.0"/><circle cx="407.8" cy="69.0" r="3.0"/><circle cx="407.8" cy="63.9" r="3.0"/><circle cx="407.8" cy="58.7" r="3.0"/><circle cx="407.8" cy="53.5" r="3.0"/><circle cx="407.8" cy="48.3" r="3.0"/><circle cx="407.8" cy="43.2" r="3.0"/><circle cx="407.8" cy="38.0" r="3.0"/><circle cx="412.4" cy="188.0" r="3.0"/><circle cx="412.4" cy="182.8" r="3.0"/><circle cx="412.4" cy="177.6" r="3.0"/><circle cx="412.4" cy="172.5" r="3.0"/><circle cx="412.4" cy="167.3" r="3.0"/><circle cx="412.4" cy="162.1" r="3.0"/><circle cx="412.4" cy="156.9" r="3.0"/><circle cx="412.4" cy="151.8" r="3.0"/><circle cx="412.4" cy="146.6" r="3.0"/><circle cx="412.4" cy="141.4" r="3.0"/><circle cx="412.4" cy="136.3" r="3.0"/><circle cx="412.4" cy="131.1" r="3.0"/><circle cx="412.4" cy="125.9" r="3.0"/><circle cx="412.4" cy="120.7" r="3.0"/><circle cx="412.4" cy="115.6" r="3.0"/><circle cx="412.4" cy="110.4" r="3.0"/><circle cx="412.4" cy="105.2" r="3.0"/><circle cx="412.4" cy="100.1" r="3.0"/><circle cx="412.4" cy="94.9" r="3.0"/><circle cx="412.4" cy="89.7" r="3.0"/><circle cx="412.4" cy="84.5" r="3.0"/><circle cx="412.4" cy="79.4" r="3.0"/><circle cx="412.4" cy="74.2" r="3.0"/><circle cx="412.4" cy="69.0" r="3.0"/><circle cx="412.4" cy="63.9" r="3.0"/><circle cx="412.4" cy="58.7" r="3.0"/><circle cx="412.4" cy="53.5" r="3.0"/><circle cx="412.4" cy="48.3" r="3.0"/><circle cx="417.0" cy="198.3" r="3.0"/><circle cx="417.0" cy="193.1" r="3.0"/><circle cx="417.0" cy="188.0" r="3.0"/><circle cx="417.0" cy="182.8" r="3.0"/><circle cx="417.0" cy="177.6" r="3.0"/><circle cx="417.0" cy="172.5" r="3.0"/><circle cx="417.0" cy="167.3" r="3.0"/><circle cx="417.0" cy="162.1" r="3.0"/><circle cx="417.0" cy="156.9" r="3.0"/><circle cx="417.0" cy="151.8" r="3.0"/><circle cx="417.0" cy="146.6" r="3.0"/><circle cx="417.0" cy="141.4" r="3.0"/><circle cx="417.0" cy="136.3" r="3.0"/><circle cx="417.0" cy="131.1" r="3.0"/><circle cx="417.0" cy="125.9" r="3.0"/><circle cx="417.0" cy="120.7" r="3.0"/><circle cx="417.0" cy="115.6" r="3.0"/><circle cx="417.0" cy="110.4" r="3.0"/><circle cx="417.0" cy="105.2" r="3.0"/><circle cx="417.0" cy="100.1" r="3.0"/><circle cx="417.0" cy="94.9" r="3.0"/><circle cx="417.0" cy="89.7" r="3.0"/><circle cx="417.0" cy="84.5" r="3.0"/><circle cx="417.0" cy="79.4" r="3.0"/><circle cx="417.0" cy="74.2" r="3.0"/><circle cx="417.0" cy="69.0" r="3.0"/><circle cx="417.0" cy="63.9" r="3.0"/><circle cx="417.0" cy="58.7" r="3.0"/><circle cx="417.0" cy="53.5" r="3.0"/><circle cx="421.7" cy="203.5" r="3.0"/><circle cx="421.7" cy="198.3" r="3.0"/><circle cx="421.7" cy="193.1" r="3.0"/><circle cx="421.7" cy="188.0" r="3.0"/><circle cx="421.7" cy="182.8" r="3.0"/><circle cx="421.7" cy="177.6" r="3.0"/><circle cx="421.7" cy="172.5" r="3.0"/><circle cx="421.7" cy="167.3" r="3.0"/><circle cx="421.7" cy="162.1" r="3.0"/><circle cx="421.7" cy="156.9" r="3.0"/><circle cx="421.7" cy="151.8" r="3.0"/><circle cx="421.7" cy="146.6" r="3.0"/><circle cx="421.7" cy="141.4" r="3.0"/><circle cx="421.7" cy="136.3" r="3.0"/><circle cx="421.7" cy="131.1" r="3.0"/><circle cx="421.7" cy="125.9" r="3.0"/><circle cx="421.7" cy="120.7" r="3.0"/><circle cx="421.7" cy="115.6" r="3.0"/><circle cx="421.7" cy="110.4" r="3.0"/><circle cx="421.7" cy="105.2" r="3.0"/><circle cx="421.7" cy="100.1" r="3.0"/><circle cx="421.7" cy="94.9" r="3.0"/><circle cx="421.7" cy="89.7" r="3.0"/><circle cx="421.7" cy="84.5" r="3.0"/><circle cx="421.7" cy="79.4" r="3.0"/><circle cx="421.7" cy="74.2" r="3.0"/><circle cx="421.7" cy="69.0" r="3.0"/><circle cx="421.7" cy="63.9" r="3.0"/><circle cx="426.3" cy="208.7" r="3.0"/><circle cx="426.3" cy="203.5" r="3.0"/><circle cx="426.3" cy="198.3" r="3.0"/><circle cx="426.3" cy="193.1" r="3.0"/><circle cx="426.3" cy="188.0" r="3.0"/><circle cx="426.3" cy="182.8" r="3.0"/><circle cx="426.3" cy="177.6" r="3.0"/><circle cx="426.3" cy="172.5" r="3.0"/><circle cx="426.3" cy="167.3" r="3.0"/><circle cx="426.3" cy="162.1" r="3.0"/><circle cx="426.3" cy="156.9" r="3.0"/><circle cx="426.3" cy="151.8" r="3.0"/><circle cx="426.3" cy="146.6" r="3.0"/><circle cx="426.3" cy="141.4" r="3.0"/><circle cx="426.3" cy="136.3" r="3.0"/><circle cx="426.3" cy="131.1" r="3.0"/><circle cx="426.3" cy="125.9" r="3.0"/><circle cx="426.3" cy="120.7" r="3.0"/><circle cx="426.3" cy="115.6" r="3.0"/><circle cx="426.3" cy="110.4" r="3.0"/><circle cx="426.3" cy="105.2" r="3.0"/><circle cx="426.3" cy="100.1" r="3.0"/><circle cx="426.3" cy="94.9" r="3.0"/><circle cx="426.3" cy="89.7" r="3.0"/><circle cx="426.3" cy="84.5" r="3.0"/><circle cx="426.3" cy="79.4" r="3.0"/><circle cx="426.3" cy="74.2" r="3.0"/><circle cx="426.3" cy="69.0" r="3.0"/><circle cx="430.9" cy="213.8" r="3.0"/><circle cx="430.9" cy="208.7" r="3.0"/><circle cx="430.9" cy="203.5" r="3.0"/><circle cx="430.9" cy="198.3" r="3.0"/><circle cx="430.9" cy="193.1" r="3.0"/><circle cx="430.9" cy="188.0" r="3.0"/><circle cx="430.9" cy="182.8" r="3.0"/><circle cx="430.9" cy="177.6" r="3.0"/><circle cx="430.9" cy="172.5" r="3.0"/><circle cx="430.9" cy="167.3" r="3.0"/><circle cx="430.9" cy="162.1" r="3.0"/><circle cx="430.9" cy="156.9" r="3.0"/><circle cx="430.9" cy="151.8" r="3.0"/><circle cx="430.9" cy="146.6" r="3.0"/><circle cx="430.9" cy="141.4" r="3.0"/><circle cx="430.9" cy="136.3" r="3.0"/><circle cx="430.9" cy="131.1" r="3.0"/><circle cx="430.9" cy="125.9" r="3.0"/><circle cx="430.9" cy="120.7" r="3.0"/><circle cx="430.9" cy="115.6" r="3.0"/><circle cx="430.9" cy="110.4" r="3.0"/><circle cx="430.9" cy="105.2" r="3.0"/><circle cx="430.9" cy="100.1" r="3.0"/><circle cx="430.9" cy="94.9" r="3.0"/><circle cx="430.9" cy="89.7" r="3.0"/><circle cx="430.9" cy="84.5" r="3.0"/><circle cx="430.9" cy="79.4" r="3.0"/><circle cx="435.5" cy="219.0" r="3.0"/><circle cx="435.5" cy="213.8" r="3.0"/><circle cx="435.5" cy="208.7" r="3.0"/><circle cx="435.5" cy="203.5" r="3.0"/><circle cx="435.5" cy="198.3" r="3.0"/><circle cx="435.5" cy="193.1" r="3.0"/><circle cx="435.5" cy="188.0" r="3.0"/><circle cx="435.5" cy="182.8" r="3.0"/><circle cx="435.5" cy="177.6" r="3.0"/><circle cx="435.5" cy="172.5" r="3.0"/><circle cx="435.5" cy="167.3" r="3.0"/><circle cx="435.5" cy="162.1" r="3.0"/><circle cx="435.5" cy="156.9" r="3.0"/><circle cx="435.5" cy="151.8" r="3.0"/><circle cx="435.5" cy="146.6" r="3.0"/><circle cx="435.5" cy="141.4" r="3.0"/><circle cx="435.5" cy="136.3" r="3.0"/><circle cx="435.5" cy="131.1" r="3.0"/><circle cx="435.5" cy="125.9" r="3.0"/><circle cx="435.5" cy="120.7" r="3.0"/><circle cx="435.5" cy="115.6" r="3.0"/><circle cx="435.5" cy="110.4" r="3.0"/><circle cx="435.5" cy="105.2" r="3.0"/><circle cx="435.5" cy="100.1" r="3.0"/><circle cx="435.5" cy="94.9" r="3.0"/><circle cx="435.5" cy="89.7" r="3.0"/><circle cx="435.5" cy="84.5" r="3.0"/><circle cx="440.1" cy="224.2" r="3.0"/><circle cx="440.1" cy="219.0" r="3.0"/><circle cx="440.1" cy="213.8" r="3.0"/><circle cx="440.1" cy="208.7" r="3.0"/><circle cx="440.1" cy="203.5" r="3.0"/><circle cx="440.1" cy="198.3" r="3.0"/><circle cx="440.1" cy="193.1" r="3.0"/><circle cx="440.1" cy="188.0" r="3.0"/><circle cx="440.1" cy="182.8" r="3.0"/><circle cx="440.1" cy="177.6" r="3.0"/><circle cx="440.1" cy="172.5" r="3.0"/><circle cx="440.1" cy="167.3" r="3.0"/><circle cx="440.1" cy="162.1" r="3.0"/><circle cx="440.1" cy="156.9" r="3.0"/><circle cx="440.1" cy="151.8" r="3.0"/><circle cx="440.1" cy="146.6" r="3.0"/><circle cx="440.1" cy="141.4" r="3.0"/><circle cx="440.1" cy="136.3" r="3.0"/><circle cx="440.1" cy="131.1" r="3.0"/><circle cx="440.1" cy="125.9" r="3.0"/><circle cx="440.1" cy="120.7" r="3.0"/><circle cx="440.1" cy="115.6" r="3.0"/><circle cx="440.1" cy="110.4" r="3.0"/><circle cx="440.1" cy="105.2" r="3.0"/><circle cx="440.1" cy="100.1" r="3.0"/><circle cx="440.1" cy="94.9" r="3.0"/><circle cx="440.1" cy="89.7" r="3.0"/><circle cx="444.7" cy="229.3" r="3.0"/><circle cx="444.7" cy="224.2" r="3.0"/><circle cx="444.7" cy="219.0" r="3.0"/><circle cx="444.7" cy="213.8" r="3.0"/><circle cx="444.7" cy="208.7" r="3.0"/><circle cx="444.7" cy="203.5" r="3.0"/><circle cx="444.7" cy="198.3" r="3.0"/><circle cx="444.7" cy="193.1" r="3.0"/><circle cx="444.7" cy="188.0" r="3.0"/><circle cx="444.7" cy="182.8" r="3.0"/><circle cx="444.7" cy="177.6" r="3.0"/><circle cx="444.7" cy="172.5" r="3.0"/><circle cx="444.7" cy="167.3" r="3.0"/><circle cx="444.7" cy="162.1" r="3.0"/><circle cx="444.7" cy="156.9" r="3.0"/><circle cx="444.7" cy="151.8" r="3.0"/><circle cx="444.7" cy="146.6" r="3.0"/><circle cx="444.7" cy="141.4" r="3.0"/><circle cx="444.7" cy="136.3" r="3.0"/><circle cx="444.7" cy="131.1" r="3.0"/><circle cx="444.7" cy="125.9" r="3.0"/><circle cx="444.7" cy="120.7" r="3.0"/><circle cx="444.7" cy="115.6" r="3.0"/><circle cx="444.7" cy="110.4" r="3.0"/><circle cx="444.7" cy="105.2" r="3.0"/><circle cx="444.7" cy="100.1" r="3.0"/><circle cx="449.3" cy="234.5" r="3.0"/><circle cx="449.3" cy="229.3" r="3.0"/><circle cx="449.3" cy="224.2" r="3.0"/><circle cx="449.3" cy="219.0" r="3.0"/><circle cx="449.3" cy="213.8" r="3.0"/><circle cx="449.3" cy="208.7" r="3.0"/><circle cx="449.3" cy="203.5" r="3.0"/><circle cx="449.3" cy="198.3" r="3.0"/><circle cx="449.3" cy="193.1" r="3.0"/><circle cx="449.3" cy="188.0" r="3.0"/><circle cx="449.3" cy="182.8" r="3.0"/><circle cx="449.3" cy="177.6" r="3.0"/><circle cx="449.3" cy="172.5" r="3.0"/><circle cx="449.3" cy="167.3" r="3.0"/><circle cx="449.3" cy="162.1" r="3.0"/><circle cx="449.3" cy="156.9" r="3.0"/><circle cx="449.3" cy="151.8" r="3.0"/><circle cx="449.3" cy="146.6" r="3.0"/><circle cx="449.3" cy="141.4" r="3.0"/><circle cx="449.3" cy="136.3" r="3.0"/><circle cx="449.3" cy="131.1" r="3.0"/><circle cx="449.3" cy="125.9" r="3.0"/><circle cx="449.3" cy="120.7" r="3.0"/><circle cx="449.3" cy="115.6" r="3.0"/><circle cx="449.3" cy="110.4" r="3.0"/><circle cx="449.3" cy="105.2" r="3.0"/><circle cx="453.9" cy="239.7" r="3.0"/><circle cx="453.9" cy="234.5" r="3.0"/><circle cx="453.9" cy="229.3" r="3.0"/><circle cx="453.9" cy="224.2" r="3.0"/><circle cx="453.9" cy="219.0" r="3.0"/><circle cx="453.9" cy="213.8" r="3.0"/><circle cx="453.9" cy="208.7" r="3.0"/><circle cx="453.9" cy="203.5" r="3.0"/><circle cx="453.9" cy="198.3" r="3.0"/><circle cx="453.9" cy="193.1" r="3.0"/><circle cx="453.9" cy="188.0" r="3.0"/><circle cx="453.9" cy="182.8" r="3.0"/><circle cx="453.9" cy="177.6" r="3.0"/><circle cx="453.9" cy="172.5" r="3.0"/><circle cx="453.9" cy="167.3" r="3.0"/><circle cx="453.9" cy="162.1" r="3.0"/><circle cx="453.9" cy="156.9" r="3.0"/><circle cx="453.9" cy="151.8" r="3.0"/><circle cx="453.9" cy="146.6" r="3.0"/><circle cx="453.9" cy="141.4" r="3.0"/><circle cx="453.9" cy="136.3" r="3.0"/><circle cx="453.9" cy="131.1" r="3.0"/><circle cx="453.9" cy="125.9" r="3.0"/><circle cx="453.9" cy="120.7" r="3.0"/><circle cx="453.9" cy="115.6" r="3.0"/><circle cx="453.9" cy="110.4" r="3.0"/><circle cx="458.6" cy="244.9" r="3.0"/><circle cx="458.6" cy="239.7" r="3.0"/><circle cx="458.6" cy="234.5" r="3.0"/><circle cx="458.6" cy="229.3" r="3.0"/><circle cx="458.6" cy="224.2" r="3.0"/><circle cx="458.6" cy="219.0" r="3.0"/><circle cx="458.6" cy="213.8" r="3.0"/><circle cx="458.6" cy="208.7" r="3.0"/><circle cx="458.6" cy="203.5" r="3.0"/><circle cx="458.6" cy="198.3" r="3.0"/><circle cx="458.6" cy="193.1" r="3.0"/><circle cx="458.6" cy="188.0" r="3.0"/><circle cx="458.6" cy="182.8" r="3.0"/><circle cx="458.6" cy="177.6" r="3.0"/><circle cx="458.6" cy="172.5" r="3.0"/><circle cx="458.6" cy="167.3" r="3.0"/><circle cx="458.6" cy="162.1" r="3.0"/><circle cx="458.6" cy="156.9" r="3.0"/><circle cx="458.6" cy="151.8" r="3.0"/><circle cx="458.6" cy="146.6" r="3.0"/><circle cx="458.6" cy="141.4" r="3.0"/><circle cx="458.6" cy="136.3" r="3.0"/><circle cx="458.6" cy="131.1" r="3.0"/><circle cx="458.6" cy="125.9" r="3.0"/><circle cx="458.6" cy="120.7" r="3.0"/><circle cx="458.6" cy="115.6" r="3.0"/><circle cx="463.2" cy="250.0" r="3.0"/><circle cx="463.2" cy="244.9" r="3.0"/><circle cx="463.2" cy="239.7" r="3.0"/><circle cx="463.2" cy="234.5" r="3.0"/><circle cx="463.2" cy="229.3" r="3.0"/><circle cx="463.2" cy="224.2" r="3.0"/><circle cx="463.2" cy="219.0" r="3.0"/><circle cx="463.2" cy="213.8" r="3.0"/><circle cx="463.2" cy="208.7" r="3.0"/><circle cx="463.2" cy="203.5" r="3.0"/><circle cx="463.2" cy="198.3" r="3.0"/><circle cx="463.2" cy="193.1" r="3.0"/><circle cx="463.2" cy="188.0" r="3.0"/><circle cx="463.2" cy="182.8" r="3.0"/><circle cx="463.2" cy="177.6" r="3.0"/><circle cx="463.2" cy="172.5" r="3.0"/><circle cx="463.2" cy="167.3" r="3.0"/><circle cx="463.2" cy="162.1" r="3.0"/><circle cx="463.2" cy="156.9" r="3.0"/><circle cx="463.2" cy="151.8" r="3.0"/><circle cx="463.2" cy="146.6" r="3.0"/><circle cx="463.2" cy="141.4" r="3.0"/><circle cx="463.2" cy="136.3" r="3.0"/><circle cx="463.2" cy="131.1" r="3.0"/><circle cx="463.2" cy="125.9" r="3.0"/><circle cx="463.2" cy="120.7" r="3.0"/><circle cx="467.8" cy="255.2" r="3.0"/><circle cx="467.8" cy="250.0" r="3.0"/><circle cx="467.8" cy="244.9" r="3.0"/><circle cx="467.8" cy="239.7" r="3.0"/><circle cx="467.8" cy="234.5" r="3.0"/><circle cx="467.8" cy="229.3" r="3.0"/><circle cx="467.8" cy="224.2" r="3.0"/><circle cx="467.8" cy="219.0" r="3.0"/><circle cx="467.8" cy="213.8" r="3.0"/><circle cx="467.8" cy="208.7" r="3.0"/><circle cx="467.8" cy="203.5" r="3.0"/><circle cx="467.8" cy="198.3" r="3.0"/><circle cx="467.8" cy="193.1" r="3.0"/><circle cx="467.8" cy="188.0" r="3.0"/><circle cx="467.8" cy="182.8" r="3.0"/><circle cx="467.8" cy="177.6" r="3.0"/><circle cx="467.8" cy="172.5" r="3.0"/><circle cx="467.8" cy="167.3" r="3.0"/><circle cx="467.8" cy="162.1" r="3.0"/><circle cx="467.8" cy="156.9" r="3.0"/><circle cx="467.8" cy="151.8" r="3.0"/><circle cx="467.8" cy="146.6" r="3.0"/><circle cx="467.8" cy="141.4" r="3.0"/><circle cx="467.8" cy="136.3" r="3.0"/><circle cx="467.8" cy="131.1" r="3.0"/><circle cx="472.4" cy="255.2" r="3.0"/><circle cx="472.4" cy="250.0" r="3.0"/><circle cx="472.4" cy="244.9" r="3.0"/><circle cx="472.4" cy="239.7" r="3.0"/><circle cx="472.4" cy="234.5" r="3.0"/><circle cx="472.4" cy="229.3" r="3.0"/><circle cx="472.4" cy="224.2" r="3.0"/><circle cx="472.4" cy="219.0" r="3.0"/><circle cx="472.4" cy="213.8" r="3.0"/><circle cx="472.4" cy="208.7" r="3.0"/><circle cx="472.4" cy="203.5" r="3.0"/><circle cx="472.4" cy="198.3" r="3.0"/><circle cx="472.4" cy="193.1" r="3.0"/><circle cx="472.4" cy="188.0" r="3.0"/><circle cx="472.4" cy="182.8" r="3.0"/><circle cx="472.4" cy="177.6" r="3.0"/><circle cx="472.4" cy="172.5" r="3.0"/><circle cx="472.4" cy="167.3" r="3.0"/><circle cx="472.4" cy="162.1" r="3.0"/><circle cx="472.4" cy="156.9" r="3.0"/><circle cx="472.4" cy="151.8" r="3.0"/><circle cx="472.4" cy="146.6" r="3.0"/><circle cx="472.4" cy="141.4" r="3.0"/><circle cx="472.4" cy="136.3" r="3.0"/><circle cx="477.0" cy="260.4" r="3.0"/><circle cx="477.0" cy="255.2" r="3.0"/><circle cx="477.0" cy="250.0" r="3.0"/><circle cx="477.0" cy="244.9" r="3.0"/><circle cx="477.0" cy="239.7" r="3.0"/><circle cx="477.0" cy="234.5" r="3.0"/><circle cx="477.0" cy="229.3" r="3.0"/><circle cx="477.0" cy="224.2" r="3.0"/><circle cx="477.0" cy="219.0" r="3.0"/><circle cx="477.0" cy="213.8" r="3.0"/><circle cx="477.0" cy="208.7" r="3.0"/><circle cx="477.0" cy="203.5" r="3.0"/><circle cx="477.0" cy="198.3" r="3.0"/><circle cx="477.0" cy="193.1" r="3.0"/><circle cx="477.0" cy="188.0" r="3.0"/><circle cx="477.0" cy="182.8" r="3.0"/><circle cx="477.0" cy="177.6" r="3.0"/><circle cx="477.0" cy="172.5" r="3.0"/><circle cx="477.0" cy="167.3" r="3.0"/><circle cx="477.0" cy="162.1" r="3.0"/><circle cx="477.0" cy="156.9" r="3.0"/><circle cx="477.0" cy="151.8" r="3.0"/><circle cx="477.0" cy="146.6" r="3.0"/><circle cx="477.0" cy="141.4" r="3.0"/><circle cx="481.6" cy="265.5" r="3.0"/><circle cx="481.6" cy="260.4" r="3.0"/><circle cx="481.6" cy="255.2" r="3.0"/><circle cx="481.6" cy="250.0" r="3.0"/><circle cx="481.6" cy="244.9" r="3.0"/><circle cx="481.6" cy="239.7" r="3.0"/><circle cx="481.6" cy="234.5" r="3.0"/><circle cx="481.6" cy="229.3" r="3.0"/><circle cx="481.6" cy="224.2" r="3.0"/><circle cx="481.6" cy="219.0" r="3.0"/><circle cx="481.6" cy="213.8" r="3.0"/><circle cx="481.6" cy="208.7" r="3.0"/><circle cx="481.6" cy="203.5" r="3.0"/><circle cx="481.6" cy="198.3" r="3.0"/><circle cx="481.6" cy="193.1" r="3.0"/><circle cx="481.6" cy="188.0" r="3.0"/><circle cx="481.6" cy="182.8" r="3.0"/><circle cx="481.6" cy="177.6" r="3.0"/><circle cx="481.6" cy="172.5" r="3.0"/><circle cx="481.6" cy="167.3" r="3.0"/><circle cx="481.6" cy="162.1" r="3.0"/><circle cx="481.6" cy="156.9" r="3.0"/><circle cx="481.6" cy="151.8" r="3.0"/><circle cx="481.6" cy="146.6" r="3.0"/><circle cx="486.2" cy="270.7" r="3.0"/><circle cx="486.2" cy="265.5" r="3.0"/><circle cx="486.2" cy="260.4" r="3.0"/><circle cx="486.2" cy="255.2" r="3.0"/><circle cx="486.2" cy="250.0" r="3.0"/><circle cx="486.2" cy="244.9" r="3.0"/><circle cx="486.2" cy="239.7" r="3.0"/><circle cx="486.2" cy="234.5" r="3.0"/><circle cx="486.2" cy="229.3" r="3.0"/><circle cx="486.2" cy="224.2" r="3.0"/><circle cx="486.2" cy="219.0" r="3.0"/><circle cx="486.2" cy="213.8" r="3.0"/><circle cx="486.2" cy="208.7" r="3.0"/><circle cx="486.2" cy="203.5" r="3.0"/><circle cx="486.2" cy="198.3" r="3.0"/><circle cx="486.2" cy="193.1" r="3.0"/><circle cx="486.2" cy="188.0" r="3.0"/><circle cx="486.2" cy="182.8" r="3.0"/><circle cx="486.2" cy="177.6" r="3.0"/><circle cx="486.2" cy="172.5" r="3.0"/><circle cx="486.2" cy="167.3" r="3.0"/><circle cx="486.2" cy="162.1" r="3.0"/><circle cx="486.2" cy="156.9" r="3.0"/><circle cx="486.2" cy="151.8" r="3.0"/><circle cx="490.8" cy="275.9" r="3.0"/><circle cx="490.8" cy="270.7" r="3.0"/><circle cx="490.8" cy="265.5" r="3.0"/><circle cx="490.8" cy="260.4" r="3.0"/><circle cx="490.8" cy="255.2" r="3.0"/><circle cx="490.8" cy="250.0" r="3.0"/><circle cx="490.8" cy="244.9" r="3.0"/><circle cx="490.8" cy="239.7" r="3.0"/><circle cx="490.8" cy="234.5" r="3.0"/><circle cx="490.8" cy="229.3" r="3.0"/><circle cx="490.8" cy="224.2" r="3.0"/><circle cx="490.8" cy="219.0" r="3.0"/><circle cx="490.8" cy="213.8" r="3.0"/><circle cx="490.8" cy="208.7" r="3.0"/><circle cx="490.8" cy="203.5" r="3.0"/><circle cx="490.8" cy="198.3" r="3.0"/><circle cx="490.8" cy="193.1" r="3.0"/><circle cx="490.8" cy="188.0" r="3.0"/><circle cx="490.8" cy="182.8" r="3.0"/><circle cx="490.8" cy="177.6" r="3.0"/><circle cx="490.8" cy="172.5" r="3.0"/><circle cx="490.8" cy="167.3" r="3.0"/><circle cx="490.8" cy="162.1" r="3.0"/><circle cx="490.8" cy="156.9" r="3.0"/><circle cx="495.5" cy="275.9" r="3.0"/><circle cx="495.5" cy="270.7" r="3.0"/><circle cx="495.5" cy="265.5" r="3.0"/><circle cx="495.5" cy="260.4" r="3.0"/><circle cx="495.5" cy="255.2" r="3.0"/><circle cx="495.5" cy="250.0" r="3.0"/><circle cx="495.5" cy="244.9" r="3.0"/><circle cx="495.5" cy="239.7" r="3.0"/><circle cx="495.5" cy="234.5" r="3.0"/><circle cx="495.5" cy="229.3" r="3.0"/><circle cx="495.5" cy="224.2" r="3.0"/><circle cx="495.5" cy="219.0" r="3.0"/><circle cx="495.5" cy="213.8" r="3.0"/><circle cx="495.5" cy="208.7" r="3.0"/><circle cx="495.5" cy="203.5" r="3.0"/><circle cx="495.5" cy="198.3" r="3.0"/><circle cx="495.5" cy="193.1" r="3.0"/><circle cx="495.5" cy="188.0" r="3.0"/><circle cx="495.5" cy="182.8" r="3.0"/><circle cx="495.5" cy="177.6" r="3.0"/><circle cx="495.5" cy="172.5" r="3.0"/><circle cx="495.5" cy="167.3" r="3.0"/><circle cx="495.5" cy="162.1" r="3.0"/><circle cx="500.1" cy="281.1" r="3.0"/><circle cx="500.1" cy="275.9" r="3.0"/><circle cx="500.1" cy="270.7" r="3.0"/><circle cx="500.1" cy="265.5" r="3.0"/><circle cx="500.1" cy="260.4" r="3.0"/><circle cx="500.1" cy="255.2" r="3.0"/><circle cx="500.1" cy="250.0" r="3.0"/><circle cx="500.1" cy="244.9" r="3.0"/><circle cx="500.1" cy="239.7" r="3.0"/><circle cx="500.1" cy="234.5" r="3.0"/><circle cx="500.1" cy="229.3" r="3.0"/><circle cx="500.1" cy="224.2" r="3.0"/><circle cx="500.1" cy="219.0" r="3.0"/><circle cx="500.1" cy="213.8" r="3.0"/><circle cx="500.1" cy="208.7" r="3.0"/><circle cx="500.1" cy="203.5" r="3.0"/><circle cx="500.1" cy="198.3" r="3.0"/><circle cx="500.1" cy="193.1" r="3.0"/><circle cx="500.1" cy="188.0" r="3.0"/><circle cx="500.1" cy="182.8" r="3.0"/><circle cx="500.1" cy="177.6" r="3.0"/><circle cx="500.1" cy="172.5" r="3.0"/><circle cx="500.1" cy="167.3" r="3.0"/><circle cx="504.7" cy="286.2" r="3.0"/><circle cx="504.7" cy="281.1" r="3.0"/><circle cx="504.7" cy="275.9" r="3.0"/><circle cx="504.7" cy="270.7" r="3.0"/><circle cx="504.7" cy="265.5" r="3.0"/><circle cx="504.7" cy="260.4" r="3.0"/><circle cx="504.7" cy="255.2" r="3.0"/><circle cx="504.7" cy="250.0" r="3.0"/><circle cx="504.7" cy="244.9" r="3.0"/><circle cx="504.7" cy="239.7" r="3.0"/><circle cx="504.7" cy="234.5" r="3.0"/><circle cx="504.7" cy="229.3" r="3.0"/><circle cx="504.7" cy="224.2" r="3.0"/><circle cx="504.7" cy="219.0" r="3.0"/><circle cx="504.7" cy="213.8" r="3.0"/><circle cx="504.7" cy="208.7" r="3.0"/><circle cx="504.7" cy="203.5" r="3.0"/><circle cx="504.7" cy="198.3" r="3.0"/><circle cx="504.7" cy="193.1" r="3.0"/><circle cx="504.7" cy="188.0" r="3.0"/><circle cx="504.7" cy="182.8" r="3.0"/><circle cx="504.7" cy="177.6" r="3.0"/><circle cx="504.7" cy="172.5" r="3.0"/><circle cx="509.3" cy="291.4" r="3.0"/><circle cx="509.3" cy="286.2" r="3.0"/><circle cx="509.3" cy="281.1" r="3.0"/><circle cx="509.3" cy="275.9" r="3.0"/><circle cx="509.3" cy="270.7" r="3.0"/><circle cx="509.3" cy="265.5" r="3.0"/><circle cx="509.3" cy="260.4" r="3.0"/><circle cx="509.3" cy="255.2" r="3.0"/><circle cx="509.3" cy="250.0" r="3.0"/><circle cx="509.3" cy="244.9" r="3.0"/><circle cx="509.3" cy="239.7" r="3.0"/><circle cx="509.3" cy="234.5" r="3.0"/><circle cx="509.3" cy="229.3" r="3.0"/><circle cx="509.3" cy="224.2" r="3.0"/><circle cx="509.3" cy="219.0" r="3.0"/><circle cx="509.3" cy="213.8" r="3.0"/><circle cx="509.3" cy="208.7" r="3.0"/><circle cx="509.3" cy="203.5" r="3.0"/><circle cx="509.3" cy="198.3" r="3.0"/><circle cx="509.3" cy="193.1" r="3.0"/><circle cx="509.3" cy="188.0" r="3.0"/><circle cx="509.3" cy="182.8" r="3.0"/><circle cx="509.3" cy="177.6" r="3.0"/><circle cx="513.9" cy="291.4" r="3.0"/><circle cx="513.9" cy="286.2" r="3.0"/><circle cx="513.9" cy="281.1" r="3.0"/><circle cx="513.9" cy="275.9" r="3.0"/><circle cx="513.9" cy="270.7" r="3.0"/><circle cx="513.9" cy="265.5" r="3.0"/><circle cx="513.9" cy="260.4" r="3.0"/><circle cx="513.9" cy="255.2" r="3.0"/><circle cx="513.9" cy="250.0" r="3.0"/><circle cx="513.9" cy="244.9" r="3.0"/><circle cx="513.9" cy="239.7" r="3.0"/><circle cx="513.9" cy="234.5" r="3.0"/><circle cx="513.9" cy="229.3" r="3.0"/><circle cx="513.9" cy="224.2" r="3.0"/><circle cx="513.9" cy="219.0" r="3.0"/><circle cx="513.9" cy="213.8" r="3.0"/><circle cx="513.9" cy="208.7" r="3.0"/><circle cx="513.9" cy="203.5" r="3.0"/><circle cx="513.9" cy="198.3" r="3.0"/><circle cx="513.9" cy="193.1" r="3.0"/><circle cx="513.9" cy="188.0" r="3.0"/><circle cx="513.9" cy="182.8" r="3.0"/></g></g>
<g font-family="Liberation Sans, Arial, sans-serif" font-weight="bold" font-size="16" fill="#151515" stroke="#151515" stroke-width="0.35"><text transform="translate(52.3,422.8) scale(1.07,1)" text-anchor="middle">0</text><text transform="translate(144.5,422.8) scale(1.07,1)" text-anchor="middle">0.2</text><text transform="translate(236.8,422.8) scale(1.07,1)" text-anchor="middle">0.4</text><text transform="translate(329.0,422.8) scale(1.07,1)" text-anchor="middle">0.6</text><text transform="translate(421.3,422.8) scale(1.07,1)" text-anchor="middle">0.8</text><text transform="translate(513.5,422.8) scale(1.07,1)" text-anchor="middle">1</text><text transform="translate(46.2,406.4) scale(1.08,1)" text-anchor="end">2.5</text><text transform="translate(46.2,354.7) scale(1.08,1)" text-anchor="end">3</text><text transform="translate(46.2,303.0) scale(1.08,1)" text-anchor="end">3.5</text><text transform="translate(46.2,251.3) scale(1.08,1)" text-anchor="end">4</text><text transform="translate(46.2,199.5) scale(1.08,1)" text-anchor="end">4.5</text><text transform="translate(46.2,147.8) scale(1.08,1)" text-anchor="end">5</text><text transform="translate(46.2,96.1) scale(1.08,1)" text-anchor="end">5.5</text><text transform="translate(46.2,44.4) scale(1.08,1)" text-anchor="end">6</text></g>
<g font-family="Liberation Sans, Arial, sans-serif" font-weight="bold" font-size="18" fill="#151515" stroke="#151515" stroke-width="0.35"><text transform="translate(283.5,446.2) scale(1.035,1)" text-anchor="middle">Effective mass</text><text transform="translate(16.2,220.5) rotate(-90) scale(0.985,1)" text-anchor="middle">Epsilon Infinity</text></g>
<g font-family="Liberation Serif, Times New Roman, serif" font-size="12.6" fill="#111" stroke="#111" stroke-width="0.25"><text x="66" y="25">3x10<tspan dy="-4.5" font-size="7.8">20</tspan><tspan dy="4.5"> cm</tspan><tspan dy="-4.5" font-size="7.8">-3</tspan></text><text x="132" y="12">6x10<tspan dy="-4.5" font-size="7.8">20</tspan></text><text x="137.5" y="25">cm<tspan dy="-4.5" font-size="7.8">-3</tspan></text><text x="172" y="25">9x10<tspan dy="-4.5" font-size="7.8">20</tspan><tspan dy="4.5"> cm</tspan><tspan dy="-4.5" font-size="7.8">-3</tspan></text><text x="239.5" y="25">13x10<tspan dy="-4.5" font-size="7.8">20</tspan><tspan dy="4.5"> cm</tspan><tspan dy="-4.5" font-size="7.8">-3</tspan></text><text x="335" y="25">19x10<tspan dy="-4.5" font-size="7.8">20</tspan><tspan dy="4.5"> cm</tspan><tspan dy="-4.5" font-size="7.8">-3</tspan></text></g>
<g font-family="Liberation Serif, Times New Roman, serif" font-size="12.9" fill="#111" stroke="#111" stroke-width="0.2" text-anchor="middle"><text x="95.4" y="362">Increasing</text><text x="95.4" y="377">Carrier</text><text x="95.4" y="392">Density</text></g><g font-family="Liberation Serif, Times New Roman, serif" font-size="13.3" fill="#111" stroke="#111" stroke-width="0.25"><text transform="translate(382.6,130.5) rotate(-34)">λ<tspan dy="3" font-size="8.5">CO</tspan><tspan dy="-3">:1400 nm</tspan></text><text transform="translate(396,139.5) rotate(-34)">to 1600 nm</text></g>
<path d="M104.5 195.4L125.3 195.4M109.5 198.4L104.5 195.4L109.5 192.4M120.3 198.4L125.3 195.4L120.3 192.4" fill="none" stroke="#111" stroke-width="1.3" stroke-linecap="round" stroke-linejoin="round"/><path d="M165.9 190.1L195.7 183.8M171.7 191.9L165.9 190.1L170.5 186.1M191.1 187.8L195.7 183.8L189.9 182.0" fill="none" stroke="#111" stroke-width="1.3" stroke-linecap="round" stroke-linejoin="round"/><path d="M222.7 177.3L259.0 165.8M229.4 178.5L222.7 177.3L227.5 172.4M254.2 170.7L259.0 165.8L252.3 164.6" fill="none" stroke="#111" stroke-width="1.3" stroke-linecap="round" stroke-linejoin="round"/><path d="M288.0 153.8L333.0 132.0M294.8 154.2L288.0 153.8L292.0 148.2M329.0 137.6L333.0 132.0L326.2 131.6" fill="none" stroke="#111" stroke-width="1.3" stroke-linecap="round" stroke-linejoin="round"/><path d="M368.5 113.1L422.9 73.0M376.1 112.0L368.5 113.1L371.8 106.2M419.6 79.9L422.9 73.0L415.3 74.1" fill="none" stroke="#111" stroke-width="1.3" stroke-linecap="round" stroke-linejoin="round"/>
<path d="M133.5 383.6C140.9 383.6 160.7 384.5 177.7 383.8C194.7 383.1 217.5 381.6 235.4 379.3C253.3 377.0 270.9 373.6 285.4 370.0C299.9 366.4 312.4 360.8 322.3 357.5C332.2 354.2 337.1 352.8 344.5 350.0C351.9 347.2 359.4 344.4 366.8 341.0C374.2 337.6 381.6 333.8 389.0 329.5C396.4 325.2 404.0 320.7 411.4 315.5C418.8 310.3 426.9 304.2 433.6 298.2C440.3 292.2 446.2 285.6 451.4 279.5C456.6 273.4 460.9 267.3 464.8 261.3C468.7 255.3 472.0 249.4 474.6 243.5C477.2 237.6 478.9 232.0 480.4 225.6C481.9 219.2 483.2 208.4 483.8 205.0" fill="none" stroke="#111" stroke-width="2.25" stroke-dasharray="10.04 6.02" id="crv"/><path d="M478.9 211.6L483.8 203.6L488.6 211.6" fill="none" stroke="#111" stroke-width="2.2" stroke-linecap="round" stroke-linejoin="round"/>
</svg>
</body></html>
